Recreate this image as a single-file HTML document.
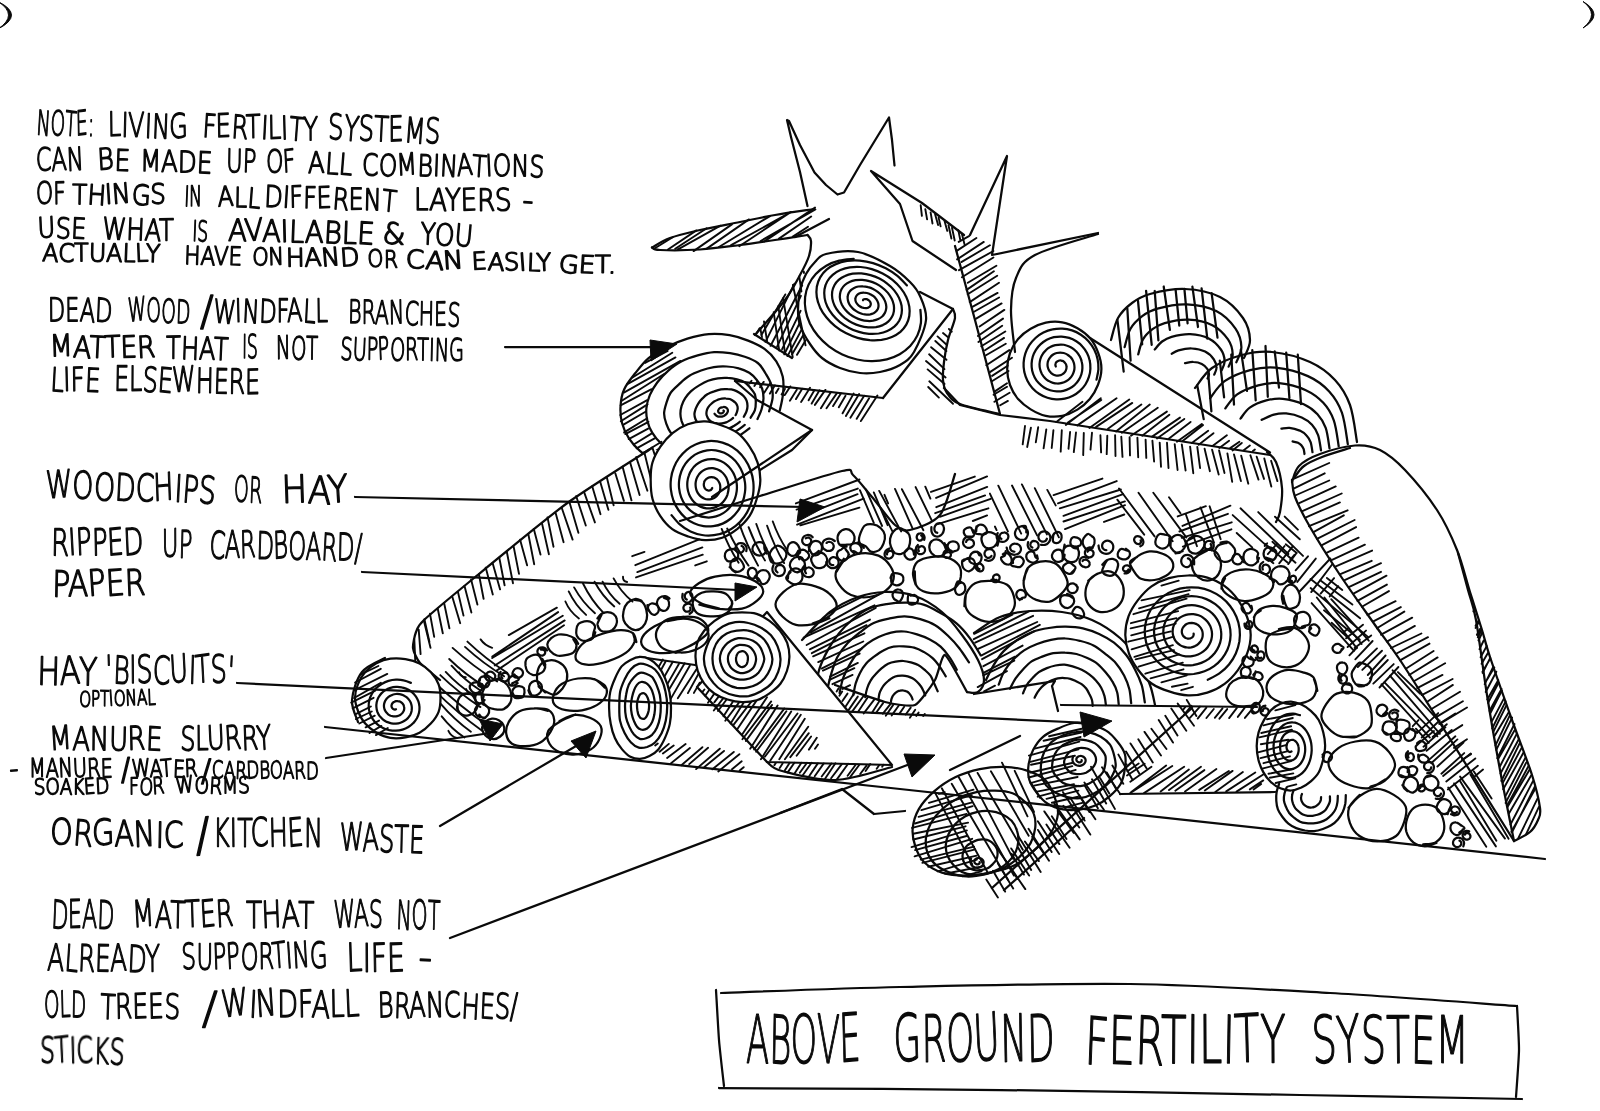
<!DOCTYPE html>
<html lang="en"><head><meta charset="utf-8"><title>Above Ground Fertility System</title>
<style>
html,body{margin:0;padding:0;background:#fff;}
body{width:1600px;height:1111px;overflow:hidden;font-family:"DejaVu Sans Light","DejaVu Sans","Liberation Sans",sans-serif;}
svg{display:block}
.pen{fill:none;stroke:#0a0a0a;stroke-width:2.25;stroke-linecap:round;stroke-linejoin:round}
.h{stroke-width:1.9}.w{fill:#fff}.wf{fill:#fff;stroke:none}
.ink{fill:#0a0a0a;stroke:#0a0a0a;stroke-width:1;stroke-linejoin:round}
text{font-family:"DejaVu Sans Light","DejaVu Sans","Liberation Sans",sans-serif;font-weight:200;fill:#0a0a0a;stroke:#0a0a0a;stroke-width:1.5;stroke-linejoin:round}
</style></head><body>
<svg width="1600" height="1111" viewBox="0 0 1600 1111">
<rect width="1600" height="1111" fill="#fff"/>
<g class="pen">
<path d="M807.5 206L800 172L791 137L787 120L789 121L800 145L814.5 172.5L826 185L837.5 194.5L844 192.5L860 165L889 117.5L892 140L894.5 165.5"/>
<path d="M814 209C807.5 210 787.3 212.8 775 215C762.7 217.2 752.5 219.5 740 222C727.5 224.5 711.7 227.3 700 230C688.3 232.7 678 235.1 670 238C662 240.9 655 245.9 652 247.5"/>
<path d="M652 247.5C653.3 247.9 652 249.7 660 250C668 250.3 686.7 250.3 700 249.5C713.3 248.7 727.5 246.6 740 245C752.5 243.4 763.8 241.7 775 240C786.2 238.3 802.1 235.8 807.5 235"/>
<path d="M807.5 235C808.1 236 810.8 237.5 811 241C811.2 244.5 810.8 250.3 809 256C807.2 261.7 804 267.7 800 275C796 282.3 792.5 290 785 300C777.5 310 760 329.2 755 335"/>
<path class="h" d="M654.5 248.5L672.7 237.3M668 249.5L696.4 230.4M675.2 248.8L706.7 228.2M678 249.3L720.5 225.7M693.6 251.1L731.9 224.4M706.4 248.9L749 219.4M718.9 247L770 216.1M731.1 245.2L790.7 212.2M739.3 246.2L791 211.9M760.6 241L815.4 209.5M764 241.6L815 207.6M779 238.6L811.2 216.5M792.8 236.6L808 226.8"/>
<path d="M795 237L829 219"/>
<path d="M826 254C833.2 252.3 847.3 250 858 252C868.7 254 881.3 261 890 266C898.7 271 905 277 910 282C915 287 917.3 289.7 920 296C922.7 302.3 927 310.7 926 320C925 329.3 918.3 344.5 914 352C909.7 359.5 905.7 361.7 900 365C894.3 368.3 886.7 370.7 880 372C873.3 373.3 866.7 373.7 860 373C853.3 372.3 846.3 370.5 840 368C833.7 365.5 827 362 822 358C817 354 813.7 349.5 810 344C806.3 338.5 802 330.7 800 325C798 319.3 798 315.8 798 310C798 304.2 798.7 296 800 290C801.3 284 803.5 278.7 806 274C808.5 269.3 811.7 265.3 815 262C818.3 258.7 818.8 255.7 826 254Z"/>
<path d="M863 300.3C863 300.2 863.1 299.9 863.3 299.8C863.4 299.6 863.6 299.5 863.8 299.3C864.1 299.2 864.3 299.1 864.6 299.1C864.9 299 865.3 299 865.6 299C866 299 866.3 299.1 866.7 299.2C867.1 299.3 867.5 299.5 867.9 299.7C868.2 299.9 868.6 300.2 868.9 300.4C869.3 300.7 869.6 301.1 869.8 301.4C870.1 301.8 870.3 302.2 870.5 302.6C870.6 303 870.7 303.4 870.8 303.8C870.8 304.2 870.8 304.7 870.6 305.1C870.5 305.5 870.3 305.9 870 306.2C869.8 306.6 869.4 306.9 869 307.2C868.6 307.5 868.1 307.7 867.6 307.9C867 308 866.4 308.1 865.8 308.1C865.1 308.1 864.5 308.1 863.8 308C863.1 307.8 862.4 307.6 861.7 307.4C861 307.1 860.3 306.7 859.7 306.3C859 305.9 858.4 305.4 857.9 304.8C857.4 304.3 856.9 303.7 856.5 303C856.1 302.4 855.8 301.7 855.6 301C855.4 300.3 855.3 299.6 855.4 299C855.4 298.3 855.5 297.6 855.8 297C856.1 296.3 856.4 295.7 856.9 295.2C857.4 294.7 858 294.2 858.7 293.8C859.4 293.4 860.2 293.1 861.1 292.9C861.9 292.8 862.9 292.6 863.8 292.7C864.8 292.7 865.8 292.8 866.8 293C867.9 293.3 868.9 293.6 869.9 294.1C870.9 294.5 871.9 295.1 872.8 295.7C873.7 296.4 874.5 297.1 875.3 297.9C876 298.7 876.6 299.6 877.1 300.5C877.6 301.4 878 302.4 878.3 303.4C878.5 304.3 878.6 305.3 878.5 306.3C878.4 307.2 878.2 308.1 877.8 309C877.4 309.8 876.8 310.7 876.1 311.3C875.4 312 874.5 312.7 873.6 313.2C872.6 313.6 871.5 314 870.3 314.3C869.2 314.5 867.9 314.6 866.6 314.5C865.3 314.5 863.9 314.3 862.5 314C861.2 313.6 859.8 313.1 858.5 312.5C857.2 311.9 855.9 311.1 854.8 310.2C853.6 309.4 852.5 308.4 851.6 307.3C850.7 306.3 849.8 305.1 849.2 303.9C848.6 302.7 848.1 301.4 847.9 300.2C847.6 299 847.5 297.7 847.7 296.5C847.8 295.3 848.1 294.1 848.7 293.1C849.2 292 850 291 850.9 290.1C851.8 289.2 852.9 288.5 854.1 287.9C855.4 287.3 856.8 286.8 858.3 286.5C859.7 286.3 861.4 286.2 863 286.3C864.6 286.3 866.4 286.6 868.1 287.1C869.7 287.5 871.5 288.1 873.1 288.9C874.7 289.7 876.3 290.7 877.7 291.8C879.1 292.9 880.5 294.1 881.6 295.4C882.7 296.7 883.7 298.2 884.4 299.7C885.2 301.1 885.7 302.7 886 304.2C886.3 305.7 886.4 307.3 886.2 308.7C886 310.2 885.6 311.6 884.9 312.9C884.2 314.2 883.3 315.4 882.2 316.5C881 317.5 879.7 318.4 878.2 319.1C876.7 319.8 874.9 320.3 873.1 320.7C871.3 321 869.4 321.1 867.4 320.9C865.4 320.8 863.3 320.5 861.3 319.9C859.3 319.4 857.2 318.6 855.3 317.6C853.4 316.7 851.5 315.5 849.8 314.2C848.2 312.9 846.6 311.4 845.3 309.8C843.9 308.3 842.8 306.5 841.9 304.8C841.1 303 840.4 301.2 840.1 299.4C839.8 297.6 839.7 295.8 840 294.1C840.2 292.4 840.7 290.7 841.5 289.2C842.4 287.6 843.5 286.2 844.8 285C846.1 283.8 847.8 282.7 849.5 281.9C851.3 281.1 853.4 280.5 855.5 280.1C857.6 279.8 859.9 279.7 862.2 279.8C864.5 280 867 280.4 869.3 281.1C871.6 281.7 874 282.7 876.3 283.8C878.5 284.9 880.7 286.3 882.6 287.8C884.6 289.3 886.4 291.1 887.9 292.9C889.4 294.8 890.7 296.8 891.7 298.8C892.7 300.8 893.4 302.9 893.8 305C894.1 307.1 894.2 309.2 893.9 311.1C893.6 313.1 893 315.1 892 316.8C891.1 318.5 889.8 320.2 888.2 321.6C886.7 322.9 884.8 324.1 882.8 325.1C880.7 326 878.4 326.7 875.9 327.1C873.5 327.4 870.8 327.5 868.2 327.4C865.6 327.2 862.8 326.7 860.1 325.9C857.4 325.2 854.7 324.1 852.1 322.8C849.6 321.5 847.1 319.9 844.9 318.2C842.7 316.4 840.7 314.4 838.9 312.3C837.2 310.2 835.7 307.9 834.6 305.7C833.5 303.4 832.7 300.9 832.3 298.6C831.9 296.3 831.9 293.9 832.2 291.6C832.6 289.4 833.3 287.2 834.4 285.2C835.5 283.3 837 281.4 838.7 279.9C840.5 278.3 842.6 277 845 276C847.3 274.9 849.9 274.2 852.7 273.7C855.4 273.3 858.4 273.2 861.4 273.4C864.4 273.7 867.5 274.2 870.5 275.1C873.5 276 876.6 277.2 879.4 278.6C882.3 280.1 885.1 281.9 887.5 283.9C890 285.8 892.3 288.1 894.2 290.4C896.1 292.8 897.8 295.3 899 297.9C900.2 300.5 901.1 303.2 901.6 305.8C902 308.4 902 311.1 901.6 313.6C901.2 316.1 900.4 318.5 899.2 320.7C897.9 322.9 896.3 324.9 894.3 326.7C892.3 328.4 889.9 329.9 887.3 331C884.7 332.2 881.8 333 878.7 333.5C875.7 333.9 872.3 334 869 333.8C865.7 333.5 862.2 332.9 858.9 331.9C855.5 330.9 852.1 329.6 849 327.9C845.8 326.3 842.7 324.3 840 322.1C837.3 319.9 834.7 317.4 832.6 314.8C830.5 312.2 828.7 309.4 827.3 306.5C826 303.7 825 300.7 824.6 297.8C824.1 294.9 824.1 291.9 824.5 289.2C825 286.5 825.9 283.7 827.3 281.3C828.6 278.9 830.5 276.7 832.7 274.8C834.9 272.9 837.5 271.2 840.4 270C843.2 268.8 846.5 267.8 849.9 267.3C853.3 266.9 856.9 266.7 860.6 267C864.2 267.3 868.1 268 871.8 269.1C875.4 270.2 879.2 271.7 882.6 273.5C886.1 275.3 889.5 277.5 892.5 279.9C895.4 282.3 898.2 285.1 900.5 287.9C902.9 290.8 904.8 293.9 906.3 297C907.8 300.1 908.8 303.4 909.3 306.6C909.8 309.8 909.8 313 909.3 316C908.8 319 907.8 322 906.3 324.6C904.8 327.2 902.8 329.7 900.4 331.8C898 333.8 895.1 335.6 891.9 337C888.8 338.3 885.2 339.3 881.5 339.9C877.8 340.4 873.8 340.5 869.8 340.2C865.8 339.8 861.6 339.1 857.6 337.9C853.6 336.7 849.5 335 845.8 333.1C842 331.1 838.3 328.7 835.1 326.1C831.8 323.5 828.8 320.4 826.3 317.3C823.8 314.2 821.6 310.8 820 307.4C818.5 304 817.3 300.4 816.8 297C816.3 293.5 816.3 290 816.8 286.8C817.4 283.5 818.5 280.3 820.2 277.4C821.8 274.6 824 271.9 826.6 269.7C829.2 267.5 832.4 265.5 835.8 264.1C839.2 262.6 843.1 261.5 847.1 260.9C851.1 260.4 855.5 260.3 859.8 260.6C864.1 261 868.6 261.8 873 263.1C877.3 264.4 881.7 266.2 885.8 268.3C889.9 270.5 893.9 273.1 897.4 275.9C900.9 278.8 905.3 283.8 906.9 285.4"/>
<path d="M920.4 309.8C920.5 312 921.4 318.7 920.9 323C920.4 327.3 919.2 331.5 917.4 335.4C915.6 339.2 913.1 342.9 910.2 346C907.2 349.1 903.6 351.9 899.7 354.2C895.8 356.4 891.4 358.2 886.8 359.3C882.2 360.5 877.2 361.1 872.3 361.1C867.3 361.2 862.1 360.6 857.1 359.5C852.1 358.3 847 356.6 842.3 354.4C837.6 352.2 833 349.4 828.9 346.3C824.9 343.2 821 339.6 817.9 335.8C814.7 332 812 327.7 809.9 323.5C807.9 319.2 806.4 314.7 805.6 310.2C804.8 305.8 804.6 301.3 805.1 297C805.6 292.7 806.8 288.5 808.6 284.6C810.4 280.8 812.9 277.1 815.8 274C818.8 270.9 822.4 268.1 826.3 265.8C830.2 263.6 834.6 261.8 839.2 260.7C843.8 259.5 851.3 259.2 853.7 258.9"/>
<path d="M920 292L953 309L883 398"/>
<path d="M953 309C953.3 310.5 955.8 312.8 955 318C954.2 323.2 949.8 332.7 948 340C946.2 347.3 944.8 355.3 944 362C943.2 368.7 942.5 374.8 943 380C943.5 385.2 944.2 389 947 393C949.8 397 951.2 400.5 960 404C968.8 407.5 993.3 412.3 1000 414"/>
<path class="h" d="M948.9 329L951.8 331.7M943 333L947.8 336.9M937.5 336.4L946.6 344.7M935.3 341L946.4 351M931.1 347.2L946.5 359.8M929.1 354.3L944.5 369.1M926 361L945.6 377.4M927.6 369.4L944.6 384M929.3 381.3L953 403.8M928.2 387L938.9 397.6"/>
<path d="M735 381L883 398"/>
<path class="h" d="M749.7 383.4L751.5 380.7M754.4 386L757 382M760.1 387.3L763.7 381.9M764.2 392.8L770.4 383M769.9 393.6L774.8 385.4M775.9 393L778.6 388.5M781.6 394.5L784.9 388.9M784.8 395.1L790.3 386.4M789.9 400.8L796.8 389.7M796 399.1L802.2 388.7M801.1 401.9L810 387.8M808.6 400.2L814.5 390.1M811.7 403.6L819.5 390.2M814.9 404.9L825.4 389.9M820.9 408.2L831 391.9M826.5 408.3L837.1 392.9M833.1 406.1L840.9 393.4M838.8 407.2L845.5 395.8M842.6 413.3L853.6 393.6M845.9 415.9L859.1 394M850.4 417.7L864.2 395.7M856.7 418.8L869.1 398.3M860.9 421.1L877.4 395.5"/>
<path d="M754 334L792 358"/>
<path class="h" d="M757 332.8L759.4 328.5M761.4 335L785.3 294.4M765.5 341.8L794.4 283.7M770.6 345.8L802.2 285.3M777.1 346.6L800.9 295.8M782.1 349.2L800.6 310.8M784.3 354.3L799.9 322.5M787.5 356.1L801.9 329.1M792.1 354.3L803.3 335.1M797 354.8L805.7 340.3"/>
<path class="h" d="M803.8 271.5L804 273M799.3 276.4L801.4 291.5M792.9 285L805.5 345.3M783.1 298.2L792.7 357.2M778.3 306.2L785.1 353.6M773.7 312.1L779.2 350.6M764 321.4L767.1 341.3M760.2 328L762 337.1"/>
<path d="M964 235L922 203L871 171L900 204L912.5 241L956 270"/>
<path class="h" d="M920.7 205.3L921.9 215.9M925.3 209.2L927.1 219.4M930.6 212.4L932.5 223.5M935.1 214.2L938.1 225M938.6 217.6L940.6 226.4M944.6 221.2L947.3 230.9M948.5 225.3L951.4 238.5M952 227.8L954.7 240.5M958.3 230.1L960.2 239.5M962 234.2L964.5 244.3"/>
<path d="M955 246L975 320L1000 414"/>
<path d="M970 235L1007 156L992 255L1098 233"/>
<path d="M1098 234C1087.5 237.5 1048.7 247.7 1035 255C1021.3 262.3 1020 268.8 1016 278C1012 287.2 1011.2 297.7 1011 310C1010.8 322.3 1014.3 345 1015 352"/>
<path class="h" d="M958.7 241.9L969 236.1M956.7 250.9L976.4 238M957.1 259.4L983.8 241.9M961.7 261.9L989.9 245.3M959 270.2L993.4 251M961.9 277.3L993.4 257.5M967.8 282.7L996.4 265.7M966.6 289.9L993.9 271.3M967.7 294.2L997.2 275.8M969.7 302.1L999 282.7M972.8 306.7L997.6 292.9M973.6 312L999.1 297.5M975.3 319.1L1001.6 303.4M979.6 326.5L1004.3 309.9M977.9 336L1003 318.6M978.4 342L1002.2 325.7M981.3 346.3L1005.3 331.5M985 350.2L1004.1 337.9M986 355.2L1005.8 343.7M986.3 365.3L1009.3 350.1M990.3 371.9L1012 357.8M992.1 375.9L1007.7 365.8M992.3 381L1008.5 371M994.9 391.4L1007 383.2M993.6 394.8L1007 386.8M994.4 401.7L1009.6 392.7M1000.2 405.3L1007.9 400.9"/>
<path d="M1101.4 369C1101.4 374.3 1099.8 380 1097.9 385C1096 390 1093.2 394.9 1089.8 399C1086.4 403.1 1082 406.8 1077.4 409.6C1072.8 412.4 1067.5 414.8 1062.3 415.9C1057 416.9 1051 416.9 1045.7 415.8C1040.5 414.8 1035.3 412.2 1030.7 409.4C1026.1 406.6 1021.6 403.1 1018.1 399.1C1014.7 395 1011.8 390 1010 385C1008.2 380 1007.2 374.3 1007.2 369C1007.2 363.7 1008.2 358 1010 353C1011.8 348 1014.7 342.9 1018.1 338.9C1021.6 334.8 1026.1 331.4 1030.7 328.7C1035.3 326 1040.6 323.7 1045.8 322.6C1051.1 321.6 1056.9 321.4 1062.2 322.3C1067.5 323.2 1072.8 325.6 1077.5 328.2C1082.2 330.9 1086.9 334.4 1090.4 338.5C1093.8 342.6 1096.4 347.8 1098.2 352.9C1100.1 358 1101.5 363.7 1101.4 369Z"/>
<path d="M1055.8 366.6C1055.8 366.4 1055.6 366 1055.5 365.7C1055.4 365.4 1055.4 365 1055.4 364.7C1055.4 364.3 1055.4 363.9 1055.6 363.6C1055.7 363.2 1055.9 362.9 1056.1 362.5C1056.3 362.2 1056.6 361.9 1056.9 361.6C1057.3 361.3 1057.7 361.1 1058.1 360.9C1058.5 360.7 1059 360.6 1059.5 360.5C1060 360.4 1060.5 360.4 1061 360.5C1061.5 360.6 1062.1 360.7 1062.6 360.9C1063.1 361.1 1063.6 361.4 1064 361.8C1064.4 362.2 1064.9 362.6 1065.2 363.1C1065.6 363.6 1065.9 364.2 1066.1 364.7C1066.3 365.3 1066.5 366 1066.5 366.7C1066.6 367.3 1066.5 368 1066.4 368.7C1066.3 369.4 1066 370.1 1065.7 370.7C1065.4 371.3 1065 372 1064.5 372.5C1064 373.1 1063.4 373.6 1062.7 374C1062.1 374.5 1061.4 374.8 1060.6 375.1C1059.8 375.3 1059 375.5 1058.2 375.5C1057.3 375.5 1056.5 375.5 1055.6 375.3C1054.8 375.1 1053.9 374.8 1053.1 374.4C1052.4 373.9 1051.6 373.4 1050.9 372.8C1050.3 372.1 1049.6 371.4 1049.2 370.6C1048.7 369.8 1048.2 368.9 1048 367.9C1047.7 367 1047.5 366 1047.5 365C1047.5 364 1047.6 362.9 1047.8 361.9C1048.1 360.9 1048.5 359.9 1049 359C1049.5 358.1 1050.2 357.2 1050.9 356.4C1051.7 355.6 1052.6 354.9 1053.6 354.3C1054.5 353.8 1055.6 353.3 1056.7 353C1057.8 352.7 1059 352.5 1060.2 352.5C1061.4 352.5 1062.6 352.7 1063.7 353C1064.9 353.3 1066.1 353.8 1067.1 354.4C1068.2 355 1069.2 355.8 1070.1 356.7C1071 357.5 1071.8 358.6 1072.5 359.7C1073.1 360.8 1073.6 362.1 1074 363.4C1074.3 364.6 1074.5 366 1074.5 367.4C1074.5 368.7 1074.3 370.1 1073.9 371.4C1073.5 372.7 1073 374.1 1072.3 375.3C1071.6 376.5 1070.7 377.7 1069.6 378.7C1068.6 379.7 1067.4 380.6 1066.1 381.3C1064.9 382 1063.4 382.6 1062 382.9C1060.5 383.3 1059 383.5 1057.5 383.5C1056 383.4 1054.4 383.2 1052.9 382.8C1051.4 382.4 1049.9 381.7 1048.6 380.9C1047.2 380.1 1045.9 379.1 1044.8 377.9C1043.7 376.8 1042.7 375.4 1041.9 374C1041.1 372.5 1040.5 370.9 1040.1 369.3C1039.7 367.7 1039.5 366 1039.5 364.3C1039.6 362.6 1039.8 360.9 1040.3 359.2C1040.8 357.6 1041.5 355.9 1042.5 354.4C1043.4 352.9 1044.5 351.5 1045.8 350.3C1047.1 349 1048.6 347.9 1050.2 347.1C1051.8 346.2 1053.5 345.5 1055.3 345.1C1057.1 344.7 1059 344.5 1060.9 344.5C1062.7 344.6 1064.7 344.9 1066.5 345.5C1068.3 346 1070.1 346.8 1071.7 347.8C1073.4 348.8 1074.9 350.1 1076.3 351.5C1077.6 352.9 1078.8 354.6 1079.7 356.3C1080.7 358.1 1081.4 360 1081.8 362C1082.3 363.9 1082.5 366 1082.4 368.1C1082.4 370.1 1082 372.2 1081.4 374.2C1080.8 376.1 1079.9 378.1 1078.8 379.9C1077.7 381.7 1076.3 383.4 1074.8 384.8C1073.2 386.2 1071.4 387.5 1069.5 388.5C1067.6 389.5 1065.5 390.3 1063.4 390.8C1061.3 391.3 1059 391.5 1056.8 391.4C1054.6 391.4 1052.3 391 1050.2 390.3C1048 389.6 1045.9 388.7 1044 387.5C1042.1 386.3 1040.2 384.7 1038.7 383.1C1037.1 381.4 1035.7 379.4 1034.7 377.4C1033.6 375.3 1032.7 373 1032.2 370.7C1031.7 368.4 1031.5 366 1031.6 363.6C1031.7 361.2 1032.1 358.8 1032.8 356.5C1033.5 354.2 1034.6 351.9 1035.9 349.8C1037.2 347.8 1038.8 345.8 1040.7 344.1C1042.5 342.5 1044.6 341 1046.8 339.8C1049 338.7 1051.5 337.8 1053.9 337.2C1056.4 336.7 1059 336.5 1061.6 336.6C1064.1 336.7 1066.8 337.2 1069.2 337.9C1071.7 338.7 1074.1 339.9 1076.3 341.3C1078.5 342.7 1080.6 344.4 1082.4 346.4C1084.2 348.3 1085.8 350.6 1087 353C1088.2 355.3 1089.2 357.9 1089.7 360.6C1090.3 363.2 1090.5 366 1090.4 368.7C1090.3 371.5 1089.8 374.3 1088.9 376.9C1088.1 379.5 1086.9 382.1 1085.4 384.5C1083.9 386.8 1082 389 1079.9 390.9C1077.8 392.8 1075.4 394.5 1072.9 395.8C1070.4 397.1 1067.6 398.1 1064.8 398.7C1062 399.3 1059 399.6 1056.1 399.4C1053.2 399.3 1050.2 398.7 1047.4 397.8C1044.6 396.9 1041.9 395.6 1039.4 394C1036.9 392.4 1034.5 390.4 1032.5 388.2C1030.5 386 1028.8 383.4 1027.4 380.7C1026 378.1 1025 375.1 1024.3 372.1C1023.7 369.1 1023.4 366 1023.6 362.9C1023.8 359.8 1024.3 356.7 1025.3 353.7C1026.3 350.8 1027.6 347.9 1029.3 345.2C1031.1 342.6 1033.2 340.1 1035.5 338C1037.9 335.9 1040.6 334 1043.4 332.6C1046.3 331.1 1049.4 330 1052.5 329.4C1055.7 328.7 1059 328.4 1062.3 328.6C1065.5 328.8 1068.8 329.4 1072 330.4C1075.1 331.4 1078.1 332.9 1080.9 334.7C1083.7 336.5 1086.3 338.8 1088.5 341.2C1090.7 343.7 1092.7 346.6 1094.2 349.6C1095.7 352.6 1096.9 355.9 1097.6 359.2C1098.3 362.5 1098.6 366 1098.4 369.4C1098.2 372.9 1096.8 377.9 1096.5 379.6"/>
<path d="M1090 338L1270 452.5"/>
<path d="M944 388L960 405L1000 415L1050 421L1270 455"/>
<path d="M1267 452C1268.5 453.7 1273.5 456 1276 462C1278.5 468 1281.3 479.7 1282 488C1282.7 496.3 1281 506.3 1280 512C1279 517.7 1276.7 520.3 1276 522"/>
<path class="h" d="M1056.3 421.9L1082.5 401.8M1065.8 425L1100.8 398.2M1067.9 422.5L1101.3 399.9M1077.4 425.4L1116.6 398.2M1089.4 428L1129.3 399.6M1096.1 426.9L1132.3 402.9M1108 428.7L1141.4 404.6M1116 431.5L1149.8 404.6M1121.8 432.7L1157.8 407.7M1131 435.8L1166.9 411.6M1142.2 435.7L1169.4 414.8M1152.1 436.6L1180 417.6M1157 438.5L1184.3 418.9M1168.7 438.7L1190.6 421.9M1176.9 441.7L1201.8 423.9M1182.6 441.1L1203.1 425M1191.8 442.9L1208.2 430.7M1198.7 444.8L1213.5 433.2M1212.5 445.9L1226.9 435.3M1219.3 448L1229.1 440.7M1230.2 448.1L1239.4 441.8M1232.5 450.4L1241.8 442.9M1243.7 450.2L1249.9 445.6M1252.9 451.1L1254.9 449.6"/>
<path class="h" d="M1025 426L1022.7 444.3M1030.9 427.7L1027.2 447M1038.2 427.2L1035.8 442.4M1046.3 429.4L1043.6 448.4M1053.4 430.3L1051.7 448M1061.8 430.3L1060.7 451.6M1070.1 432L1068.5 448.8M1076 432.5L1073.8 452.1M1083.8 432.9L1083.2 455.1M1092 432.7L1090.5 449.6M1100.4 435.3L1101.1 452.4M1107.3 435.7L1106.7 454.1M1115.1 435.1L1115.5 456.1M1121.3 436.7L1122.5 456.9M1129.6 437.3L1130 455.4M1137.4 437.6L1138.2 457.3M1145.6 439.6L1146.3 457.9M1152.4 440.7L1154.1 461.5M1159.7 442.6L1161 466.7M1167 442.7L1168.5 468M1174.7 444.1L1177.6 470M1181.8 444.4L1185.6 470.5M1190.1 446.7L1193.3 473.2M1197.3 446.9L1200.1 468.1M1204.6 448.7L1209.9 471.2M1212.1 449.7L1218.7 474.5M1219.1 450.5L1224.5 473M1227.4 453.4L1232.2 481.9M1234 454.4L1240.9 481.1M1241.2 455.7L1248.3 483.7M1250.4 455.3L1258.5 479.6M1256.7 456.7L1264 478.9M1264.3 458.5L1271.3 486.6M1271.1 460.8L1277.4 481.1"/>
<path d="M1111 340C1112.2 336.3 1114.5 324.2 1118 318C1121.5 311.8 1126.7 307 1132 303C1137.3 299 1141.2 296.3 1150 294C1158.8 291.7 1173.3 288.5 1185 289C1196.7 289.5 1210.3 292.2 1220 297C1229.7 301.8 1238 310.8 1243 318C1248 325.2 1249.8 333.3 1250 340C1250.2 346.7 1245 355 1244 358"/>
<path d="M1124.6 347.2C1125.6 344.1 1127.5 333.9 1130.5 328.7C1133.4 323.5 1137.8 319.5 1142.2 316.1C1146.7 312.8 1149.9 310.5 1157.4 308.6C1164.8 306.6 1177 303.9 1186.8 304.4C1196.6 304.8 1208 307 1216.2 311.1C1224.3 315.1 1231.3 322.7 1235.5 328.7C1239.7 334.7 1241.2 341.6 1241.4 347.2C1241.5 352.8 1237.2 359.8 1236.3 362.3"/>
<path d="M1138.2 354.4C1139 351.9 1140.6 343.6 1143 339.4C1145.3 335.2 1148.9 332 1152.5 329.2C1156.1 326.5 1158.7 324.7 1164.7 323.1C1170.7 321.5 1180.6 319.4 1188.5 319.7C1196.5 320.1 1205.7 321.9 1212.3 325.2C1218.9 328.4 1224.6 334.6 1228 339.4C1231.4 344.3 1232.6 349.9 1232.7 354.4C1232.8 358.9 1229.3 364.6 1228.6 366.6"/>
<path d="M1154.7 349.5C1155.9 348.2 1159.3 343.7 1162.1 341.5C1164.9 339.4 1166.9 338 1171.6 336.8C1176.3 335.5 1184 333.9 1190.2 334.1C1196.4 334.4 1203.6 335.8 1208.7 338.4C1213.8 340.9 1218.3 345.7 1220.9 349.5C1223.6 353.3 1224.5 357.6 1224.6 361.1C1224.7 364.7 1222 369.1 1221.4 370.7"/>
<path d="M1171.7 353.8C1172.8 353.3 1175.2 351.3 1178.5 350.4C1181.9 349.5 1187.4 348.3 1191.8 348.5C1196.3 348.7 1201.4 349.7 1205.1 351.6C1208.8 353.4 1212 356.8 1213.9 359.5C1215.8 362.3 1216.5 365.4 1216.5 367.9C1216.6 370.4 1214.6 373.6 1214.2 374.7"/>
<path d="M1185 363.2C1186.4 363 1190.6 361.8 1193.4 362C1196.2 362.1 1199.4 362.7 1201.8 363.9C1204.1 365 1206.1 367.2 1207.3 368.9C1208.5 370.6 1208.9 372.6 1209 374.2C1209 375.8 1207.8 377.8 1207.5 378.5"/>
<path d="M1117.4 320L1123.7 371.6"/>
<path d="M1127.3 308.2L1130.6 360.7"/>
<path d="M1138 300.8L1142.2 344.3"/>
<path d="M1146.1 290.9L1151.7 344.8"/>
<path d="M1154.7 291L1158.4 340.3"/>
<path d="M1163.7 286.5L1169.9 329.9"/>
<path d="M1175.6 289.7L1179.3 325.7"/>
<path d="M1184.4 288.8L1187.6 323.4"/>
<path d="M1192.4 286.7L1198 327"/>
<path d="M1201.6 288.4L1207.3 338.7"/>
<path d="M1211.6 293.1L1217.5 337.6"/>
<path d="M1195 388C1197.8 384.7 1204.2 373.5 1212 368C1219.8 362.5 1232 357.7 1242 355C1252 352.3 1260.7 350.8 1272 352C1283.3 353.2 1299.5 357.3 1310 362C1320.5 366.7 1328.3 372.8 1335 380C1341.7 387.2 1346.3 394.7 1350 405C1353.7 415.3 1355.8 435.8 1357 442"/>
<path d="M1210.2 398.2C1212.6 395.4 1217.9 385.9 1224.6 381.2C1231.3 376.5 1241.6 372.4 1250.1 370.1C1258.6 367.9 1266 366.6 1275.6 367.6C1285.2 368.6 1299 372.1 1307.9 376.1C1316.8 380.1 1323.5 385.3 1329.2 391.4C1334.8 397.5 1338.8 403.9 1341.9 412.6C1345 421.4 1346.9 438.9 1347.8 444.1"/>
<path d="M1225.3 408.4C1227.3 406.1 1231.7 398.2 1237.2 394.4C1242.7 390.5 1251.2 387.2 1258.2 385.3C1265.2 383.4 1271.3 382.4 1279.2 383.2C1287.1 384 1298.5 386.9 1305.8 390.2C1313.1 393.5 1318.6 397.8 1323.3 402.8C1328 407.8 1331.2 413.1 1333.8 420.3C1336.4 427.5 1337.9 441.9 1338.7 446.2"/>
<path d="M1240.5 418.6C1242 416.8 1245.5 410.6 1249.8 407.6C1254.1 404.6 1260.8 401.9 1266.3 400.4C1271.8 399 1276.6 398.2 1282.8 398.8C1289 399.4 1297.9 401.7 1303.7 404.3C1309.5 406.9 1313.8 410.3 1317.5 414.2C1321.1 418.1 1323.7 422.3 1325.7 427.9C1327.7 433.6 1328.9 444.9 1329.5 448.3"/>
<path d="M1261.6 419.9C1263.6 419 1269.8 415.7 1273.9 414.6C1278 413.5 1281.5 412.9 1286.2 413.4C1290.8 413.8 1297.4 415.5 1301.7 417.5C1306 419.4 1309.3 421.9 1312 424.8C1314.7 427.8 1316.6 430.9 1318.1 435.1C1319.6 439.3 1320.5 447.7 1321 450.3"/>
<path d="M1281.4 428.7C1282.8 428.6 1286.5 427.6 1289.5 427.9C1292.6 428.2 1296.9 429.4 1299.8 430.6C1302.6 431.9 1304.7 433.5 1306.5 435.5C1308.3 437.4 1309.6 439.4 1310.6 442.2C1311.6 445 1312.2 450.6 1312.5 452.2"/>
<path d="M1292.6 441.4C1293.5 441.7 1296.5 442.2 1298 442.8C1299.4 443.5 1300.5 444.4 1301.5 445.4C1302.4 446.4 1303 447.4 1303.6 448.9C1304.1 450.3 1304.4 453.2 1304.5 454"/>
<path d="M1197.2 385.3L1203.7 419.1"/>
<path d="M1208.3 374.4L1211.4 411.3"/>
<path d="M1219.8 360.7L1224.1 397.3"/>
<path d="M1231.3 354.5L1234 404.6"/>
<path d="M1240.8 349.7L1247 390.9"/>
<path d="M1252.3 350.2L1255.7 400.3"/>
<path d="M1265.5 346L1267.8 396.8"/>
<path d="M1274.7 351.4L1279 387.7"/>
<path d="M1286.2 352.6L1289.4 398.2"/>
<path d="M1297.8 354.7L1301 404.1"/>
<path d="M1292 480C1292.5 482.8 1292 489.2 1295 497C1298 504.8 1302.5 514 1310 527C1317.5 540 1329.2 558.7 1340 575C1350.8 591.3 1365 610.8 1375 625C1385 639.2 1389.2 643.7 1400 660C1410.8 676.3 1421 692.8 1440 723C1459 753.2 1501.7 821.3 1514 841"/>
<path d="M1292 482C1293.2 479.3 1294.3 470.7 1299 466C1303.7 461.3 1310.7 457.4 1320 454C1329.3 450.6 1345 446.2 1355 445.5C1365 444.8 1371.7 445.9 1380 450C1388.3 454.1 1395.5 460 1405 470C1414.5 480 1428.3 496.7 1437 510C1445.7 523.3 1451.5 536.3 1457 550C1462.5 563.7 1465.8 578.7 1470 592C1474.2 605.3 1478.7 619.2 1482 630C1485.3 640.8 1485 642 1490 657C1495 672 1505 700.3 1512 720C1519 739.7 1527.3 760.3 1532 775C1536.7 789.7 1539 800.5 1540 808C1541 815.5 1539.7 816 1538 820C1536.3 824 1534 828.5 1530 832C1526 835.5 1516.7 839.5 1514 841"/>
<path d="M1294 478C1295.7 476 1299.3 469.5 1304 466C1308.7 462.5 1314.3 460 1322 457C1329.7 454 1345.3 449.5 1350 448"/>
<path d="M1458 553C1459.7 559.2 1465 578.8 1468 590C1471 601.2 1472.8 602.5 1476 620C1479.2 637.5 1483 670 1487 695C1491 720 1495.5 745.7 1500 770C1504.5 794.3 1511.7 829.2 1514 841"/>
<path class="h" d="M1473.4 611.4L1474.6 608.8M1475.6 625.8L1478.5 620.8M1475.6 627.9L1479 621.7M1476.9 634.8L1480.2 628.8M1477.8 637.1L1481.1 630.8M1478.5 640.5L1482.3 632.6M1479.5 649.1L1483.7 640.5M1480.6 657.2L1486.7 646.1M1481.6 663.8L1487.9 652.9M1482.5 671.8L1490.3 658.4M1482.7 672.9L1490.2 657.8M1485 683L1494.3 667.5M1484.7 684.1L1493.2 666.9M1485.7 692L1496.3 671.7M1487.3 699.5L1498.2 680.1M1488.1 702.8L1498.6 682.8M1489.6 710.8L1501.5 688.9M1490.7 712.5L1501.9 690.6M1492.1 720.9L1504.1 698.1M1492.2 728.5L1505.6 701.4M1493.3 731.9L1506.4 705.3M1494.8 735.6L1508.6 712.4M1495.5 745.4L1509.8 715.3M1496.3 749.9L1512.1 717.6M1497.3 758.1L1514.5 724M1498.7 758.1L1514.6 730.2M1500 766.2L1516.7 733.9M1500.5 773.5L1518.5 739.7M1501.3 781L1519.9 742.8M1502.9 782.6L1521.6 747.9M1503.2 789.2L1523.4 752.8M1505.7 795.6L1525.2 758.1M1505.6 802.9L1526.3 762.4M1507.7 804.5L1528.4 766.3M1507.6 806.8L1530.1 768.7M1508.9 813.6L1531.1 775.4M1510.5 824.5L1533.1 780.9M1512.1 832.1L1534.8 786.8M1511.4 831.8L1535.1 789.1M1518.3 838.2L1537.7 798.2M1525.9 834.6L1538.9 806.9"/>
<path class="h" d="M1291.9 479.7L1329.2 463M1293.1 488.8L1324.7 473.3M1295.2 495.5L1329.2 480.5M1299.2 503.2L1335.7 486.4M1302.4 511.1L1341.7 493.5M1305.4 517.7L1339.9 502.4M1309 526.2L1347.6 510.3M1313.4 532.1L1343.8 515.3M1317 538.8L1354.6 520M1321.5 545.3L1356.1 527.1M1325.9 553.2L1358.6 537.7M1331 560.3L1364.9 544.7M1334.7 566.8L1372.1 550.6M1339.8 574.4L1371.7 560.8M1344.7 580.1L1381 563.2M1348.8 587.2L1381 571.8M1353.5 593.6L1386.5 575.7M1357.4 600.9L1386.9 584.6M1361.9 606.7L1388.9 591.1M1367.4 614.8L1395.6 601.2M1372.9 621.7L1400.8 607.1M1376.9 628.2L1404.3 611.6M1381.1 634.7L1412.2 617.7M1386.9 641.6L1414.9 625.9M1391 648L1421.4 633.5M1396.5 653.5L1428 637.2M1400 660.3L1429.5 643.6M1405.8 668.7L1433.6 651M1409.2 675L1437.6 657.4M1414.7 680.7L1445.1 663.3M1417.2 688.1L1442.5 674.9M1421.7 695.1L1452.6 679M1426.8 702L1452.9 684.9M1431.9 708.8L1460 691.8M1436.1 717.1L1462.9 701.2M1440.1 723.6L1467 707.5"/>
<path class="h" d="M1439.2 723.9L1455.3 713.5M1446.6 735L1462.3 725.1M1454 747.9L1467 739.2M1462 759.7L1471.1 754.1"/>
<path d="M716.5 461.1C713 461.7 702.3 464.2 695.3 464.8C688.4 465.3 681.4 465 674.7 464.3C667.9 463.6 660.7 462.9 654.9 460.6C649.1 458.4 644.2 454.6 639.9 450.8C635.5 447.1 631.7 442.8 628.8 438.2C625.8 433.6 623.5 428.5 622.1 423.3C620.7 418 620.2 412.4 620.5 406.7C620.8 401.1 621.6 395 624.1 389.5C626.5 383.9 631.1 378.5 635.2 373.3C639.3 368.1 643.3 362.6 648.6 358.1C654 353.7 660.6 350 667.1 346.7C673.6 343.5 680.5 340.8 687.4 338.6C694.4 336.5 701.8 334.6 708.8 334.1C715.8 333.5 723 334.1 729.6 335.2C736.1 336.3 742.3 338.3 748.1 340.6C753.9 342.9 759.8 345.4 764.5 348.9C769.2 352.3 773.2 356.7 776.3 361.3C779.3 365.9 781.6 371.1 782.7 376.5C783.9 381.8 783.6 387.6 783.1 393.3C782.6 399 780.4 407.7 779.8 410.5"/>
<path d="M720.5 451.2C717.7 451.8 709.3 454.1 703.8 454.5C698.3 454.8 692.9 454.1 687.7 453.4C682.5 452.7 677.2 451.8 672.7 450C668.2 448.2 663.9 445.7 660.5 442.8C657 439.9 654.4 436.3 652.2 432.7C650 429 648.4 425 647.4 420.9C646.4 416.8 646 412.4 646.4 408.1C646.8 403.8 648.1 399.2 649.9 394.9C651.7 390.6 654.4 386.2 657.4 382.2C660.5 378.2 664.1 374.3 668.1 370.8C672.2 367.3 676.8 363.8 681.7 361.3C686.6 358.7 692.3 356.9 697.7 355.4C703.1 353.9 708.7 352.5 714.1 352.1C719.5 351.7 725 352.4 730.1 353.1C735.2 353.9 740.1 355.1 744.8 356.7C749.4 358.3 754.3 360.2 757.8 363C761.3 365.7 763.3 369.8 765.6 373.5C767.8 377.1 770.2 380.8 771.3 384.9C772.5 388.9 773 393.4 772.6 397.8C772.2 402.2 769.7 409 769.1 411.3"/>
<path d="M749.4 428.3C747.7 429.6 742.6 433.6 738.9 435.9C735.2 438.2 731.2 440.4 727.1 442C723 443.5 718.5 444.7 714.2 445.3C709.8 446 705.4 446.1 701.2 445.9C697 445.7 692.7 445.2 689 444C685.4 442.8 682.4 440.6 679.3 438.6C676.3 436.7 672.8 434.9 670.6 432.4C668.4 429.8 667.3 426.5 666.2 423.4C665.1 420.3 664.1 417 664.1 413.6C664.1 410.3 665.2 406.7 666.3 403.3C667.4 399.8 668.3 396.2 670.5 393C672.6 389.8 676.1 386.9 679.2 384.1C682.3 381.2 685.3 378.2 689 376C692.6 373.7 696.9 372 701.1 370.5C705.2 369 709.6 367.8 713.9 367.1C718.1 366.4 722.5 366.3 726.7 366.5C730.8 366.7 735 367.2 738.8 368.3C742.6 369.3 746.3 370.8 749.3 372.8C752.3 374.7 754.7 377.4 756.8 380C758.9 382.6 761 385.4 762.1 388.5C763.2 391.6 763.5 395 763.5 398.4C763.4 401.8 762.7 405.3 761.7 408.7C760.8 412.2 758.2 417.3 757.5 419"/>
<path d="M744.8 424.9C743.5 425.8 739.7 428.9 736.9 430.6C734.1 432.4 731 433.9 727.9 435.1C724.7 436.4 721.4 437.5 718.1 437.9C714.8 438.4 711.5 438.2 708.3 438.1C705.1 437.9 701.8 437.7 699 436.9C696.1 436.1 693.5 434.7 691.2 433.2C688.9 431.7 686.6 430 685 428C683.4 426 682.4 423.6 681.6 421.2C680.9 418.9 680.4 416.3 680.4 413.8C680.4 411.2 680.8 408.5 681.6 405.9C682.4 403.3 683.6 400.7 685.2 398.2C686.8 395.7 688.8 393.2 691.1 391.1C693.5 389 696.3 387.1 699.2 385.4C702 383.7 705 381.9 708.1 380.7C711.2 379.6 714.6 378.8 717.9 378.3C721.2 377.8 724.5 377.7 727.7 377.9C730.9 378 734 378.5 736.9 379.3C739.8 380.1 742.8 381.1 745.1 382.5C747.3 384 748.9 386.2 750.6 388.2C752.3 390.2 754.1 392.2 755 394.5C755.8 396.9 755.8 399.6 755.8 402.2C755.8 404.8 755.8 407.5 754.9 410.1C754.1 412.7 751.3 416.5 750.6 417.7"/>
<path d="M739.8 421.8C738.9 422.5 736.1 424.5 734.2 425.7C732.2 426.9 730.1 428.2 727.9 429C725.7 429.8 723.3 430.1 721 430.4C718.8 430.7 716.5 430.9 714.3 430.8C712.1 430.8 709.8 430.5 707.8 429.9C705.9 429.3 704.2 428.3 702.6 427.3C701 426.2 699.6 425 698.4 423.7C697.2 422.4 696.2 420.9 695.5 419.3C694.9 417.7 694.4 415.9 694.4 414.1C694.5 412.3 695.1 410.4 695.7 408.6C696.4 406.8 697.3 405 698.4 403.3C699.5 401.6 700.9 399.9 702.5 398.4C704 396.8 705.7 395.2 707.7 394.1C709.6 392.9 712 392.1 714.2 391.4C716.4 390.6 718.7 389.8 721 389.4C723.2 389 725.5 389 727.7 389.2C729.9 389.3 732.2 389.5 734.1 390.1C736.1 390.7 737.8 391.7 739.4 392.7C741 393.7 742.6 394.9 743.8 396.2C745 397.5 746 399.1 746.6 400.7C747.2 402.3 747.5 404.1 747.5 405.9C747.5 407.7 747.1 409.6 746.5 411.4C745.9 413.2 744.2 415.9 743.8 416.8"/>
<path d="M733.1 418C732.5 418.4 730.9 419.7 729.8 420.4C728.6 421.1 727.4 421.9 726.1 422.4C724.9 422.9 723.4 423.2 722.1 423.4C720.7 423.6 719.3 423.6 718 423.5C716.7 423.4 715.4 423.2 714.2 422.9C713.1 422.5 712 422 711.1 421.4C710.1 420.7 709.2 420 708.6 419.2C707.9 418.4 707.4 417.4 707.1 416.4C706.7 415.5 706.4 414.4 706.4 413.4C706.4 412.3 706.6 411.2 706.9 410.1C707.2 409 707.8 407.9 708.5 406.9C709.2 405.9 710.1 404.9 711.1 404C712 403.1 713 402.2 714.1 401.5C715.3 400.8 716.6 400.2 717.9 399.7C719.2 399.3 720.6 398.9 721.9 398.7C723.3 398.5 724.7 398.4 726 398.5C727.3 398.5 728.7 398.7 729.8 399C731 399.4 731.9 400.1 732.9 400.7C733.8 401.3 734.7 402 735.5 402.8C736.2 403.6 736.8 404.5 737.2 405.5C737.6 406.4 737.7 407.5 737.7 408.6C737.6 409.7 737.3 410.8 737 411.9C736.7 413 735.8 414.6 735.6 415.1"/>
<path d="M723.5 410.5C723.6 410.6 723.8 410.8 723.8 411.1C723.9 411.4 723.8 411.7 723.6 412C723.4 412.3 723.1 412.7 722.7 412.9C722.3 413.1 721.8 413.3 721.3 413.4C720.8 413.4 720.1 413.4 719.7 413.2C719.2 413 718.7 412.7 718.5 412.3C718.2 411.9 718.1 411.3 718.1 410.8C718.2 410.2 718.5 409.6 718.9 409C719.4 408.5 720 408 720.8 407.6C721.5 407.3 722.4 407 723.3 407C724.1 406.9 725.1 407.1 725.8 407.4C726.5 407.8 727.2 408.3 727.5 409C727.9 409.6 728 410.5 727.9 411.3C727.7 412.2 727.2 413.1 726.6 413.9C725.9 414.6 724.8 415.4 723.8 415.9C722.7 416.4 721.4 416.7 720.2 416.7C719 416.7 717.7 416.5 716.8 416C715.8 415.5 714.9 414.1 714.5 413.7"/>
<path class="h" d="M645.1 362.9L667.7 350.9M632.5 377.5L672.3 352.8M626.9 384.3L675.5 357.4M624.3 392.4L680.5 360.9M621.8 400.8L664.5 373.8M620.6 405.3L651.6 389.2M620.3 415L647.2 400.2M620.8 421.2L647.5 404.4M623.5 424.6L645.5 411.8M624.1 432.4L647.2 418.2M625.3 434.1L648.5 421.8M628.7 439.1L648.1 428.6M634.1 444.2L651.8 433.4M636.6 448.3L654.6 438.4M642.3 453.5L661.5 441.7M646 456.3L666.1 444.9M651.8 457.4L669.1 447.1M655.1 461.1L675.9 450.2M665.2 463.2L683.6 452.2M674.3 464L693.9 453.9M685.7 464.8L691.1 461.8"/>
<path d="M735 381L757 400L812 430L792 450L760 470L712 497"/>
<path class="wf" d="M652 448L566 504L474 578L424 620L413 648L440 680L700 560L700 470Z"/>
<path d="M652 448C642.5 454.2 585.6 489.7 566 504C546.4 518.3 489.6 565.2 474 578C458.4 590.8 430.4 614.1 424 620C417.6 625.9 417.2 628.9 416 632C414.8 635.1 412.6 644.6 413 648C413.4 651.4 417 659.5 420 663C423 666.5 437.8 678.1 440 680"/>
<path class="h" d="M652.3 447.4L662.7 479M644.3 452.2L651.8 482.6M636.2 457.1L647.4 490.7M630 462.1L639.6 495M622.6 466.7L631.5 500.4M615.3 473.3L623.9 500.9M606.8 477.3L613.6 505.3M600.2 481.7L608.4 509.8M592.2 486.3L600.5 514.2M584.2 492.4L594.9 522.4M576.2 496.2L585.8 525.5M569.5 502.3L578.4 532.8M561.7 507.8L572.6 539.6M555.7 513.2L563.6 542.2M547.5 517.4L553.5 546.7M541.9 523L548.9 554.2M533.8 528.9L540.5 554.6M528.3 534L534.2 564.2M520.1 539.7L527.1 565.3M513.6 546.4L519 573.9M506.8 551.7L513 583.2M499.3 557.8L504.6 585.3M492.6 562.9L500.1 589.4M485.7 567.6L492.8 594.5M478.9 574.2L483.6 598.8M471.1 579.5L477.4 604.6M464.5 586L471.4 612.5M458 592.2L463.5 615.6M452.3 596.7L460.2 623.2M444.1 603L449.4 628.3M437.7 608.5L442.8 633.3M430 613.8L434.2 636.8M423.9 620.7L430.5 647.8"/>
<path class="h" d="M424.4 619.2L429.4 641.6M418.7 629.6L420.6 654.1M414.3 639.1L415.3 662.4"/>
<path class="w" d="M760.3 481C760.2 487.1 758.5 493.2 756.7 499C755 504.8 752.9 510.8 749.6 515.8C746.4 520.7 741.9 525.1 737.4 528.8C732.8 532.4 727.6 535.8 722.2 537.7C716.8 539.6 710.7 540.4 705 540.2C699.3 540 693.6 538.3 688.2 536.5C682.8 534.6 677 532.7 672.3 529.2C667.7 525.8 663.5 520.9 660.2 515.9C656.9 510.9 654.2 505.1 652.6 499.3C651 493.5 650.7 487.1 650.7 481C650.6 474.9 650.7 468.4 652.4 462.7C654.1 456.9 657.2 451.3 660.6 446.4C663.9 441.5 668 436.8 672.5 433.1C677.1 429.4 682.4 426.2 687.8 424.2C693.2 422.3 699.3 421.2 705 421.4C710.7 421.6 716.4 423.5 721.8 425.5C727.2 427.4 732.9 429.5 737.5 432.9C742.1 436.4 746.1 441.4 749.4 446.4C752.8 451.3 755.8 456.9 757.6 462.7C759.4 468.4 760.5 474.9 760.3 481Z"/>
<path d="M712.2 488C712.1 488.1 712 488.5 711.8 488.8C711.7 489.1 711.4 489.4 711.2 489.6C711 489.8 710.7 490 710.3 490.2C710 490.3 709.6 490.4 709.3 490.5C708.9 490.5 708.5 490.6 708.1 490.5C707.7 490.4 707.2 490.3 706.8 490.1C706.5 489.9 706 489.6 705.7 489.3C705.3 488.9 705 488.5 704.7 488.1C704.5 487.6 704.2 487.1 704.1 486.6C703.9 486 703.8 485.4 703.8 484.8C703.8 484.2 703.8 483.6 704 483C704.1 482.3 704.3 481.7 704.6 481.1C704.9 480.5 705.3 480 705.8 479.5C706.2 479 706.8 478.5 707.4 478.2C708 477.8 708.6 477.5 709.3 477.3C710 477.1 710.7 477 711.5 477C712.2 477.1 713 477.2 713.7 477.4C714.4 477.7 715.2 478 715.8 478.5C716.5 478.9 717.2 479.5 717.7 480.1C718.3 480.8 718.8 481.6 719.2 482.4C719.6 483.2 719.9 484.1 720.1 485C720.3 486 720.3 487 720.3 488C720.3 489 720.1 490 719.8 491C719.5 491.9 719.1 492.9 718.5 493.8C718 494.7 717.3 495.5 716.6 496.2C715.8 496.9 715 497.6 714.1 498.1C713.1 498.6 712.1 499 711.1 499.2C710 499.4 708.9 499.5 707.8 499.4C706.7 499.3 705.6 499.1 704.6 498.7C703.5 498.3 702.4 497.7 701.5 497C700.5 496.3 699.6 495.4 698.9 494.5C698.1 493.5 697.4 492.4 696.9 491.2C696.4 490 696 488.7 695.8 487.4C695.6 486 695.5 484.6 695.6 483.2C695.7 481.9 696 480.5 696.4 479.1C696.9 477.8 697.5 476.5 698.3 475.3C699 474.1 700 473 701 472.1C702.1 471.1 703.3 470.3 704.5 469.7C705.8 469 707.2 468.6 708.6 468.3C710 468.1 711.5 468 712.9 468.1C714.3 468.3 715.8 468.7 717.2 469.2C718.6 469.8 720 470.6 721.2 471.5C722.4 472.5 723.6 473.7 724.5 474.9C725.5 476.2 726.4 477.7 727 479.3C727.6 480.8 728.1 482.5 728.4 484.3C728.6 486 728.7 487.8 728.5 489.5C728.3 491.3 727.9 493.1 727.4 494.8C726.8 496.5 725.9 498.1 724.9 499.6C723.9 501.1 722.7 502.5 721.4 503.6C720 504.8 718.5 505.8 716.9 506.6C715.3 507.3 713.5 507.9 711.8 508.2C710 508.5 708.2 508.5 706.4 508.3C704.6 508.1 702.7 507.6 701 506.9C699.3 506.1 697.6 505.1 696.1 503.9C694.6 502.7 693.2 501.3 692 499.6C690.9 498 689.8 496.2 689.1 494.3C688.3 492.3 687.7 490.2 687.5 488.1C687.2 486 687.2 483.8 687.4 481.7C687.6 479.5 688.1 477.3 688.9 475.3C689.6 473.3 690.6 471.3 691.9 469.5C693.1 467.7 694.6 466 696.2 464.7C697.9 463.3 699.7 462.1 701.7 461.2C703.6 460.3 705.7 459.6 707.8 459.3C710 459 712.2 458.9 714.3 459.2C716.5 459.5 718.7 460.1 720.7 461C722.8 461.9 724.8 463.1 726.5 464.6C728.3 466.1 730 467.8 731.4 469.8C732.8 471.7 734 473.9 734.8 476.2C735.7 478.5 736.4 481 736.7 483.5C737 486 737 488.6 736.7 491.1C736.4 493.6 735.8 496.2 734.9 498.6C734 501 732.8 503.3 731.3 505.4C729.9 507.5 728.1 509.4 726.2 511C724.2 512.7 722 514.1 719.8 515.1C717.5 516.1 715 516.9 712.5 517.2C710 517.6 707.4 517.6 704.9 517.2C702.4 516.9 699.9 516.1 697.5 515.1C695.1 514 692.8 512.6 690.8 510.9C688.7 509.2 686.8 507.1 685.2 504.8C683.6 502.6 682.2 500 681.2 497.4C680.2 494.7 679.5 491.8 679.2 488.9C678.8 486.1 678.8 483 679.2 480.1C679.5 477.2 680.3 474.2 681.3 471.5C682.4 468.8 683.8 466.1 685.5 463.7C687.2 461.3 689.2 459.1 691.4 457.3C693.7 455.4 696.2 453.8 698.8 452.7C701.4 451.5 704.3 450.7 707.1 450.3C710 449.9 712.9 449.9 715.8 450.3C718.7 450.7 721.6 451.6 724.3 452.8C726.9 454.1 729.6 455.7 731.9 457.7C734.2 459.6 736.4 462 738.2 464.6C740 467.1 741.5 470.1 742.7 473.1C743.8 476.1 744.6 479.4 745 482.7C745.4 485.9 745.4 489.4 744.9 492.7C744.5 496 743.7 499.3 742.5 502.4C741.3 505.5 739.6 508.6 737.7 511.2C735.8 513.9 733.5 516.4 730.9 518.5C728.4 520.5 725.6 522.3 722.6 523.6C719.7 524.9 716.4 525.8 713.2 526.2C710.1 526.6 706.7 526.6 703.5 526.1C700.3 525.6 697 524.7 694 523.3C691 521.9 688 520 685.4 517.8C682.8 515.6 680.4 512.9 678.4 510C676.4 507.1 674.7 503.8 673.4 500.5C672.2 497.1 671.3 493.4 670.9 489.7C670.5 486.1 670.5 482.2 671 478.5C671.4 474.9 672.4 471.1 673.8 467.7C675.1 464.2 677 460.8 679.1 457.9C681.3 454.9 683.9 452.1 686.7 449.8C689.5 447.6 692.7 445.6 696 444.2C699.3 442.7 702.8 441.7 706.4 441.3C709.9 440.8 713.7 440.9 717.2 441.4C720.8 442 724.4 443.1 727.8 444.6C731.1 446.2 734.4 448.3 737.3 450.7C740.1 453.2 742.8 456.2 745 459.4C747.2 462.6 749.1 466.2 750.5 470C751.9 473.8 752.9 477.8 753.3 481.9C753.7 485.9 753.7 490.2 753.1 494.3C752.6 498.3 751.5 502.5 750 506.2C748.5 510 746.5 513.8 744.1 517C741.7 520.3 738.8 523.4 735.7 525.9C732.6 528.4 729.1 530.5 725.5 532.1C721.8 533.6 717.9 534.7 714 535.2C710.1 535.7 705.9 535.7 702 535C698.1 534.4 694.1 533.2 690.5 531.5C686.8 529.8 683.2 527.4 680.1 524.7C676.9 522 673 516.8 671.6 515.2"/>
<path d="M812 430L712 497"/>
<path d="M680 521C691.7 517.3 736.2 503.3 760 496C783.8 488.7 828.4 474.1 842 471C855.6 467.9 848.6 471.2 853 475C857.4 478.8 865.8 489.7 872 497C878.2 504.3 889.4 520.2 895 525C900.6 529.8 903.4 531.5 910 530C916.6 528.5 933.4 523.2 940 515C946.6 506.8 952.8 480 955 474"/>
<path class="h" d="M795.9 503.4L859.5 479.5M796.6 509.6L857.8 488.6M799.3 517L857.6 494.2M797.1 524.7L863.6 498.6M800.4 525.4L859.4 507.6"/>
<path class="h" d="M884.5 494.8L888.1 503.4M873.8 492.4L887.6 525.2M866 489.6L882.1 526M859.9 490.2L873.8 522.8"/>
<path class="h" d="M772.8 521.5Q778.2 536.8 787.2 550.3M767.1 525.7Q773.8 545.3 784.1 563.1M756.3 524Q763.2 544.1 773.7 562.3M748.6 527.2Q755 544.7 765 560.4M739.1 523.4Q746.8 545.4 758.1 565.6M727.2 528.5Q736 547.9 748.5 565.6M721.7 528.9Q728.3 546.7 738.6 562.8"/>
<path class="h" d="M632.2 556.2L644.5 551.9M635.3 565.2L699.3 539.4M637.3 572.1L702.4 547.4M636 577.4L702.8 554.7M695.2 565.4L706.8 561.3"/>
<path class="h" d="M623 576.7Q622.7 581.2 627.1 582M613.6 578.4Q620.7 591.9 632.5 601.6M602.6 581.7Q608.7 594.6 619.6 603.8M594.6 581.7Q602.1 595.9 614.3 606.5M583 583.5Q591 600.1 603.7 613.1M574.1 587.4Q582.2 602.2 595 613.2M568.7 591.4Q575.1 605 586.1 614.9M565.4 601.5Q569.7 611.8 578.9 618.4"/>
<path class="h" d="M508.8 635.1L556.9 607.7M492.3 656.6L558.1 612.1M492.2 658L562.8 615.7M494.8 665.5L564.7 620.4M496.9 670.4L564 625.3"/>
<path class="h" d="M480.6 639.4Q484.8 645.6 492.2 647.8M467.4 641.6Q485.8 659.1 507.2 672.8M465 646.9Q483 663.5 504.1 676.2M452.6 647.9Q473.3 666.7 497.2 681.5M449.2 659Q465.2 674.6 484.4 686.3M451.5 665.7Q464.3 680 480.1 690.3M466.1 689.1Q467.9 693.5 472.9 693.9"/>
<path class="h" d="M459 672.3Q460.7 676.7 465.7 677.3M445.7 671.9Q458.4 685.7 474.4 695.8M440.3 675.1Q458.8 693 480.5 707.1M434.7 682.8Q460.4 706.7 489.2 726.8M435 690.9Q457.3 713 482.8 731.3M440.5 703.6Q454.1 719.6 470.9 731.7M441.7 716.3Q451.5 728.8 464.5 737.5M448.4 730.8Q451 736.4 456.8 738"/>
<path class="w" d="M440.5 698C440.5 702.6 440.2 707.5 438.6 711.8C437 716 434 720.1 430.8 723.6C427.6 727.1 423.8 730.4 419.5 732.7C415.3 735 410.3 736.5 405.5 737.4C400.6 738.3 395.3 738.7 390.4 737.9C385.6 737.1 380.7 735 376.5 732.7C372.3 730.3 368.2 727.1 365.2 723.6C362.1 720.1 359.9 715.7 358.2 711.5C356.5 707.2 355.1 702.5 355 698C355 693.5 356.2 688.7 357.9 684.4C359.5 680.1 361.9 675.8 365 672.2C368.1 668.7 372.2 665.5 376.4 663.2C380.7 661 385.7 659.3 390.5 658.7C395.4 658 400.5 658.3 405.4 659.1C410.2 659.9 415.2 661.2 419.5 663.4C423.8 665.6 427.7 668.8 430.9 672.3C434.1 675.8 437 680 438.6 684.3C440.2 688.5 440.5 693.4 440.5 698Z"/>
<path d="M396 709.2C395.9 709.3 395.5 709.4 395.3 709.5C395 709.5 394.8 709.5 394.5 709.5C394.2 709.4 393.9 709.3 393.6 709.2C393.3 709.1 393.1 708.9 392.8 708.7C392.6 708.5 392.3 708.3 392.1 708C392 707.7 391.8 707.3 391.7 707C391.6 706.7 391.5 706.3 391.5 705.9C391.5 705.5 391.6 705.1 391.7 704.7C391.8 704.3 392 703.9 392.3 703.5C392.5 703.2 392.8 702.8 393.2 702.5C393.6 702.2 394 701.9 394.5 701.7C394.9 701.5 395.5 701.3 396 701.2C396.5 701.1 397.1 701 397.7 701.1C398.3 701.1 398.9 701.3 399.4 701.4C400 701.6 400.6 701.9 401.1 702.3C401.6 702.6 402.1 703 402.5 703.5C402.9 704 403.3 704.5 403.6 705.1C403.8 705.7 404 706.3 404.1 707C404.3 707.7 404.3 708.4 404.2 709C404.1 709.7 403.9 710.4 403.6 711.1C403.3 711.8 402.9 712.4 402.4 713C402 713.6 401.4 714.2 400.7 714.6C400.1 715.1 399.3 715.5 398.5 715.8C397.7 716.1 396.9 716.3 396 716.4C395.1 716.5 394.2 716.5 393.3 716.4C392.4 716.2 391.5 716 390.6 715.7C389.8 715.3 388.9 714.8 388.2 714.3C387.5 713.7 386.8 713 386.2 712.3C385.6 711.6 385.1 710.7 384.7 709.8C384.4 708.9 384.1 708 384 707C383.9 706 383.9 705 384.1 704C384.3 703 384.6 702 385.1 701.1C385.5 700.2 386.1 699.3 386.8 698.5C387.6 697.7 388.4 696.9 389.4 696.3C390.3 695.7 391.4 695.1 392.5 694.8C393.6 694.4 394.8 694.1 396 694C397.2 693.9 398.5 694 399.7 694.2C400.9 694.4 402.1 694.7 403.3 695.2C404.4 695.8 405.5 696.4 406.5 697.2C407.5 698 408.4 698.9 409.1 699.9C409.9 700.9 410.5 702.1 411 703.3C411.4 704.4 411.7 705.7 411.8 707C411.9 708.3 411.8 709.6 411.6 710.9C411.3 712.2 410.9 713.5 410.3 714.7C409.6 715.9 408.8 717 407.9 718.1C406.9 719.1 405.8 720 404.5 720.8C403.3 721.6 401.9 722.2 400.5 722.7C399.1 723.2 397.5 723.5 396 723.6C394.5 723.6 392.9 723.6 391.3 723.3C389.8 723 388.2 722.5 386.8 721.9C385.4 721.2 384 720.3 382.8 719.3C381.6 718.3 380.4 717.1 379.5 715.9C378.6 714.6 377.9 713.1 377.3 711.7C376.8 710.2 376.5 708.6 376.4 707C376.2 705.4 376.4 703.8 376.7 702.2C377.1 700.6 377.6 699 378.4 697.5C379.2 696.1 380.2 694.6 381.4 693.4C382.6 692.2 384 691 385.5 690.1C387 689.2 388.8 688.4 390.5 687.8C392.2 687.3 394.1 687 396 686.9C397.9 686.8 399.8 686.9 401.7 687.3C403.5 687.6 405.4 688.2 407.1 689.1C408.8 689.9 410.5 690.9 411.9 692.1C413.4 693.3 414.7 694.8 415.8 696.3C416.9 697.9 417.8 699.6 418.4 701.4C419 703.2 419.4 705.1 419.5 707C419.6 708.9 419.4 710.9 419 712.7C418.6 714.6 417.8 716.5 416.9 718.3C415.9 720 414.7 721.7 413.3 723.1C411.9 724.6 410.2 725.9 408.4 727C406.6 728.1 404.6 729 402.5 729.6C400.4 730.2 398.2 730.6 396 730.7C393.8 730.8 391.5 730.6 389.3 730.2C387.2 729.7 385 729 383 728C381 727.1 379 725.8 377.4 724.4C375.7 723 374.1 721.3 372.9 719.4C371.7 717.6 370.6 715.6 369.9 713.5C369.2 711.4 368.8 709.2 368.7 707C368.6 704.8 368.8 702.5 369.3 700.3C369.8 698.1 370.7 696 371.8 694C372.9 692 374.4 690 376 688.3C377.7 686.7 379.6 685.1 381.7 683.9C383.8 682.7 386.1 681.6 388.5 680.9C390.9 680.2 393.5 679.8 396 679.7C398.5 679.6 401.2 679.8 403.6 680.4C406.1 680.9 409.7 682.4 410.9 682.9"/>
<path d="M358 722C357 718.3 351.3 708.3 352 700C352.7 691.7 356.5 679 362 672C367.5 665 381.2 660.3 385 658"/>
<path class="h" d="M361.3 674.2L378.4 666M355.1 682.5L380.8 668.8M353.8 690.5L387.3 673.9M354.1 698L380.9 682.8M351.2 702.6L375.3 690.6M352.7 708.3L373.6 697.8M355.2 714.4L370.9 706.5M355.9 719L371.8 711.5M359.3 723.5L374.8 715.7M365.6 727.3L379.1 720.6M369.5 733L381.4 725.9M375.9 735.1L387.8 728"/>
<path d="M640 657L695 665"/>
<path class="h" d="M656.6 670.5L662.8 659.6M659.6 672.5L665.5 661.8M661.8 681.3L672.8 661.7M665.5 687.4L679 663.8M667.4 692.3L684.7 663.3M671 698.4L689.9 665.5M677.8 698.2L697.6 667.5M687.9 693.1L698.4 674M693.9 692.9L699.7 682.7"/>
<path class="w" d="M671 708C671.1 713.3 670.8 718.9 669.8 723.9C668.8 728.9 666.9 733.6 665 737.9C663.1 742.1 660.9 746.4 658.3 749.4C655.7 752.5 652.5 754.5 649.5 756C646.4 757.6 643.2 758.8 640 758.9C636.8 759 633.4 758.4 630.4 756.8C627.3 755.1 624.5 752.2 621.9 749.1C619.3 745.9 616.7 742.3 614.9 738C613 733.8 611.6 728.7 610.7 723.7C609.7 718.7 609.1 713.3 609.1 708C609 702.7 609.2 697.1 610.2 692.1C611.2 687.1 613.2 682.5 615.1 678.2C617 673.9 619.1 669.4 621.6 666.4C624.2 663.4 627.4 661.5 630.5 659.9C633.6 658.3 636.8 657 640 656.9C643.2 656.8 646.6 657.6 649.6 659.2C652.7 660.8 655.8 663.3 658.3 666.5C660.9 669.6 663.2 673.8 665 678.1C666.9 682.4 668.5 687.2 669.5 692.2C670.5 697.2 671 702.7 671 708Z"/>
<path d="M667.2 706C667.2 710.8 666.7 716 665.8 720.5C664.8 725.1 663.4 729.6 661.6 733.3C659.8 736.9 657.4 740.2 655 742.5C652.6 744.8 649.8 746.1 647.1 747C644.4 747.8 641.5 748.4 638.8 747.7C636.1 747 633.3 744.9 631 742.5C628.6 740 626.4 736.7 624.6 733C622.8 729.4 620.9 725.2 620 720.6C619.1 716.1 619.3 710.9 619.3 706C619.4 701.1 619.3 695.9 620.2 691.5C621.1 687 623 682.9 624.7 679.2C626.5 675.5 628.6 671.8 630.9 669.3C633.2 666.7 636.1 664.6 638.8 663.9C641.5 663.2 644.4 664.1 647.1 665C649.8 666 652.7 667.2 655 669.5C657.4 671.9 659.7 675.3 661.4 679C663.2 682.7 664.6 687.1 665.5 691.6C666.5 696.1 667.2 701.2 667.2 706Z"/>
<path d="M660.8 706C660.8 709.8 660.6 713.8 660 717.3C659.4 720.9 658.3 724.6 657 727.5C655.7 730.4 653.9 733 652.1 734.8C650.2 736.5 648.1 737.5 646.1 738.2C644.1 738.9 641.8 739.5 639.8 738.9C637.8 738.3 635.8 736.5 634 734.5C632.3 732.5 630.7 729.8 629.4 726.9C628.1 724.1 626.7 720.8 626 717.3C625.3 713.8 625 709.8 625 706C625 702.2 625.4 698.3 626.1 694.7C626.7 691.1 627.6 687.3 628.9 684.4C630.3 681.5 632.2 679.3 634 677.3C635.8 675.4 637.8 673.5 639.8 672.9C641.8 672.3 644.1 673 646.1 673.7C648.2 674.4 650.4 675.2 652.1 677.1C653.8 679 655.3 682.2 656.6 685.1C657.8 688.1 659.1 691.3 659.8 694.8C660.5 698.3 660.7 702.2 660.8 706Z"/>
<path d="M655.1 706C655.1 708.7 654.8 711.7 654.4 714.3C653.9 716.9 653.2 719.6 652.3 721.6C651.4 723.7 650.2 725.4 649 726.7C647.8 728 646.4 729 645.1 729.4C643.7 729.9 642.3 729.9 640.9 729.5C639.6 729.1 638.1 728.2 637 726.8C635.8 725.4 634.9 723.2 634 721.1C633.1 719 632.3 716.7 631.8 714.2C631.3 711.6 630.9 708.7 630.9 706C630.9 703.3 631.4 700.5 631.9 697.9C632.4 695.4 633 692.9 633.9 690.7C634.7 688.5 635.7 686.4 636.9 684.9C638.1 683.4 639.5 682.3 640.9 682C642.2 681.6 643.7 682 645.1 682.6C646.4 683.2 647.8 684.1 648.9 685.5C650.1 686.9 651.2 688.7 652.1 690.8C652.9 692.9 653.6 695.4 654.1 697.9C654.6 700.5 655 703.3 655.1 706Z"/>
<path d="M649.1 706C649.1 707.5 648.9 709.1 648.7 710.5C648.4 711.9 648 713.2 647.6 714.3C647.1 715.4 646.6 716.5 646 717.3C645.4 718 644.7 718.7 644.1 718.9C643.4 719.1 642.7 718.8 642 718.6C641.3 718.3 640.6 718.1 640 717.4C639.4 716.7 638.8 715.6 638.3 714.5C637.9 713.3 637.7 711.8 637.4 710.4C637.2 709 637 707.5 637 706C636.9 704.5 637.1 702.9 637.3 701.5C637.6 700.1 638 698.9 638.4 697.7C638.9 696.5 639.4 695.3 640 694.6C640.5 693.8 641.3 693.6 642 693.3C642.7 693.1 643.4 693 644 693.2C644.7 693.5 645.4 694.1 646 694.8C646.6 695.6 647.1 696.6 647.6 697.7C648 698.8 648.5 700.1 648.7 701.5C649 702.9 649.1 704.5 649.1 706Z"/>
<path class="h" d="M655.2 745.5L657.8 743.5M659.6 751.7L668.8 743.9M662.9 753.4L673.7 745.5M667.1 757.9L685.6 744.1M670.8 763.4L689.9 748.1M681.4 765.2L702.4 747.2M689.2 764.1L708.1 747.8M696.1 769.1L719.8 748.7M704.4 767L724 750.9M712.4 769.3L733.8 751.9M718.3 771.4L739.4 754.2M732 769.2L741.7 761.3M739.7 770.5L743.7 767.2"/>
<path d="M802 640C806.7 635.3 820.7 619.2 830 612C839.3 604.8 848.8 600.3 858 597C867.2 593.7 875.5 592.2 885 592C894.5 591.8 905.5 592.7 915 596C924.5 599.3 934.2 605.5 942 612C949.8 618.5 956 627 962 635C968 643 974.3 652.5 978 660C981.7 667.5 984 674.7 984 680C984 685.3 980.8 690 978 692C975.2 694 968.8 692 967 692"/>
<path d="M967 692C964.9 688.5 948 656.1 945 655C942 653.9 937.8 675.3 935 680C932.2 684.7 919.7 702.9 915 705C910.3 707.1 892.5 703.9 885 702C877.5 700.1 839.7 686.6 835 685"/>
<path d="M891 701.2C891.1 700.8 891.3 699.5 891.6 698.7C891.9 697.9 892.2 697.1 892.6 696.3C893.1 695.6 893.5 694.9 894.1 694.3C894.6 693.6 895.2 693.1 895.8 692.6C896.5 692.1 897.2 691.6 897.9 691.3C898.6 691 899.3 690.8 900.1 690.6C900.8 690.4 901.6 690.4 902.4 690.4C903.2 690.4 903.9 690.6 904.7 690.8C905.4 691 906.2 691.2 906.9 691.6C907.6 692 908.3 692.4 908.9 693C909.4 693.5 909.9 694.3 910.4 694.9C910.9 695.6 911.3 696.4 911.7 697.1C912 697.9 912.4 699.1 912.6 699.5"/>
<path d="M878.5 699.2C878.7 698.3 878.9 695.4 879.4 693.6C879.9 691.8 880.8 690.1 881.7 688.5C882.6 686.9 883.7 685.4 884.9 684.1C886 682.8 887.4 681.6 888.7 680.5C890.1 679.4 891.5 678.3 893 677.5C894.5 676.7 896.2 676.2 897.8 675.9C899.5 675.6 901.2 675.5 902.8 675.6C904.5 675.7 906.2 676 907.8 676.4C909.4 676.9 911.1 677.5 912.5 678.3C914 679.2 915.4 680.3 916.7 681.5C918 682.7 919.2 684 920.3 685.5C921.4 686.9 922.3 688.5 923.1 690.2C924 691.8 924.8 694.5 925.2 695.4"/>
<path d="M865.2 697.1C865.5 695.7 866.2 691.3 867.1 688.5C868 685.8 869.1 683 870.6 680.6C872 678.2 873.9 676.1 875.8 674.1C877.6 672 879.5 670.1 881.5 668.4C883.6 666.6 885.7 664.8 888.1 663.7C890.4 662.6 893.1 662 895.6 661.6C898.1 661.2 900.7 660.9 903.3 661C905.8 661.1 908.4 661.7 910.9 662.4C913.4 663.1 915.9 663.7 918.2 665C920.5 666.2 922.6 668.1 924.7 669.9C926.7 671.7 928.9 673.5 930.5 675.7C932.1 678 933 680.9 934.2 683.4C935.4 686 937.1 690 937.7 691.3"/>
<path d="M853.3 695.2C853.7 693.3 854.5 687.4 855.6 683.7C856.8 680 858.2 676.4 860 673C861.7 669.6 863.8 666.3 866.2 663.5C868.6 660.7 871.6 658.5 874.4 656.4C877.3 654.2 880.2 652 883.4 650.4C886.5 648.7 889.9 647.3 893.3 646.7C896.7 646 900.3 646.2 903.7 646.4C907.2 646.6 910.7 646.8 914.1 647.7C917.4 648.6 920.7 650.2 923.8 651.9C926.9 653.7 930 655.8 932.6 658.2C935.3 660.7 937.6 663.8 939.8 666.8C942 669.8 944.8 674.8 945.8 676.4"/>
<path d="M839.6 693C840.1 690.6 841.4 683.1 843 678.5C844.6 673.9 846.9 669.6 849.2 665.4C851.6 661.2 854.1 657.1 857 653.5C860 649.9 863.4 646.5 867 643.8C870.6 641 874.6 638.9 878.6 637C882.7 635.2 886.9 633.5 891.1 632.6C895.4 631.6 899.9 631.2 904.2 631.5C908.5 631.8 912.8 633.1 917 634.4C921.2 635.7 925.3 637.2 929.3 639.2C933.2 641.2 937.2 643.5 940.6 646.6C944 649.6 947 653.5 949.6 657.4C952.3 661.2 955.6 667.7 956.8 669.8"/>
<path d="M826.9 691C827.6 688.1 829.6 679.3 831.3 673.6C833.1 668 834.7 662 837.4 657C840.2 651.9 843.9 647.2 847.7 643.1C851.5 639 855.8 635.6 860.2 632.2C864.5 628.8 868.9 625.2 873.7 623C878.5 620.7 883.8 619.7 889 618.6C894.1 617.5 899.4 616.3 904.6 616.4C909.9 616.5 915.2 617.6 920.3 619.1C925.4 620.6 930.6 622.4 935.2 625.2C939.9 628 944 631.9 948 635.8C952 639.6 955.8 643.7 959.3 648.2C962.7 652.6 967.4 660 969 662.3"/>
<path d="M815.2 689.1C815.9 685.7 817.4 675.2 819.5 668.7C821.6 662.2 824.6 656 827.8 650.1C831 644.2 834.8 638.6 838.9 633.4C843 628.3 847.7 623.6 852.6 619.5C857.6 615.3 862.9 611.2 868.6 608.7C874.3 606.1 880.6 605.1 886.7 604.1C892.8 603.1 898.9 602.7 905.1 602.7C911.2 602.8 917.6 602.8 923.5 604.6C929.4 606.3 935 609.8 940.5 613C946 616.1 951.6 619.2 956.5 623.4C961.4 627.5 965.8 632.7 969.8 638.1C973.8 643.4 978.9 652.4 980.7 655.3"/>
<path class="h" d="M829.3 613.2L863 596.4M810.5 632.3L878.7 594.6M803.6 637.6L874.5 605.3M806.6 645L875.8 607.8M809.8 649.3L870 619.6M811.8 653.2L866.6 625.2M813.1 656.3L864.5 633.3M818.2 662.1L863.3 641.5M821.5 668.6L862 648.3M822.9 670.6L859.7 653.6M830.1 676.6L857.9 662.9M829.5 679.8L854.4 668.2M832.4 684.2L852.6 674.9M842.6 688.9L850.1 685.2"/>
<path class="h" d="M836.6 691.4L838.6 688.3M839.4 695.8L842.2 691.5M842.4 701L847.5 693.6M844.3 708.5L854.7 692.5M848.7 709.9L857.8 696.6M852.1 711.6L863.9 695.5M858.1 711.8L867.8 697.2M863.7 713.4L874.6 699.2M872 712.7L879.6 700.8M876.3 712.5L883.1 703.1M882.9 713.7L891.2 703.1M885.8 715.7L893.9 703.9M891.7 715.4L899.2 705M899.5 713.6L904.2 706.8M905.7 714.5L910.7 707.6M909.9 717.7L915.2 709.8M916.3 715.9L918.6 712.6M923.3 716.1L924.7 713.9"/>
<path d="M974 633C978.3 630.3 990.7 620.7 1000 617C1009.3 613.3 1019.7 611.8 1030 611C1040.3 610.2 1051.7 610.5 1062 612C1072.3 613.5 1082.3 615.7 1092 620C1101.7 624.3 1112.2 631.2 1120 638C1127.8 644.8 1134 653.2 1139 661C1144 668.8 1147.3 677.7 1150 685C1152.7 692.3 1154.2 701.7 1155 705"/>
<path d="M1034.6 697.7C1035.1 696.7 1036.4 693.9 1037.6 692.1C1038.8 690.4 1040.1 688.7 1041.5 687.2C1042.9 685.7 1044.5 684.3 1046.3 683.2C1048 682 1049.9 681.1 1051.8 680.3C1053.7 679.5 1055.7 678.7 1057.8 678.3C1059.8 677.9 1062 678 1064 678C1066.1 678.1 1068.3 678.3 1070.3 678.8C1072.3 679.3 1074.2 680.3 1076.1 681.2C1077.9 682.1 1079.9 683 1081.6 684.2C1083.3 685.4 1084.9 686.9 1086.2 688.5C1087.5 690.2 1088.4 692.1 1089.3 694C1090.3 695.9 1091.3 697.7 1091.9 699.7C1092.5 701.7 1092.6 704.9 1092.7 705.9"/>
<path d="M1023 693.4C1023.6 692.1 1025 687.8 1026.6 685.3C1028.1 682.7 1030.2 680.5 1032.3 678.3C1034.3 676.1 1036.4 673.9 1038.8 672.2C1041.3 670.5 1044.1 669.2 1046.9 668.1C1049.6 667 1052.6 666.1 1055.5 665.5C1058.4 664.9 1061.5 664.4 1064.5 664.6C1067.5 664.8 1070.4 665.8 1073.3 666.6C1076.2 667.5 1079 668.4 1081.7 669.7C1084.4 671 1086.9 672.6 1089.2 674.4C1091.6 676.2 1093.9 678.2 1095.9 680.4C1097.9 682.6 1099.8 685.1 1101.2 687.7C1102.6 690.3 1103.7 693.2 1104.5 696.1C1105.3 699 1105.7 703.5 1105.9 705"/>
<path d="M1010 688.7C1010.9 687 1013.5 681.6 1015.6 678.4C1017.8 675.2 1020.4 672.2 1023 669.4C1025.7 666.6 1028.4 663.6 1031.6 661.4C1034.8 659.3 1038.6 658 1042.2 656.6C1045.8 655.2 1049.5 653.8 1053.3 653.1C1057.1 652.5 1061.1 652.4 1064.9 652.6C1068.8 652.7 1072.7 653.1 1076.5 654C1080.2 655 1083.8 656.5 1087.3 658.1C1090.8 659.7 1094.5 661.5 1097.5 663.8C1100.5 666.2 1103.1 669.3 1105.6 672.3C1108.1 675.2 1110.6 678.3 1112.5 681.7C1114.5 685 1116.2 688.7 1117.2 692.5C1118.2 696.2 1118.4 702.2 1118.7 704.1"/>
<path d="M998.7 684.6C999.6 682.4 1001.9 675.4 1004.3 671.3C1006.7 667.2 1009.8 663.3 1013.1 659.8C1016.4 656.4 1020.1 653 1024.1 650.4C1028.1 647.7 1032.6 645.7 1037.1 644C1041.6 642.2 1046.3 640.8 1051 639.9C1055.7 639 1060.6 638.4 1065.4 638.5C1070.2 638.7 1075.1 639.7 1079.8 640.8C1084.4 642 1089.3 643.2 1093.5 645.4C1097.8 647.6 1101.5 650.9 1105.3 653.9C1109.1 656.9 1113 659.8 1116.1 663.4C1119.3 667 1121.9 671.3 1124.1 675.5C1126.3 679.8 1128.1 684.4 1129.3 689C1130.5 693.6 1130.8 700.9 1131.2 703.2"/>
<path d="M986 680C987.3 677.4 990.8 669.6 993.8 664.8C996.8 659.9 1000 655 1003.9 650.9C1007.8 646.8 1012.4 643.2 1017.1 640C1021.9 636.8 1027 634 1032.3 632C1037.6 629.9 1043.3 628.8 1048.9 628C1054.5 627.1 1060.2 626.6 1065.8 626.7C1071.5 626.7 1077.3 627 1082.9 628.3C1088.4 629.5 1093.9 631.6 1099.1 634C1104.3 636.4 1109.5 639.3 1114 642.7C1118.5 646.2 1122.7 650.5 1126.2 655C1129.7 659.5 1132.5 664.6 1135.1 669.7C1137.7 674.7 1140.1 680 1141.8 685.4C1143.4 690.9 1144.3 699.5 1144.8 702.3"/>
<path d="M974 694L1055 681L1052 686L1058 711"/>
<path class="h" d="M974.2 633.8L1012.4 614.6M973.8 639.2L1028.9 611.3M975.2 642.7L1033.1 615.8M977.5 649.1L1037.2 622M981.6 655.4L1039.8 624.8M982.1 659.2L1034.1 631.3M983.4 666.2L1022.6 645.6M983.9 672.6L1015 656.7M983.3 675.3L1014.3 660.7M977.7 687.1L1006.9 671.1M984.1 691.4L995 685.7"/>
<path class="w" d="M1250.7 635C1250.7 641.2 1249.3 647.7 1247.1 653.6C1245 659.4 1241.7 665.1 1237.9 670.1C1234.2 675.1 1229.7 680.1 1224.6 683.8C1219.5 687.6 1213.5 690.7 1207.3 692.6C1201.2 694.6 1194.4 695.6 1188 695.4C1181.6 695.2 1175.1 693.4 1169.1 691.4C1163 689.5 1156.7 687.1 1151.6 683.5C1146.4 680 1142 675 1138.3 670C1134.5 665 1131.1 659.4 1129 653.6C1126.8 647.7 1125.4 641.2 1125.3 635C1125.3 628.8 1126.4 622.1 1128.5 616.3C1130.7 610.5 1134.3 604.9 1138.1 599.9C1142 595 1146.4 590 1151.5 586.4C1156.6 582.8 1162.8 580 1168.9 578.2C1175 576.4 1181.6 575.6 1188 575.5C1194.4 575.4 1201.2 575.8 1207.3 577.6C1213.4 579.4 1219.6 582.4 1224.7 586.2C1229.8 589.9 1234.3 594.8 1238 599.9C1241.7 604.9 1244.7 610.6 1246.9 616.5C1249 622.3 1250.6 628.8 1250.7 635Z"/>
<path d="M1193.6 633.6C1193.6 633.8 1193.7 634.3 1193.7 634.6C1193.6 635 1193.5 635.4 1193.4 635.7C1193.2 636.1 1193 636.5 1192.8 636.8C1192.5 637.1 1192.2 637.4 1191.8 637.7C1191.4 637.9 1191 638.2 1190.5 638.3C1190 638.5 1189.5 638.6 1189 638.6C1188.4 638.7 1187.9 638.6 1187.3 638.5C1186.8 638.4 1186.2 638.2 1185.7 638C1185.1 637.7 1184.6 637.3 1184.2 636.9C1183.7 636.5 1183.3 636 1182.9 635.5C1182.6 634.9 1182.3 634.3 1182.1 633.7C1181.9 633 1181.8 632.3 1181.8 631.6C1181.8 630.9 1181.9 630.2 1182.1 629.5C1182.3 628.8 1182.6 628.1 1183.1 627.4C1183.5 626.7 1184 626.1 1184.6 625.6C1185.2 625 1185.9 624.5 1186.6 624.1C1187.4 623.7 1188.2 623.4 1189.1 623.2C1190 623 1190.9 622.9 1191.8 622.9C1192.8 623 1193.7 623.1 1194.6 623.4C1195.6 623.7 1196.5 624.1 1197.3 624.6C1198.2 625.1 1199 625.8 1199.6 626.5C1200.3 627.2 1201 628.1 1201.4 629C1201.9 629.9 1202.3 630.9 1202.5 631.9C1202.7 633 1202.8 634.1 1202.7 635.2C1202.7 636.2 1202.5 637.4 1202.1 638.4C1201.7 639.5 1201.2 640.5 1200.5 641.5C1199.8 642.4 1199 643.3 1198.1 644.1C1197.2 644.9 1196.1 645.6 1195 646.1C1193.8 646.6 1192.6 647 1191.3 647.3C1190 647.5 1188.7 647.6 1187.3 647.5C1186 647.4 1184.7 647.1 1183.4 646.6C1182.1 646.2 1180.8 645.6 1179.7 644.8C1178.5 644.1 1177.5 643.1 1176.5 642.1C1175.6 641 1174.8 639.8 1174.2 638.5C1173.6 637.3 1173.1 635.9 1172.9 634.4C1172.6 633 1172.5 631.5 1172.7 630.1C1172.8 628.6 1173.2 627.1 1173.7 625.7C1174.2 624.3 1175 622.9 1175.9 621.6C1176.9 620.4 1178 619.2 1179.2 618.2C1180.5 617.2 1181.9 616.4 1183.5 615.7C1185 615.1 1186.6 614.6 1188.3 614.3C1190 614 1191.7 614 1193.5 614.1C1195.2 614.3 1196.9 614.7 1198.6 615.3C1200.2 615.9 1201.9 616.7 1203.3 617.8C1204.7 618.8 1206.1 620 1207.3 621.4C1208.4 622.7 1209.4 624.3 1210.2 625.9C1210.9 627.6 1211.5 629.4 1211.8 631.2C1212.1 633 1212.1 634.9 1211.9 636.7C1211.7 638.6 1211.2 640.4 1210.5 642.2C1209.8 643.9 1208.8 645.7 1207.6 647.2C1206.4 648.8 1205 650.2 1203.4 651.4C1201.8 652.6 1200 653.7 1198.1 654.5C1196.3 655.3 1194.2 655.9 1192.1 656.2C1190 656.5 1187.8 656.5 1185.7 656.3C1183.6 656 1181.5 655.5 1179.5 654.7C1177.5 654 1175.5 652.9 1173.7 651.7C1172 650.4 1170.3 648.9 1168.9 647.2C1167.5 645.5 1166.3 643.6 1165.5 641.6C1164.6 639.6 1163.9 637.4 1163.6 635.2C1163.3 633 1163.2 630.7 1163.5 628.5C1163.8 626.3 1164.4 624 1165.3 621.9C1166.2 619.8 1167.4 617.7 1168.8 615.9C1170.2 614.1 1172 612.3 1173.9 610.9C1175.8 609.5 1178 608.2 1180.3 607.3C1182.5 606.4 1185 605.7 1187.5 605.4C1190 605.1 1192.6 605 1195.1 605.3C1197.6 605.6 1200.1 606.3 1202.5 607.2C1204.9 608.1 1207.2 609.4 1209.3 610.9C1211.3 612.4 1213.3 614.3 1214.9 616.2C1216.5 618.2 1217.9 620.5 1218.9 622.9C1219.9 625.2 1220.7 627.8 1221 630.4C1221.4 633 1221.4 635.7 1221.1 638.3C1220.7 640.9 1220 643.5 1218.9 646C1217.9 648.4 1216.5 650.8 1214.8 653C1213.1 655.1 1211 657.1 1208.8 658.8C1206.5 660.4 1204 661.8 1201.3 662.9C1198.7 664 1195.8 664.7 1192.9 665.1C1190.1 665.4 1187 665.4 1184.1 665.1C1181.2 664.7 1178.3 663.9 1175.5 662.8C1172.8 661.8 1170.1 660.3 1167.7 658.5C1165.4 656.8 1163.1 654.6 1161.3 652.3C1159.5 650 1157.9 647.4 1156.7 644.6C1155.6 641.9 1154.7 638.9 1154.3 636C1153.9 633.1 1153.9 629.9 1154.4 627C1154.8 624 1155.6 620.9 1156.8 618.1C1158.1 615.3 1159.7 612.6 1161.7 610.2C1163.6 607.7 1166 605.5 1168.6 603.6C1171.1 601.7 1174.1 600.1 1177.1 598.9C1180.1 597.7 1183.4 596.9 1186.7 596.5C1189.9 596.1 1193.4 596.1 1196.7 596.5C1200 597 1203.3 597.8 1206.4 599.1C1209.5 600.4 1212.6 602.1 1215.3 604.1C1217.9 606.1 1220.4 608.5 1222.5 611.1C1224.6 613.7 1226.3 616.7 1227.6 619.8C1228.9 622.9 1229.9 626.3 1230.3 629.6C1230.7 632.9 1230.7 636.5 1230.2 639.8C1229.7 643.2 1228.8 646.6 1227.4 649.8C1226 652.9 1224.1 656 1221.9 658.7C1219.7 661.4 1217 664 1214.1 666.1C1211.2 668.2 1207.9 670 1204.5 671.3C1201.1 672.6 1197.4 673.5 1193.7 674C1190.1 674.4 1186.2 674.4 1182.5 673.9C1178.8 673.4 1175.1 672.4 1171.6 671C1168.1 669.5 1164.7 667.6 1161.8 665.4C1158.8 663.1 1156 660.4 1153.7 657.4C1151.4 654.5 1149.4 651.1 1148 647.7C1146.5 644.3 1145.5 640.5 1145.1 636.8C1144.6 633.1 1144.6 629.1 1145.2 625.4C1145.8 621.7 1146.9 617.9 1148.4 614.4C1150 610.9 1152.1 607.4 1154.6 604.4C1157 601.4 1160 598.6 1163.2 596.3C1166.5 593.9 1170.1 591.9 1173.9 590.5C1177.7 589 1181.8 588 1185.9 587.6C1189.9 587.1 1194.2 587.2 1198.3 587.7C1202.4 588.3 1206.5 589.4 1210.4 591C1214.2 592.6 1217.9 594.7 1221.2 597.2C1224.5 599.7 1227.6 602.7 1230.1 606C1232.6 609.2 1234.8 613 1236.4 616.8C1238 620.6 1239.1 624.7 1239.6 628.8C1240.1 632.9 1240 637.3 1239.4 641.4C1238.7 645.5 1237.5 649.7 1235.8 653.5C1234.1 657.4 1231.7 661.2 1229 664.5C1226.3 667.8 1223 670.9 1219.4 673.4C1215.9 675.9 1209.6 678.7 1207.7 679.7"/>
<path class="h" d="M1161.4 585.6L1178.7 580.7M1141.5 600.4L1189.7 590.1M1139 608.3L1188.6 594.2M1133.4 614.2L1186.6 598.7M1130.9 623.2L1178.1 611.2M1130.6 628.4L1176.5 618.1M1131.2 635.3L1175.7 623.6M1128.2 641.7L1170.9 631.4M1131.6 649.3L1173.5 636.7M1134.4 656.9L1172.9 645.2M1135.6 659.3L1174 650.1M1138.6 666.7L1179.2 654.4M1145.3 673.7L1182.8 662.6M1150.5 678.3L1183.5 669.3M1161.4 682.3L1186.8 675.3M1171.9 686.8L1187.6 683.6M1181.2 690.2L1192.9 686.8"/>
<path d="M1061 705L1257 707"/>
<path class="h" d="M1183.2 709.7L1185.3 707M1184.2 714.7L1191.4 705.8M1189.9 717.8L1200 706.6M1197.7 718.6L1206.4 707.6M1206.4 718L1213.8 709M1214.8 717.8L1222.5 708.3M1219.4 718.7L1227.2 709.1M1229.1 718.1L1236.9 707.9M1237.8 716.9L1244.8 707.7M1244.9 717.9L1253.8 707.1"/>
<path class="h" d="M1125.2 765.2L1126.6 764.3M1127.4 771.3L1138.7 763.5M1127 775.5L1144.7 763.7M1130.3 781.7L1151.5 766.8M1131.3 792L1166.2 765.5M1130.4 792.9L1172.3 766M1144 793.1L1184.2 766.7M1160.6 791.4L1188.9 769.6M1169 790.1L1201 766.8M1175.3 790.7L1204.4 770.1M1185 791.4L1216.4 769M1199.2 789.9L1228.9 771M1204.8 790.5L1232.6 770.9M1215.3 792.1L1242.9 772M1226.2 791.4L1255.3 772.5M1236.5 791.6L1264.4 773.8M1249.8 789.4L1263.3 780.4M1253.6 789.6L1261.2 784"/>
<path d="M1120 794L1275 792"/>
<path class="w" d="M1325.1 746C1325.1 750.5 1324.1 755.1 1323.1 759.5C1322 763.8 1320.9 768.5 1318.8 772.2C1316.8 775.8 1313.7 778.8 1310.8 781.4C1307.9 783.9 1304.7 786 1301.4 787.6C1298.1 789.1 1294.5 790.4 1291 790.5C1287.5 790.6 1283.7 789.7 1280.4 788.3C1277 786.9 1273.7 784.7 1270.8 782C1268 779.3 1265.3 775.8 1263.3 772.1C1261.2 768.4 1259.5 764.1 1258.4 759.7C1257.3 755.4 1256.7 750.6 1256.7 746C1256.8 741.4 1257.4 736.6 1258.6 732.4C1259.8 728.1 1261.7 724.1 1263.8 720.4C1265.8 716.7 1268.1 713 1270.9 710.2C1273.7 707.4 1277.1 705.2 1280.4 703.8C1283.8 702.4 1287.5 701.5 1291 701.6C1294.5 701.8 1298.1 703.1 1301.4 704.6C1304.7 706.1 1307.9 708.2 1310.8 710.8C1313.7 713.3 1316.6 716.4 1318.7 720C1320.8 723.6 1322.3 728.1 1323.3 732.4C1324.4 736.7 1325.2 741.5 1325.1 746Z"/>
<path d="M1291.5 751.4C1291.3 751.5 1291 751.8 1290.7 751.8C1290.5 751.9 1290.2 752 1289.9 752C1289.6 752 1289.3 751.9 1289 751.8C1288.8 751.6 1288.4 751.4 1288.2 751.2C1287.9 750.9 1287.6 750.6 1287.4 750.2C1287.2 749.9 1287 749.5 1286.8 749C1286.7 748.5 1286.6 748 1286.5 747.5C1286.5 746.9 1286.5 746.4 1286.5 745.8C1286.6 745.2 1286.7 744.7 1286.9 744.1C1287.1 743.6 1287.3 743 1287.6 742.5C1287.9 742 1288.2 741.6 1288.6 741.2C1289 740.8 1289.5 740.5 1290 740.2C1290.5 740 1291 739.8 1291.5 739.8C1292.1 739.7 1292.6 739.8 1293.2 739.9C1293.7 740.1 1294.3 740.3 1294.8 740.7C1295.3 741 1295.9 741.5 1296.3 742C1296.8 742.5 1297.2 743.2 1297.5 743.9C1297.9 744.6 1298.2 745.4 1298.4 746.3C1298.6 747.1 1298.7 748 1298.7 748.9C1298.7 749.8 1298.7 750.8 1298.5 751.7C1298.4 752.6 1298.1 753.5 1297.8 754.4C1297.5 755.3 1297 756.1 1296.5 756.8C1296 757.6 1295.4 758.2 1294.7 758.8C1294.1 759.3 1293.3 759.8 1292.6 760.1C1291.8 760.4 1291 760.5 1290.2 760.6C1289.4 760.6 1288.5 760.5 1287.7 760.2C1286.9 759.9 1286.1 759.5 1285.3 758.9C1284.6 758.4 1283.8 757.6 1283.2 756.8C1282.6 756 1282 755 1281.5 753.9C1281.1 752.9 1280.7 751.7 1280.4 750.5C1280.2 749.3 1280.1 748 1280 746.7C1280 745.4 1280.2 744.1 1280.4 742.8C1280.7 741.5 1281 740.3 1281.5 739.1C1282 737.9 1282.7 736.8 1283.4 735.8C1284.1 734.9 1285 734 1285.9 733.3C1286.8 732.6 1287.8 732 1288.9 731.6C1289.9 731.3 1291 731.1 1292.1 731.1C1293.2 731.1 1294.3 731.3 1295.4 731.7C1296.5 732.1 1297.6 732.7 1298.5 733.5C1299.5 734.3 1300.5 735.3 1301.3 736.4C1302.1 737.5 1302.8 738.8 1303.4 740.2C1304 741.6 1304.5 743.2 1304.8 744.7C1305.1 746.3 1305.2 748 1305.2 749.7C1305.2 751.3 1305 753.1 1304.6 754.7C1304.3 756.3 1303.8 757.9 1303.1 759.4C1302.5 760.9 1301.6 762.3 1300.7 763.5C1299.7 764.7 1298.6 765.8 1297.5 766.7C1296.3 767.6 1295 768.3 1293.7 768.7C1292.4 769.1 1291 769.3 1289.6 769.3C1288.2 769.2 1286.8 768.9 1285.5 768.4C1284.1 767.9 1282.8 767.1 1281.6 766.1C1280.4 765.1 1279.2 763.8 1278.2 762.4C1277.2 761 1276.3 759.4 1275.6 757.6C1274.9 755.9 1274.4 754 1274 752C1273.7 750.1 1273.5 748 1273.6 745.9C1273.6 743.9 1273.9 741.8 1274.3 739.8C1274.7 737.8 1275.4 735.9 1276.2 734.1C1277 732.3 1278.1 730.6 1279.2 729.1C1280.4 727.7 1281.7 726.4 1283.1 725.3C1284.6 724.3 1286.1 723.5 1287.7 723C1289.3 722.5 1291 722.3 1292.7 722.4C1294.3 722.4 1296 722.8 1297.6 723.5C1299.2 724.1 1300.8 725.1 1302.3 726.3C1303.7 727.5 1305.1 729.1 1306.3 730.8C1307.4 732.4 1308.5 734.4 1309.3 736.5C1310.1 738.6 1310.8 740.9 1311.2 743.2C1311.6 745.5 1311.7 748 1311.7 750.4C1311.6 752.8 1311.3 755.3 1310.7 757.7C1310.2 760 1309.4 762.3 1308.4 764.4C1307.5 766.5 1306.2 768.5 1304.9 770.2C1303.5 771.9 1301.9 773.5 1300.2 774.6C1298.6 775.8 1296.7 776.7 1294.8 777.3C1293 777.9 1291 778.1 1289.1 778C1287.1 777.9 1285.1 777.4 1283.3 776.6C1281.4 775.9 1279.5 774.7 1277.9 773.3C1276.2 771.8 1274.6 770 1273.2 768.1C1271.9 766.1 1270.7 763.8 1269.7 761.3C1268.8 758.9 1268.1 756.2 1267.6 753.5C1267.2 750.9 1267 748 1267.1 745.2C1267.2 742.4 1267.6 739.5 1268.2 736.8C1268.8 734.1 1269.8 731.5 1270.9 729.1C1272 726.7 1273.5 724.4 1275.1 722.4C1276.6 720.5 1278.5 718.7 1280.4 717.4C1282.3 716.1 1284.5 715 1286.6 714.4C1288.7 713.8 1291 713.5 1293.2 713.6C1295.4 713.8 1298.8 715 1299.9 715.2"/>
<path class="h" d="M1275.4 710.4L1295.3 705.2M1267 719.3L1294.8 714.2M1263.5 725.4L1292.8 718M1261.3 733L1291.1 726.3M1259.3 737.4L1291.9 729.7M1260.8 744.2L1288.3 739.8M1258 752.3L1286.8 744.9M1260.5 758.1L1287 751.4M1263.5 763.2L1289.9 756.3M1262.2 768.7L1291 761.1M1268.5 773.8L1293.2 769M1269.8 777.7L1293.3 773.4M1275.7 783L1295.3 778.4M1287.5 786.6L1296.3 784.4"/>
<path d="M1321.1 797.2C1321 797.6 1321 798.8 1320.9 799.7C1320.7 800.5 1320.4 801.2 1320 802C1319.6 802.7 1319.2 803.4 1318.6 804.1C1318.1 804.7 1317.4 805.2 1316.7 805.7C1316 806.2 1315.2 806.7 1314.4 806.9C1313.6 807.2 1312.7 807.4 1311.9 807.5C1311 807.6 1310.1 807.6 1309.2 807.4C1308.4 807.3 1307.6 806.9 1306.8 806.6C1306 806.2 1305.3 805.8 1304.6 805.2C1304 804.7 1303.3 804.1 1302.9 803.4C1302.4 802.7 1302 802 1301.7 801.2C1301.4 800.5 1301.2 799.6 1301.1 798.8C1301 798 1301 797.2 1301.2 796.4C1301.3 795.5 1301.8 794.4 1302 794"/>
<path d="M1329.9 796.4C1329.9 797.2 1330.2 799.6 1329.9 801.2C1329.6 802.7 1328.9 804.2 1328.2 805.6C1327.5 807 1326.7 808.5 1325.7 809.7C1324.6 810.9 1323.3 811.9 1321.9 812.8C1320.5 813.7 1319 814.3 1317.4 814.8C1315.9 815.3 1314.3 815.6 1312.6 815.8C1311 816 1309.3 816 1307.7 815.8C1306.1 815.6 1304.4 815.2 1302.9 814.5C1301.4 813.8 1300.2 812.7 1298.9 811.7C1297.6 810.7 1296.3 809.7 1295.4 808.4C1294.4 807.1 1293.8 805.6 1293.2 804.1C1292.7 802.7 1292.2 801.1 1292 799.6C1291.8 798 1291.9 796.4 1292.2 794.8C1292.4 793.3 1293.4 791.1 1293.7 790.3"/>
<path d="M1337.8 795.8C1337.7 796.9 1337.8 800.2 1337.4 802.4C1337.1 804.6 1336.6 806.9 1335.7 808.9C1334.8 811 1333.4 812.9 1331.9 814.6C1330.3 816.3 1328.6 817.9 1326.6 819.2C1324.7 820.4 1322.5 821.4 1320.2 822.1C1318 822.8 1315.7 823.1 1313.3 823.3C1311 823.5 1308.6 823.5 1306.3 823.2C1304 822.9 1301.6 822.4 1299.5 821.4C1297.4 820.5 1295.5 818.9 1293.8 817.5C1292 816 1290.3 814.4 1289 812.7C1287.7 810.9 1286.7 808.8 1285.9 806.7C1285 804.6 1284.1 802.4 1283.9 800.3C1283.7 798.1 1284 795.7 1284.5 793.6C1285 791.4 1286.4 788.3 1286.7 787.3"/>
<path d="M1345.8 795.1C1345.7 796.5 1345.8 800.9 1345.3 803.7C1344.7 806.6 1343.9 809.4 1342.7 812C1341.4 814.6 1339.8 817.2 1337.9 819.4C1336 821.6 1333.6 823.7 1331.1 825.3C1328.6 826.9 1325.7 828 1322.9 829C1320 830 1317 830.9 1314.1 831.1C1311.1 831.4 1307.9 831 1305 830.5C1302 829.9 1299 829.2 1296.2 828.1C1293.5 827 1290.7 825.5 1288.4 823.6C1286.1 821.8 1284.2 819.3 1282.5 817C1280.7 814.6 1278.9 812.1 1277.9 809.4C1276.9 806.8 1276.5 803.8 1276.3 800.9C1276.1 798 1276.1 795.1 1276.6 792.2C1277.1 789.4 1278.7 785.3 1279.1 783.9"/>
<path class="w" d="M767 612L892 765L767 762L697 687Z"/>
<path class="h" d="M702.7 691.7L704.4 689.5M705.2 695.8L708.7 690.8M708 702.8L718.5 687.6M714.3 702.3L722 692.2M713.8 710.5L727.2 693.1M718 711L730.9 693.7M723.5 716.2L739.1 692M725.3 720.8L744.4 695.4M730.6 723.4L750 692.6M733.3 725.2L757.2 694M736.9 729.7L759 696.9M742.3 734.2L767 697.3M742.4 739.3L771.2 701.4M745.9 740.9L772.1 704.9M750.2 748.7L777.6 705.6M754.1 749.5L784.4 708.4M756.1 751.8L786.4 711.2M760.9 759.3L791.2 711.6M764.9 756.8L797.5 713.5M770.2 760.8L800.8 714.8M779.3 759.2L804.8 718.8M784.9 759.3L808.2 726.7M790.3 757.2L808.8 733.2M796.6 755.8L811.1 736.5M808.9 749.6L816.8 737.7M815 748.8L818 744.5"/>
<path class="w" d="M789.4 657C789.4 661.7 788.4 666.5 786.9 671C785.4 675.4 783.3 680 780.4 683.7C777.5 687.4 773.5 690.5 769.5 693.3C765.6 696 761.3 698.8 756.7 700.3C752.1 701.7 746.9 702.2 742 702.1C737.1 702 732.2 701 727.6 699.5C722.9 698.1 718.2 696.2 714.3 693.5C710.4 690.8 706.9 687.1 704.1 683.3C701.4 679.5 699.2 675.2 697.7 670.8C696.3 666.4 695.6 661.6 695.5 657C695.4 652.4 695.7 647.4 697.2 643.1C698.6 638.7 701.3 634.4 704.2 630.7C707.1 627 710.8 623.7 714.6 620.9C718.5 618.1 722.8 615.3 727.4 613.9C731.9 612.5 737.1 612.4 742 612.4C746.9 612.4 752 612.5 756.6 613.9C761.2 615.3 765.6 618 769.5 620.8C773.4 623.6 777 626.9 779.9 630.6C782.8 634.3 785.6 638.6 787.2 642.9C788.7 647.3 789.5 652.3 789.4 657Z"/>
<path d="M780.5 659C780.6 663.2 779.7 667.8 778.2 671.8C776.7 675.9 774.5 680 771.7 683.2C768.8 686.5 764.9 689 761.1 691.2C757.3 693.3 753 695.3 748.7 696.1C744.4 696.8 739.7 696.4 735.4 695.6C731.1 694.8 726.6 693.3 722.9 691.1C719.2 689 715.8 685.9 713.1 682.6C710.3 679.4 708 675.5 706.5 671.6C704.9 667.7 703.9 663.2 703.9 659C703.9 654.8 705.2 650.5 706.7 646.5C708.1 642.5 710 638.4 712.7 635.1C715.4 631.8 719 628.6 722.7 626.5C726.5 624.4 731 622.8 735.3 622.2C739.6 621.7 744.3 622.1 748.5 623C752.7 623.8 756.9 625.5 760.6 627.6C764.4 629.6 768.1 632.2 771 635.3C773.8 638.5 776 642.4 777.6 646.4C779.2 650.3 780.4 654.8 780.5 659Z"/>
<path d="M772.4 659C772.5 662.3 771.5 665.8 770.2 668.9C769 672 767.2 675.1 765 677.7C762.8 680.2 760 682.6 757.1 684.2C754.1 685.9 750.6 687 747.2 687.6C743.8 688.2 740.1 688.3 736.8 687.8C733.4 687.2 729.9 685.9 727 684.2C724 682.5 721.1 680.2 719 677.7C716.8 675.1 715.2 671.9 714.1 668.8C713 665.7 712.5 662.3 712.5 659C712.4 655.7 712.8 652.3 713.9 649.1C714.9 646 716.5 642.7 718.7 640.1C720.8 637.5 723.7 635 726.7 633.4C729.8 631.9 733.4 631.2 736.8 630.7C740.2 630.2 743.9 629.8 747.2 630.4C750.6 630.9 754.1 632.2 757 633.9C760 635.5 762.8 637.8 764.9 640.4C767.1 643 768.6 646.1 769.8 649.2C771.1 652.3 772.3 655.7 772.4 659Z"/>
<path d="M764.3 659C764.2 661.4 763.3 663.8 762.3 666.1C761.4 668.3 760.2 670.5 758.7 672.4C757.1 674.2 755.1 675.8 752.9 677C750.8 678.2 748.2 679 745.8 679.4C743.3 679.8 740.7 679.9 738.2 679.4C735.8 679 733.4 678 731.2 676.9C729 675.7 726.7 674.3 725.1 672.5C723.5 670.7 722.5 668.3 721.6 666.1C720.7 663.8 719.9 661.4 719.9 659C719.8 656.6 720.4 654 721.2 651.8C722.1 649.5 723.4 647.3 725.1 645.4C726.7 643.6 728.8 642 731 640.8C733.2 639.6 735.7 638.6 738.2 638.2C740.6 637.8 743.3 638.1 745.8 638.5C748.3 638.9 750.8 639.7 753 640.8C755.2 642 757.4 643.6 759 645.4C760.6 647.2 761.6 649.6 762.4 651.9C763.3 654.2 764.3 656.6 764.3 659Z"/>
<path d="M756.1 659C756.1 660.6 755.7 662.3 755.2 663.8C754.7 665.3 754 666.9 752.9 668.2C751.9 669.4 750.4 670.4 749 671.2C747.6 672 746 672.5 744.4 672.8C742.9 673.1 741.1 673.2 739.5 672.9C738 672.6 736.4 671.9 735.1 671C733.7 670.2 732.4 669.2 731.3 668C730.3 666.7 729.5 665.3 728.9 663.8C728.3 662.3 727.9 660.6 727.9 659C727.8 657.4 728.1 655.7 728.7 654.2C729.3 652.7 730.4 651.4 731.4 650.1C732.4 648.9 733.5 647.5 734.9 646.7C736.2 645.8 737.9 645.2 739.5 644.9C741.1 644.7 742.8 644.9 744.4 645.2C746 645.5 747.7 645.8 749.1 646.6C750.5 647.4 751.8 648.7 752.8 650C753.8 651.2 754.5 652.7 755.1 654.2C755.7 655.7 756.1 657.4 756.1 659Z"/>
<path d="M747.9 659C747.9 659.9 747.7 660.8 747.5 661.7C747.3 662.5 747 663.4 746.6 664.2C746.2 664.9 745.6 665.5 745 666C744.4 666.4 743.7 666.8 743 666.9C742.4 667.1 741.6 667.1 740.9 667C740.3 666.8 739.6 666.4 739 665.9C738.4 665.4 737.8 664.9 737.4 664.2C736.9 663.5 736.6 662.6 736.3 661.7C736.1 660.9 736 659.9 736 659C736 658.1 736.1 657.1 736.4 656.3C736.6 655.4 736.9 654.5 737.4 653.8C737.8 653.1 738.4 652.5 739 652.1C739.6 651.6 740.3 651.4 741 651.3C741.7 651.1 742.4 650.9 743 651.1C743.7 651.2 744.4 651.5 745 652C745.6 652.5 746.1 653.2 746.6 653.9C747 654.6 747.5 655.4 747.7 656.2C748 657.1 747.9 658.1 747.9 659Z"/>
<path d="M767 762C769.5 763.5 770.7 768 782 771C793.3 774 816.7 780.7 835 780C853.3 779.3 882.5 769.2 892 767"/>
<path class="h" d="M774.4 765.1L775.8 763M779.7 767.9L782.6 763.4M784.9 770.3L789.7 762.7M787.7 772.4L794.4 762.8M794.7 773.2L801.4 762.7M799.8 772.8L807 762.7M802.4 775.7L811.6 762.7M809.1 776.3L817.8 763.4M814.7 776.2L823.8 763.4M821.7 776.5L831.5 763.4M825.2 778.5L835.4 763.2M831.1 778.3L842 763.9M836.9 779.4L848.1 763.8M847.6 775.7L855.3 765.3M850.3 776.9L859.2 765M860.2 774L866.5 765.6M865.6 771L870.2 764.1M876.7 768.7L879.1 765.3M882.2 766.7L883.5 764.8"/>
<path d="M780 813L842 789L874 814L905 811"/>
<path d="M1124.9 754.2C1126.2 758.8 1125.6 764.3 1124.8 769.3C1124.1 774.2 1123.1 779.6 1120.6 784C1118 788.5 1113.9 792.6 1109.8 796.1C1105.7 799.7 1101 803.1 1096 805.3C1091 807.5 1085.2 808.9 1079.7 809.6C1074.2 810.2 1068.3 810.3 1063 809.3C1057.6 808.3 1052 806.4 1047.7 803.7C1043.3 800.9 1039.8 796.8 1036.8 792.8C1033.7 788.9 1030.7 784.5 1029.3 779.8C1027.9 775.1 1027.9 769.7 1028.6 764.7C1029.2 759.7 1030.7 754.5 1033.2 749.8C1035.6 745.2 1038.9 740.3 1043 736.8C1047.2 733.2 1052.8 730.8 1057.9 728.6C1063.1 726.3 1068.7 723.7 1074.2 723C1079.7 722.4 1085.7 723.5 1091 724.8C1096.3 726 1101.8 727.8 1106.1 730.6C1110.5 733.3 1114 737.3 1117.1 741.2C1120.3 745.1 1123.6 749.5 1124.9 754.2Z"/>
<path d="M1114.1 755.3C1115 759 1116.1 762.9 1115.6 766.7C1115.1 770.4 1113.1 774.3 1111.1 777.7C1109 781.2 1106.4 784.5 1103.3 787.3C1100.2 790 1096.4 792.4 1092.5 794.2C1088.7 796 1084.3 797.7 1080 798.2C1075.8 798.6 1071.3 798 1067.2 797.1C1063.1 796.2 1059.1 794.7 1055.6 792.8C1052.1 790.8 1048.5 788.3 1046.1 785.4C1043.7 782.4 1042.2 778.5 1041.4 774.8C1040.5 771.1 1040.7 767.2 1041.1 763.4C1041.6 759.6 1042.4 755.5 1044.2 752C1045.9 748.4 1048.6 744.7 1051.7 741.9C1054.9 739.1 1059.1 736.8 1063.1 735.2C1067.2 733.5 1071.7 732.4 1076 732C1080.3 731.5 1084.8 731.6 1089 732.4C1093.1 733.2 1097.3 734.7 1100.8 736.7C1104.3 738.8 1107.8 741.5 1110 744.6C1112.2 747.7 1113.2 751.6 1114.1 755.3Z"/>
<path d="M1105.4 755.9C1106.1 758.4 1105.7 761.3 1105.3 764C1104.9 766.7 1104.5 769.6 1103.1 772C1101.7 774.4 1099.2 776.6 1096.9 778.5C1094.6 780.4 1092 782.1 1089.2 783.4C1086.5 784.6 1083.3 785.8 1080.3 786.1C1077.3 786.4 1074.1 786 1071.2 785.4C1068.3 784.9 1065.2 784.1 1062.8 782.7C1060.4 781.3 1058.4 779.1 1056.7 777C1055 774.9 1053.2 772.6 1052.5 770.1C1051.8 767.6 1052.1 764.7 1052.5 762C1052.9 759.3 1053.6 756.5 1054.9 754C1056.2 751.5 1058.2 748.9 1060.5 747C1062.8 745 1065.8 743.6 1068.6 742.4C1071.5 741.2 1074.6 740 1077.7 739.7C1080.7 739.3 1084 739.6 1086.9 740.3C1089.8 740.9 1092.7 742 1095.1 743.4C1097.5 744.9 1099.4 747 1101.1 749C1102.8 751.1 1104.7 753.4 1105.4 755.9Z"/>
<path d="M1095.6 756.8C1096 758.3 1096.2 759.9 1095.9 761.4C1095.7 762.9 1095 764.5 1094.1 765.9C1093.2 767.3 1091.9 768.6 1090.6 769.7C1089.2 770.9 1087.7 771.9 1086 772.7C1084.3 773.4 1082.4 773.8 1080.6 774C1078.8 774.2 1076.9 774.2 1075.2 773.9C1073.5 773.6 1071.6 773.2 1070.2 772.4C1068.8 771.6 1067.8 770.2 1066.9 769C1065.9 767.8 1065 766.5 1064.6 765.1C1064.1 763.7 1064 762.1 1064.3 760.6C1064.6 759.1 1065.4 757.6 1066.2 756.2C1067 754.8 1067.9 753.2 1069.3 752.1C1070.6 751 1072.4 750.2 1074.1 749.5C1075.7 748.8 1077.6 748.2 1079.4 748C1081.2 747.8 1083 747.9 1084.8 748.2C1086.5 748.5 1088.3 748.9 1089.7 749.7C1091.1 750.5 1092.4 751.6 1093.3 752.8C1094.3 754 1095.1 755.4 1095.6 756.8Z"/>
<path d="M1081.6 760C1081.6 760.1 1081.8 760.6 1081.7 760.8C1081.6 761.1 1081.4 761.5 1081.1 761.7C1080.9 762 1080.4 762.2 1080 762.3C1079.6 762.4 1079 762.4 1078.5 762.2C1078.1 762.1 1077.5 761.8 1077.2 761.4C1076.8 761.1 1076.5 760.5 1076.4 760C1076.3 759.5 1076.3 758.8 1076.6 758.3C1076.8 757.7 1077.3 757.2 1077.9 756.8C1078.4 756.4 1079.2 756.1 1080 756C1080.8 755.9 1081.7 756 1082.5 756.3C1083.2 756.5 1084 757.1 1084.6 757.7C1085.1 758.3 1085.5 759.2 1085.6 760C1085.7 760.8 1085.5 761.8 1085.1 762.6C1084.7 763.4 1084 764.2 1083.1 764.7C1082.3 765.3 1081.1 765.7 1080 765.8C1078.9 765.9 1077.6 765.7 1076.5 765.3C1075.5 764.8 1074.4 764.1 1073.7 763.2C1073 762.3 1072.5 761.1 1072.4 760C1072.3 758.9 1073 757.1 1073.1 756.5"/>
<path d="M1054.1 795.8C1056.2 801.4 1058.5 807.4 1058 813.5C1057.4 819.7 1054.7 826.8 1050.8 832.8C1047 838.9 1040.7 844.6 1034.7 850C1028.8 855.3 1022.5 861.3 1015.1 865.1C1007.6 868.9 998.5 870.9 990.2 872.7C981.9 874.4 973.4 875.6 965.4 875.6C957.3 875.5 948.8 874.8 942 872.6C935.1 870.4 928.7 866.6 924.2 862.3C919.8 857.9 917.2 852 915.3 846.4C913.3 840.7 912.1 834.6 912.7 828.4C913.3 822.2 915.2 815.3 918.8 809.1C922.4 802.9 928.1 796.7 934.1 791.4C940.2 786.1 947.6 781 955.2 777.3C962.8 773.6 971.6 770.8 979.8 769.1C988 767.3 996.6 766.6 1004.5 766.8C1012.4 767.1 1020.2 768.4 1027 770.6C1033.8 772.8 1040.7 775.9 1045.2 780.1C1049.7 784.4 1052 790.3 1054.1 795.8Z"/>
<path d="M1033.8 813.8C1035.5 818.1 1035.7 823.3 1035.2 828.2C1034.6 833.1 1033.2 838.4 1030.6 843.1C1028 847.9 1024 852.7 1019.6 856.9C1015.1 861 1009.7 864.9 1004.1 867.8C998.4 870.7 991.9 872.7 985.7 874.1C979.4 875.6 972.6 876.8 966.6 876.5C960.6 876.3 954.8 874.5 949.7 872.5C944.5 870.5 939.4 868 935.7 864.6C931.9 861.3 929 857 927.4 852.5C925.8 848.1 925.4 842.8 926 837.9C926.7 832.9 928.4 827.6 931.1 822.8C933.8 818 937.8 813.1 942.3 809C946.7 804.9 952.3 801.1 958 798.3C963.7 795.5 970.2 793.4 976.4 792.1C982.5 790.9 988.9 790.5 994.9 790.7C1001 790.9 1007.5 791.4 1012.5 793.3C1017.5 795.2 1021.6 798.7 1025.2 802.1C1028.8 805.5 1032.2 809.4 1033.8 813.8Z"/>
<path d="M1016.9 830.3C1018.1 833.7 1018.6 837.4 1018.4 841.1C1018.1 844.7 1017.2 848.6 1015.6 852.1C1013.9 855.5 1011.4 859 1008.5 861.8C1005.6 864.7 1002 867.2 998.3 869.2C994.6 871.2 990.5 872.7 986.4 873.6C982.3 874.6 977.8 875.1 973.7 874.8C969.7 874.5 965.3 873.5 961.9 871.9C958.4 870.2 955.6 867.4 953.2 864.7C950.8 862 948.7 858.9 947.5 855.6C946.3 852.3 945.6 848.5 945.8 844.9C946 841.3 947.1 837.5 948.6 834C950.2 830.5 952.5 827 955.3 824C958.1 821 961.6 818.3 965.4 816.2C969.1 814.2 973.4 812.6 977.5 811.8C981.7 810.9 986.2 810.6 990.3 811.1C994.4 811.5 998.4 812.7 1002 814.3C1005.5 815.9 1009.1 818.1 1011.6 820.7C1014.1 823.4 1015.8 826.9 1016.9 830.3Z"/>
<path d="M996.9 848.9C997.5 850.4 997.7 852.3 997.6 854C997.5 855.8 997.2 857.7 996.4 859.4C995.6 861 994.2 862.6 992.8 864.1C991.4 865.5 989.9 867 988.1 868C986.3 869 984.1 869.5 982.1 869.9C980.1 870.3 977.9 870.5 976 870.3C974 870.1 972 869.6 970.3 868.8C968.7 868 967.1 866.8 965.9 865.5C964.8 864.3 964 862.6 963.4 861C962.8 859.4 962.5 857.7 962.5 856C962.6 854.2 963 852.4 963.8 850.7C964.5 849 965.5 847.1 966.9 845.7C968.3 844.3 970.3 843.4 972.1 842.4C974 841.4 975.9 840.3 977.9 839.8C979.8 839.3 982.1 839.2 984.1 839.4C986.1 839.6 988.1 840.2 989.8 841.1C991.4 841.9 992.8 843.2 994 844.5C995.2 845.8 996.3 847.3 996.9 848.9Z"/>
<path d="M979.6 862C979.6 862.1 979.8 862.6 979.7 862.8C979.6 863.1 979.4 863.5 979.1 863.7C978.9 864 978.4 864.2 978 864.3C977.6 864.4 977 864.4 976.5 864.2C976.1 864.1 975.5 863.8 975.2 863.4C974.8 863.1 974.5 862.5 974.4 862C974.3 861.5 974.3 860.8 974.6 860.3C974.8 859.7 975.3 859.2 975.9 858.8C976.4 858.4 977.2 858.1 978 858C978.8 857.9 979.7 858 980.5 858.3C981.2 858.5 982 859.1 982.6 859.7C983.1 860.3 983.5 861.2 983.6 862C983.7 862.8 983.5 863.8 983.1 864.6C982.7 865.4 982 866.2 981.1 866.7C980.3 867.3 979.1 867.7 978 867.8C976.9 867.9 975.6 867.7 974.5 867.3C973.5 866.8 972.4 866.1 971.7 865.2C971 864.3 970.5 863.1 970.4 862C970.3 860.9 971 859.1 971.1 858.5"/>
<path d="M950 770L1020 736"/>
<path d="M1004 890L1084 818"/>
<path class="h" d="M1049.1 736.2L1081.7 728.7M1043.6 740.8L1081.4 732.5M1034.7 748.6L1080.6 737M1028.9 755.6L1079.3 741.6M1030.4 761.9L1078.5 749.3M1031 764.8L1074.9 755.8M1030.4 772.5L1073 762.7M1028.6 777.5L1072.3 766.1M1030.6 783.2L1075.7 769.9M1034 785.6L1077.6 777M1037.1 791.6L1074 784.2M1037.7 796.7L1078.4 785.8M1046.5 798.8L1078.4 790.6M1051.9 802.8L1078 796.7M1064.5 807.3L1082.3 802.8"/>
<path class="h" d="M938.9 793.9L944.8 792.1M928.9 802.8L973.5 789.7M921.3 810.1L971.8 795.2M918.5 816.8L972.1 802.3M915 823.5L972.7 806.1M912 827.9L966.7 813.9M913.3 833.7L968.1 822.6M913.4 839.5L965.6 826.3M911.5 847.1L966.9 830.4M915 850.1L966.5 836M914.6 856.4L972.2 838.8M920.7 859.6L974.1 846.6M922.3 862.8L975.2 849.3M928.2 866.8L976.7 855.6M937.6 871.4L976.9 859.6M945.1 873.7L983.9 866.1M962.6 876.2L981.6 871.3"/>
<path d="M992 888L1192 708"/>
<path class="h" d="M986.3 879.6L997.9 897.4M993 870.7L1005.1 891.6M997.9 863.6L1013.2 888.4M1005.1 859.8L1017.6 879M1011.6 853.8L1023.9 874.6M1018.2 847.8L1031.2 870M1024.9 841.5L1038.9 861.1M1032.2 836.8L1043.8 853.4M1038 829.9L1051.7 851.9M1046.4 824.5L1059.4 844.1M1051.8 816.3L1066.5 838.9M1057.9 811.4L1073.8 833M1063.4 805.7L1079.3 827.5M1071 798.9L1084.6 820.6M1079.4 795.6L1089.4 812.1M1085 786.1L1097.9 808.2M1092 779.3L1106.2 803.5M1100 777.9L1109.3 793.4M1106.8 772.4L1115.8 788.5M1112.4 765.6L1123.3 783.8M1118.4 754.6L1132.5 779.8M1126 751.5L1139.3 773.6M1130.5 743.4L1146.7 768.4M1138.3 739.2L1152.8 762.5M1144.5 731.9L1161 755.5M1151.4 728.8L1166.5 749M1158.7 720.1L1173 742.6M1165.3 715.7L1177.5 735.4M1171.3 708.5L1186.3 730.7M1177.7 703.6L1194 725.7M1186.8 699.9L1196.4 716"/>
<path class="h" d="M997.5 848.9L1025.3 889.1M1011.2 848.4L1029.1 875.6M1017.9 835.6L1040.7 871.9M1028.5 828.8L1049 860.7M1037.8 821.2L1059.2 854M1044.3 811.4L1069.6 847.8M1054.3 803.6L1079.7 839.4M1062.9 792L1090.3 834.6M1074.6 788.4L1095.4 819.2M1084.4 782.5L1103.9 809.8M1091 766.8L1114.9 808.9M1102 767.3L1120.4 794.2"/>
<path class="h" d="M1030.8 782.4L1040 797.8M1014.7 770.8L1034 811.9M1002 762.7L1027.5 816.3M990.9 771.3L1028.7 835.7M977.6 772.9L1022.8 849.7M968.4 773.1L1013.2 858.9M958.8 777.3L1013.9 875.6M951.7 783.7L1008.1 880M941.8 788.3L987.8 872.7M934.5 791.6L972.2 864.2"/>
<path d="M325 727L900 789L1545 859"/>
<path d="M505 347L655 347"/>
<path d="M355 497L805 507"/>
<path d="M362 572L738 590"/>
<path d="M237 683L1090 723"/>
<path d="M326 758L490 733"/>
<path d="M440 826L588 739"/>
<path d="M450 938L910 764"/>
<path class="h" d="M925.3 486.7L930.4 498.6M915.6 487.1L931.6 520.1M901.9 489.2L923.4 530.2M895 488.9L912.9 529.2M879.2 490.9L901.1 531.4M880.8 508L892.3 531.1"/>
<path class="h" d="M931 491.9L974.8 476.6M936.1 497.9L987.1 476.4M936.3 507.2L987.2 486.9M935.2 513.2L985.1 495.4M939.8 516.8L990.7 498.8M936 524.6L988.4 508.3M972.8 521L987.1 515.4"/>
<path class="h" d="M1047.3 489.9L1055.7 505.4M1034.8 488.2L1058.9 537.3M1021.9 484.4L1046.9 534.4M1012 485.5L1037.1 535.4M998.3 485.7L1021.2 533.6M989.9 493.6L1007.9 531.4M994.9 526.5L996.6 530.1"/>
<path class="h" d="M1053.6 495.1L1102.4 478.6M1058 503.3L1116.7 481.1M1059.8 508.3L1120.9 489.5M1063.5 515.8L1123.1 494.1M1063.5 521.5L1124.9 501.4M1065 529.1L1125 505.2M1104 521.9L1124.3 514.5"/>
<path class="h" d="M1169 497.2L1180.5 513.3M1153.3 492.7L1186.3 537.4M1138.5 492.8L1172.7 541.3M1119 488.5L1154.6 536.4M1117.3 499.7L1144.2 534.7"/>
<path class="h" d="M1177.7 516.4L1205.9 506.2M1182.5 525.9L1230.4 505.7M1179.4 531.5L1227.9 513.8M1181.7 537.8L1231.7 522.3M1182.9 546.6L1231.4 529.3"/>
<path class="h" d="M1209.6 506.3L1220.7 539.2M1200.5 507.4L1214 542.7M1185.8 514.3L1197 546.2"/>
<path class="h" d="M1284.7 516.6L1297.9 529.7M1275 516.7L1299.8 539.3M1258.2 512.1L1303 555.9M1240.5 508.3L1288.4 554M1232.7 515.1L1272.2 550.9M1236.7 533L1252.2 547.4"/>
<path class="h" d="M1264.7 546L1267.1 543.3M1267.8 554.1L1277.2 543.7M1272.2 561.5L1284.6 546M1279.2 563.3L1292.5 546.6M1288.2 564.1L1296 553.8"/>
<path class="h" d="M1285.7 544.3L1296.8 552.9M1272.4 541.8L1295.5 562.7M1264.9 543.7L1287.5 562.4M1266.4 557.7L1273.4 563.2"/>
<path class="h" d="M1290.2 559.8L1294.4 554.8M1295.6 570.3L1308 556.3M1297.3 581.9L1315.8 558.6M1299.1 592L1330.4 558.5M1311.2 592.1L1332.1 564.5M1320.6 593.6L1334.1 578.1M1329.7 596.4L1338.3 586.2"/>
<path class="h" d="M1326.9 577.9L1342.3 589.9M1320.2 580.3L1352.4 604.6M1310.6 578.9L1360.1 618.3M1310.6 588L1368.2 637.1M1324 610.3L1359.9 639.8M1331.6 622.8L1352.3 641.8"/>
<path class="h" d="M1331.2 599.2L1368.8 640.7M1324.4 597.6L1361.6 644M1316.8 597.5L1356.8 648.1M1311.6 603.1L1354 650.8"/>
<path class="h" d="M1342.8 633L1347.8 628.6M1346.1 638.3L1363 624.7M1347.6 647L1366 630.6M1354.6 647.9L1371.2 635.4"/>
<path class="h" d="M1349.4 655.3L1357 647.5M1355.3 659.3L1372.6 641M1357.8 667L1377 648.4M1362.3 669.9L1382 650.7M1367.8 675L1385.6 655.5M1369.8 678.3L1387.8 660M1373.3 683.6L1393.7 664.1M1379.5 687.5L1398.4 667"/>
<path class="h" d="M1397.9 672.1L1420.2 693.8M1392.6 670.3L1442.7 725.4M1389.9 675.7L1439.9 733.8M1384.5 682.3L1437.4 736.3M1381.5 684.3L1429.9 737.6M1415.9 728.7L1428.8 742.9"/>
<path class="h" d="M1412.8 726.2L1418.5 720.1M1417.2 732.9L1438.2 713.1M1421.7 737.5L1439.6 720.5M1432.6 736.9L1446.8 724.2"/>
<path class="h" d="M1420.2 742.1L1434 731M1423.5 746.7L1445.4 727.4M1426.6 750.8L1451.7 729.9M1427.6 761.1L1455.4 736.3M1431.2 763.2L1457.4 739.4M1437.4 766.5L1463.5 742.6M1441.4 773.7L1464.2 753.1M1443.1 776L1470.7 753.5M1446.3 781.5L1475.3 758.4M1447.9 789.5L1477.9 765.8M1473.7 777.2L1483 769.6"/>
<path class="h" d="M1473.7 771.2L1491.6 798.6M1470.4 774.6L1508.6 838.7M1460.1 776.6L1505 838.6M1460 780.9L1496.4 840.8M1454.1 783.4L1495.9 846.4M1448.2 787.6L1486.3 846.7"/>
<path d="M490.3 680.9C491.9 680.7 497 679 499.9 679.7C502.7 680.4 505.6 682.9 507.4 685.1C509.3 687.4 510.5 690.3 511 693.2C511.5 696 511.7 699.7 510.5 702.3C509.3 705 506.4 707.9 503.7 709.1C501 710.2 497.4 709.7 494.4 709.2C491.4 708.6 487.8 707.8 485.7 705.8C483.5 703.7 481.9 699.9 481.7 697C481.5 694.1 483.1 690.7 484.4 688.1C485.6 685.5 486.2 683.1 488.9 681.5C491.6 679.9 498.4 678.8 500.3 678.3"/>
<path d="M573.3 639.2C573.9 640.3 576.5 643.4 576.5 645.6C576.6 647.7 575.3 650.7 573.5 652.3C571.6 653.9 568.3 654.6 565.5 655.1C562.7 655.7 559.4 656.2 556.9 655.5C554.3 654.8 551.8 652.9 550.2 651.1C548.6 649.2 547.2 646.6 547.3 644.4C547.5 642.3 549.3 639.8 551.2 638.1C553 636.5 555.8 635 558.4 634.5C561 634 564.1 634.4 566.8 635C569.5 635.7 572.8 637 574.7 638.5C576.6 639.9 577.6 642.8 578.2 643.7"/>
<path d="M542.2 658.9C542.7 659.8 545 662.3 545.2 664.3C545.5 666.2 545 668.9 543.9 670.6C542.9 672.2 540.6 673.4 538.7 674.1C536.8 674.8 534.4 675.3 532.6 674.8C530.7 674.4 528.6 672.9 527.4 671.4C526.3 669.8 525.8 667.7 525.5 665.7C525.3 663.7 525.2 661.2 526.2 659.5C527.1 657.8 529.4 656.5 531.2 655.7C533.1 655 536 654.6 537.5 654.9C539 655.3 539.2 655.8 540.4 657.6C541.5 659.4 543.5 664.2 544.2 665.5"/>
<path d="M595.3 632.4C594.9 633.3 594.3 636.5 593 637.9C591.8 639.3 589.6 640.3 587.6 640.7C585.7 641.1 583.2 641.1 581.4 640.3C579.6 639.5 577.6 637.6 576.8 635.8C575.9 634 576.1 631.6 576.4 629.6C576.7 627.6 577.3 625.2 578.6 623.8C580 622.4 582.4 621.7 584.4 621.3C586.3 621 588.8 620.9 590.6 621.8C592.4 622.6 594.5 624.5 595 626.3C595.5 628 594 630.3 593.6 632.3C593.2 634.2 592.9 636.8 592.7 637.7"/>
<path d="M597.4 618.5C598.1 617.7 599.8 614.9 601.5 613.8C603.1 612.7 605.3 612 607.3 612C609.3 612 611.8 612.6 613.4 613.8C615 615 616.4 617.3 616.8 619.2C617.3 621.1 616.8 623.5 616.1 625.3C615.3 627.1 613.9 628.8 612.4 629.9C610.8 631 608.6 631.7 606.7 631.7C604.7 631.8 602 631.5 600.5 630.3C599 629.2 597.8 626.4 597.5 624.7C597.3 623.1 598.1 622.3 598.9 620.4C599.7 618.5 601.7 614.5 602.3 613.3"/>
<path d="M634.6 600C635.9 600.3 640.2 600.3 642.1 601.9C644.1 603.6 645.5 607 646.3 609.9C647.1 612.8 647.3 616.4 646.7 619.3C646.1 622.1 644.4 625.3 642.5 627.1C640.6 628.9 637.7 630.3 635.4 630.2C633 630.2 630.5 628.6 628.5 626.9C626.6 625.2 624.4 622.8 623.6 620.1C622.8 617.4 622.9 613.7 623.6 610.8C624.2 608 625.5 604.9 627.5 602.9C629.5 600.9 633.4 599.2 635.7 598.8C638.1 598.5 640.6 600.6 641.6 600.9"/>
<path d="M633 633.2C633.3 634.7 635.6 638.6 634.5 641.9C633.3 645.1 630.5 649.4 626.1 652.7C621.6 656 613.9 659.4 607.7 661.4C601.5 663.4 593.7 664.9 588.6 664.8C583.5 664.7 578.9 662.9 576.9 660.8C575 658.6 575.3 655.1 576.7 651.9C578.1 648.8 581.1 644.7 585.4 641.7C589.7 638.7 596.7 635.7 602.5 633.8C608.4 631.9 615.5 630.2 620.5 630.1C625.6 630 630.2 631.2 632.8 633.2C635.5 635.1 635.8 640.5 636.4 642"/>
<path d="M694.8 643.4C691.7 644.8 682.3 650.1 675.8 651.6C669.2 653.2 661 653.4 655.6 652.6C650.1 651.8 645.4 649.6 643.2 647C641 644.4 640.5 640.5 642.4 637.1C644.3 633.6 649.3 629.4 654.6 626.3C659.9 623.2 667.6 619.9 674.2 618.4C680.9 616.9 689.4 616.4 694.6 617.2C699.8 618.1 703.2 620.9 705.4 623.5C707.6 626.1 709.5 629.5 707.6 632.9C705.7 636.3 699.2 640.5 693.8 643.8C688.5 647.1 678.7 651.2 675.6 652.7"/>
<path d="M732.1 601C731.8 602.4 732.3 606.8 730.6 609.2C729 611.6 725.6 614 722.2 615.2C718.8 616.4 714.2 616.5 710.3 616.3C706.3 616.2 701.3 615.6 698.5 614C695.6 612.5 694 609.3 693.2 606.8C692.4 604.3 692.5 601.3 693.9 598.9C695.3 596.6 698.3 594 701.7 592.7C705 591.5 709.8 591.2 713.8 591.4C717.8 591.6 722.7 591.9 725.8 593.8C728.8 595.7 731.8 600.4 732.3 602.9C732.8 605.5 729.3 608 728.7 609.1"/>
<path d="M545.3 692.4C544.2 691.2 539.9 688 538.5 685.1C537.1 682.1 536.6 678 537 674.5C537.4 671.1 538.6 666.9 540.7 664.5C542.8 662.2 546.5 660.8 549.5 660.4C552.4 659.9 555.8 660.6 558.5 662C561.2 663.4 564.3 665.9 565.7 668.8C567.1 671.7 567.5 676.2 566.9 679.4C566.4 682.7 564.5 686 562.5 688.5C560.4 691 557.7 694.2 554.7 694.6C551.6 695 546.9 692 544.2 690.7C541.5 689.4 539.6 687.4 538.6 686.7"/>
<path d="M594.6 679.1C596.3 680.2 603.2 683.2 605.1 686C607 688.8 607.4 692.7 606 695.9C604.6 699.1 600.9 702.7 596.8 705.1C592.8 707.5 587 709.4 581.9 710.3C576.8 711.1 570.6 711.2 566 710.2C561.4 709.2 556.3 707 554.3 704.3C552.2 701.6 552.6 697.5 553.9 694.1C555.1 690.7 557.7 686.6 561.7 684C565.7 681.4 572.4 679.3 577.9 678.5C583.4 677.8 590.3 677.9 594.8 679.4C599.2 681 603.1 686.2 604.7 687.6"/>
<path d="M534.5 708.3C536.8 708.6 545.1 708 548.4 709.9C551.7 711.8 553.9 716.2 554.2 719.8C554.6 723.5 552.8 728.1 550.5 731.9C548.2 735.7 544.5 740.1 540.3 742.5C536.1 744.9 530.1 746 525.4 746.2C520.7 746.4 515.2 745.7 512 743.7C508.9 741.7 506.8 737.6 506.3 734C505.7 730.4 506.6 725.7 508.8 721.9C511 718.1 515 713.4 519.5 711.2C524 708.9 531.3 708.3 536 708.3C540.8 708.2 546 710.3 547.9 710.8"/>
<path d="M559.5 721C562 720 569.4 715.4 574.4 714.9C579.5 714.4 585.5 715.8 589.9 717.7C594.3 719.6 599.1 722.7 600.8 726.2C602.4 729.7 601.3 734.8 599.7 738.6C598 742.5 594.9 746.8 590.8 749.4C586.8 752 580.7 754 575.6 754.5C570.5 755 564.5 754.1 560.1 752.3C555.8 750.5 551.5 747.2 549.5 743.7C547.5 740.2 546.4 734.7 548.2 731C550 727.4 555.6 724.3 560.1 721.5C564.7 718.8 572.9 715.6 575.5 714.5"/>
<path d="M457.8 709.9C457.8 708.8 457.2 705.3 457.5 703.1C457.8 701 458.5 698.4 459.9 696.8C461.2 695.2 463.5 693.9 465.5 693.6C467.6 693.2 470.3 693.7 471.9 694.8C473.6 696 474.6 698.4 475.5 700.4C476.4 702.5 477.6 705 477.3 707C477 709.1 475.2 711.3 473.7 712.7C472.2 714.1 470.2 715 468.3 715.4C466.4 715.8 464.1 716 462.2 714.8C460.4 713.7 457.9 710.5 457.2 708.6C456.5 706.7 457.8 704.2 457.9 703.3"/>
<path d="M482.3 726.7C482.8 725.8 484.1 722.7 485.7 721.3C487.3 720 489.9 718.9 492 718.7C494.2 718.5 497 719.2 498.8 720.2C500.7 721.3 502.5 723.2 503.4 725C504.3 726.9 504.7 729.5 504.1 731.4C503.6 733.3 501.9 735.2 500.2 736.5C498.5 737.8 496 739 493.9 739.1C491.8 739.2 489.3 738.2 487.6 737.2C485.8 736.1 484.3 734.3 483.4 732.7C482.5 731.1 481.9 729 482.1 727.4C482.3 725.9 484.2 723.9 484.6 723.2"/>
<path d="M719.2 608.5C716.1 607.5 705.3 605.4 700.5 602.9C695.6 600.3 690.3 596.5 690.1 593.2C689.8 590 694.6 586.1 698.8 583.3C702.9 580.6 708.6 578 715 576.7C721.4 575.3 730.2 574.5 736.9 575.3C743.6 576 750.8 578.7 755.2 581.3C759.6 583.9 762.9 587.7 763.2 590.9C763.6 594.1 760.7 597.7 757.1 600.6C753.6 603.6 748.4 607.2 742.1 608.6C735.7 609.9 726.1 609.4 719 608.8C711.9 608.1 702.7 605.3 699.4 604.6"/>
<path d="M829.4 618.3C826.7 619.2 819.1 623.1 813.5 624.1C808 625.2 801.2 626.1 796 624.8C790.8 623.5 785.9 619.9 782.4 616.5C779 613 775.3 608.2 775.5 604.2C775.6 600.1 779.6 595.5 783.3 592.1C787.1 588.8 792.4 584.9 797.7 584C803.1 583 810.1 584.8 815.4 586.4C820.7 588 825.8 590.4 829.3 593.7C832.9 596.9 836.8 602 836.7 605.8C836.6 609.6 832.9 613.5 828.8 616.4C824.8 619.4 815.3 622.4 812.6 623.6"/>
<path d="M836.8 571.3C838.2 569.3 841.3 562.6 845.3 559.6C849.3 556.6 855.4 553.9 860.9 553.3C866.5 552.6 873.7 553.6 878.5 555.6C883.4 557.7 887.5 561.8 890 565.7C892.6 569.5 894.4 574.6 893.6 578.8C892.9 583 889.5 587.9 885.4 590.9C881.3 594 874.9 596.3 869.1 597C863.4 597.6 856.1 597.1 851 595C846 592.9 841.7 588.3 839.1 584.6C836.5 581 834.9 577.4 835.7 573.1C836.5 568.7 842.4 561.2 843.8 558.8"/>
<path d="M915.6 584.4C915.1 582.5 912.7 576.8 913 573.1C913.4 569.3 914.5 564.4 917.6 561.7C920.8 559 927 557.5 932 556.8C936.9 556.2 942.8 556.1 947.3 557.6C951.8 559 956.7 562.2 959 565.4C961.2 568.6 961.3 573.2 960.8 576.9C960.2 580.6 958.5 585 955.4 587.6C952.3 590.3 946.7 592 941.9 592.8C937.2 593.6 931 593.6 926.7 592.4C922.5 591.3 918.5 589.3 916.5 585.8C914.5 582.3 915 573.9 914.8 571.5"/>
<path d="M964.4 606.2C964.7 604.2 964.3 597.7 966.1 593.9C967.9 590.1 970.9 585.4 975.1 583.3C979.4 581.2 986.1 580.8 991.4 581C996.8 581.3 1003.4 582.3 1007.1 584.8C1010.9 587.3 1012.7 592.3 1013.8 596.1C1015 600 1015.5 604.4 1013.9 608.1C1012.4 611.8 1008.7 615.9 1004.4 618.2C1000.2 620.5 993.7 622.1 988.5 621.8C983.4 621.5 977.4 618.9 973.6 616.5C969.8 614.1 967.1 610.9 965.8 607.3C964.5 603.6 965.8 596.8 965.8 594.7"/>
<path d="M1024.1 580C1024.8 578 1025.2 571.1 1027.8 568C1030.5 564.9 1035.8 562.5 1040.2 561.6C1044.6 560.8 1050.5 561.1 1054.3 562.9C1058.2 564.6 1061.2 568.7 1063.4 572.3C1065.6 575.8 1068.1 580.4 1067.6 584.1C1067.1 587.8 1063.5 591.7 1060.5 594.6C1057.5 597.5 1053.6 600.7 1049.6 601.6C1045.6 602.4 1040.2 601.4 1036.3 599.9C1032.4 598.3 1028.1 595.3 1026 592C1023.9 588.8 1023.4 584.1 1023.7 580.2C1023.9 576.4 1026.9 570.9 1027.6 569"/>
<path d="M667.6 621.2C670.2 620.7 678.2 618.5 683.3 618.6C688.4 618.8 694.4 620.2 698.4 622.2C702.4 624.2 706.1 627.5 707.5 630.6C709 633.8 708.8 637.9 707 641C705.2 644.1 701.2 647.3 696.8 649.2C692.4 651.2 686.1 652.6 680.6 652.5C675.2 652.5 668.1 651.2 664.1 649C660.1 646.8 657.8 642.6 656.7 639.3C655.6 636 655.6 632.5 657.4 629.1C659.2 625.7 663.3 621.2 667.7 619.2C672.1 617.1 681.1 617.2 683.8 616.8"/>
<path d="M1088.2 580.7C1089.9 579.5 1094.4 575 1098.2 573.5C1102 572 1107.1 570.6 1110.8 571.6C1114.5 572.7 1118.2 576.6 1120.4 579.9C1122.5 583.2 1123.8 587.5 1123.8 591.3C1123.9 595.1 1122.9 599.5 1120.8 602.6C1118.8 605.8 1115.3 608.7 1111.7 610.2C1108.1 611.7 1103.2 612.7 1099.4 611.8C1095.6 610.9 1091.2 607.9 1088.8 604.7C1086.5 601.5 1085.2 597 1085.4 592.7C1085.5 588.5 1087.8 582.6 1089.7 579.4C1091.7 576.2 1095.9 574.7 1097.1 573.8"/>
<path d="M1130.7 563C1132 561.8 1135.1 557.8 1138.2 555.9C1141.4 553.9 1145.6 551.8 1149.6 551.4C1153.7 551 1158.9 552.2 1162.6 553.7C1166.3 555.1 1169.9 557.6 1171.6 560.1C1173.3 562.7 1173.7 566.2 1172.7 568.9C1171.7 571.5 1168.7 574.2 1165.6 576C1162.5 577.9 1158.4 579.6 1154.3 580C1150.2 580.5 1144.4 580.2 1141 578.8C1137.6 577.4 1135.8 574.2 1134 571.4C1132.1 568.6 1129.5 564.7 1130 562.3C1130.6 559.9 1136 557.8 1137.2 556.9"/>
<path d="M1198.4 553.5C1199.8 552.8 1203.9 549.8 1206.8 549.6C1209.8 549.4 1213.8 550.4 1216.1 552.2C1218.4 554 1219.7 557.6 1220.5 560.5C1221.2 563.3 1221.2 566.4 1220.5 569.2C1219.7 572 1218.3 575.3 1216.1 577.2C1213.8 579.1 1210.1 580.7 1207.2 580.7C1204.2 580.7 1200.7 579.1 1198.3 577.3C1195.9 575.5 1193.7 572.6 1192.8 569.8C1191.9 567 1191.9 563 1192.8 560.6C1193.8 558.1 1196.3 556.8 1198.7 555.1C1201.1 553.5 1205.8 551.4 1207.2 550.6"/>
<path d="M1221.5 588.6C1221.8 586.9 1221.2 581.3 1223.4 578.4C1225.5 575.5 1230 572.7 1234.4 571.2C1238.7 569.7 1244.6 569.1 1249.4 569.5C1254.2 569.8 1259.3 571.3 1263.2 573.3C1267.1 575.3 1271.7 578.4 1272.8 581.4C1274 584.4 1272.6 588.7 1270.3 591.5C1268 594.3 1263.3 596.5 1259 598.1C1254.7 599.7 1249.3 601.2 1244.5 601C1239.8 600.8 1234.3 599.1 1230.5 596.8C1226.7 594.6 1222.8 590.8 1221.8 587.7C1220.9 584.6 1224.5 579.9 1225 578.3"/>
<path d="M904.6 529.9C905.4 530.7 908.5 532.8 909.4 535.1C910.3 537.3 910.3 540.8 909.9 543.3C909.5 545.9 908.4 548.7 907 550.4C905.5 552.2 903.3 553.3 901.3 553.8C899.4 554.2 896.8 554.2 895 553.1C893.3 551.9 891.7 549.1 890.9 546.7C890.1 544.3 889.7 541.2 890.1 538.7C890.5 536.2 891.8 533.5 893.2 531.8C894.6 530 896.9 528.5 898.7 528.2C900.4 527.8 902 528.8 903.7 529.7C905.3 530.5 907.7 532.8 908.5 533.4"/>
<path d="M863.9 547.9C863.1 546.8 859.6 543.6 859.1 541.1C858.5 538.6 859.7 535.3 860.7 532.7C861.7 530.1 863 526.7 865.1 525.4C867.2 524 870.7 524 873.2 524.4C875.8 524.8 878.4 526 880.4 527.8C882.3 529.6 884.2 532.3 884.8 534.9C885.3 537.6 884.6 540.9 883.6 543.4C882.6 546 880.9 549 878.8 550.4C876.6 551.7 873 552.3 870.8 551.6C868.6 550.9 867.8 547.6 865.6 546.1C863.3 544.6 858.7 543.2 857.3 542.6"/>
<path d="M1278.9 629C1281.2 628.7 1288.2 626.4 1292.3 627.2C1296.4 628.1 1300.8 631.3 1303.5 634.3C1306.3 637.4 1308.7 641.7 1309 645.5C1309.2 649.4 1307.5 653.9 1305.2 657.3C1302.9 660.6 1299.3 664 1295.3 665.6C1291.4 667.2 1286 667.6 1281.7 666.8C1277.3 665.9 1272.2 663.5 1269.5 660.4C1266.8 657.4 1265.9 652.4 1265.7 648.4C1265.5 644.4 1265.9 639.4 1268.1 636.4C1270.4 633.4 1275.2 631.8 1279.2 630.5C1283.2 629.2 1290.1 629 1292.3 628.7"/>
<path d="M1314 679.3C1314.4 681.1 1317 686.2 1316.4 689.6C1315.9 693 1314.1 697.3 1310.7 699.7C1307.3 702.1 1301 703.5 1296 703.9C1291 704.4 1285.1 703.7 1280.6 702.2C1276.1 700.7 1271.3 698 1269 695C1266.7 692 1266.1 687.7 1267 684.3C1267.9 681 1270.8 677.4 1274.3 675C1277.8 672.6 1283.2 670.3 1288 669.9C1292.8 669.4 1298.7 671 1303 672.3C1307.3 673.5 1311.1 674.3 1313.5 677.4C1315.9 680.5 1316.7 688.6 1317.3 690.9"/>
<path d="M1243.2 676.2C1245.2 676.6 1252 677 1255.1 678.7C1258.2 680.4 1260.3 683.7 1261.7 686.4C1263 689.2 1263.7 692.4 1263.1 695.3C1262.5 698.2 1260.9 702.1 1258.1 703.9C1255.3 705.7 1250.5 706 1246.6 706.2C1242.7 706.5 1238.1 706.8 1234.8 705.4C1231.5 704.1 1228.1 700.9 1226.9 698.1C1225.6 695.3 1226.3 691.6 1227.3 688.8C1228.3 685.9 1230.1 683.1 1233 681.1C1235.8 679.1 1240.8 677.2 1244.2 676.8C1247.5 676.5 1251.7 678.5 1253.2 678.9"/>
<path d="M1357.2 736.3C1354.5 736.3 1345.5 737.8 1340.7 736.4C1335.9 735.1 1331.5 731.7 1328.3 728.3C1325.1 725 1321.7 720.6 1321.4 716.6C1321.1 712.5 1323.7 707.9 1326.2 704.1C1328.8 700.2 1332.2 695.5 1336.7 693.6C1341.3 691.7 1348.4 691.5 1353.5 692.7C1358.6 693.8 1364.4 697 1367.4 700.5C1370.4 703.9 1370.9 709.1 1371.4 713.5C1371.9 718 1372.8 723.3 1370.2 727.2C1367.7 731.1 1361 735.3 1356.3 736.9C1351.5 738.4 1344.2 736.7 1341.8 736.7"/>
<path d="M1385.2 779.5C1382.5 780.9 1374.9 787.2 1369 788.1C1363.1 789 1355.4 787 1349.7 785C1344 783 1338.3 779.8 1334.8 775.9C1331.2 772 1327.9 766.1 1328.5 761.5C1329.1 756.9 1333.9 751.5 1338.4 748.2C1342.9 744.9 1349.4 742.6 1355.5 741.5C1361.6 740.4 1369.5 739.9 1375.1 741.6C1380.7 743.4 1385.8 748 1389.1 752.1C1392.4 756.3 1395.7 761.7 1394.9 766.5C1394.2 771.3 1388.7 777.4 1384.6 780.8C1380.5 784.2 1372.7 785.8 1370.3 786.8"/>
<path d="M1348.5 807.8C1350.3 805.8 1355 799.2 1359.7 796C1364.3 792.8 1370.7 789 1376.4 788.8C1382 788.6 1388.9 791.9 1393.8 794.9C1398.7 797.9 1404 802.2 1405.7 806.7C1407.4 811.2 1405.8 817 1404.2 821.9C1402.6 826.7 1400.5 832.7 1396.1 836C1391.7 839.3 1383.7 841.4 1377.6 841.4C1371.5 841.4 1364.1 839.1 1359.5 836C1354.9 832.9 1351.6 827.6 1349.9 822.8C1348.2 818.1 1347.5 812.3 1349.1 807.7C1350.7 803 1357.8 797 1359.6 794.9"/>
<path d="M1436.5 842.8C1434.5 843.4 1428.6 846.3 1424.8 846.3C1420.9 846.2 1416.4 844.8 1413.3 842.4C1410.3 839.9 1407.4 835.4 1406.3 831.5C1405.3 827.5 1405.9 822.3 1407.2 818.4C1408.5 814.4 1410.9 810.1 1413.9 807.8C1416.9 805.5 1421.4 804.5 1425.2 804.5C1429 804.5 1433.6 805.5 1436.5 807.8C1439.5 810.2 1441.8 814.8 1443 818.8C1444.2 822.8 1444.8 828 1443.6 831.9C1442.4 835.9 1439 840.3 1435.6 842.4C1432.2 844.4 1425.2 844.1 1423.1 844.4"/>
<path d="M1364.1 686C1363.1 686 1359.8 686.8 1358.1 685.9C1356.3 685.1 1354.6 683.1 1353.5 681C1352.4 679 1351.4 676.1 1351.6 673.9C1351.8 671.6 1353.5 669.4 1354.9 667.5C1356.2 665.6 1357.9 663.1 1359.7 662.6C1361.5 662.1 1363.9 663.5 1365.8 664.5C1367.6 665.5 1369.9 666.7 1370.9 668.6C1371.9 670.5 1372.1 673.7 1371.8 676.1C1371.5 678.4 1370.5 681.1 1369.3 682.7C1368.1 684.2 1366.7 685.2 1364.5 685.4C1362.3 685.7 1357.5 684.6 1356.2 684.4"/>
<path d="M1220.6 542.7C1221.6 542.5 1225 541.2 1226.9 541.6C1228.8 542 1230.7 543.8 1232 545.3C1233.4 546.8 1235 548.8 1235.2 550.6C1235.5 552.5 1234.6 554.9 1233.6 556.7C1232.6 558.4 1231 560.2 1229.3 561C1227.6 561.9 1225.1 561.9 1223.2 561.6C1221.3 561.2 1219.3 560.2 1217.8 558.8C1216.4 557.4 1214.8 555.3 1214.6 553.4C1214.4 551.5 1215.5 548.9 1216.5 547.4C1217.4 545.9 1218.6 545.1 1220.3 544.4C1222 543.6 1225.7 543.1 1226.7 542.8"/>
<path d="M1253.9 617.1C1254.9 615.8 1256.8 611.1 1260 609.3C1263.1 607.4 1268.4 606 1272.8 605.8C1277.1 605.6 1282 606.7 1285.9 608.1C1289.9 609.5 1294.8 611.6 1296.3 614C1297.9 616.5 1296.5 620 1295.4 622.8C1294.4 625.6 1293.3 629 1290.2 630.9C1287.2 632.8 1281.7 634.1 1277.2 634.3C1272.8 634.6 1267.3 633.8 1263.6 632.4C1259.9 630.9 1256.4 628.5 1254.9 625.6C1253.5 622.8 1253.9 617.7 1254.9 615.2C1255.8 612.8 1259.7 611.5 1260.7 610.7"/>
<path d="M1283.2 603.7C1283 602.5 1281.7 598.8 1281.8 596.4C1281.9 594 1282.9 591.3 1284 589.5C1285.1 587.6 1286.9 585.6 1288.6 585C1290.3 584.4 1292.6 584.9 1294.2 585.8C1295.8 586.8 1297.2 588.8 1298.2 590.7C1299.2 592.7 1300 595.3 1300 597.6C1300 600 1299.3 603 1298.2 604.8C1297.1 606.5 1295 607.6 1293.2 608.1C1291.5 608.7 1289.2 609.2 1287.8 608.2C1286.4 607.1 1285.3 603.9 1284.6 601.8C1283.8 599.7 1283.5 596.8 1283.3 595.8"/>
<path d="M1274 582C1273.5 581.2 1271.5 578.8 1271.2 577.1C1270.8 575.4 1271.2 573.2 1271.9 571.6C1272.6 570 1274.1 568.5 1275.5 567.6C1277 566.7 1279 566.1 1280.7 566.1C1282.5 566.2 1284.7 566.7 1286.1 567.9C1287.6 569 1288.9 571 1289.3 572.8C1289.7 574.6 1289.3 576.9 1288.5 578.6C1287.8 580.2 1286.3 581.9 1284.8 582.9C1283.2 583.8 1280.8 584.5 1279.2 584.2C1277.7 583.8 1277.2 581.6 1275.6 580.6C1274.1 579.7 1270.7 578.8 1269.7 578.5"/>
<path d="M1259 558C1258.6 558.7 1257.8 561.2 1256.8 562.4C1255.7 563.6 1254.1 564.9 1252.6 565.3C1251.1 565.6 1248.9 565.1 1247.6 564.4C1246.2 563.6 1244.9 562.1 1244.2 560.7C1243.5 559.4 1243.3 557.6 1243.5 556.1C1243.6 554.5 1244.2 552.7 1245.2 551.6C1246.2 550.4 1247.9 549.4 1249.5 549.1C1251 548.8 1252.9 549.1 1254.4 549.8C1255.8 550.5 1257.6 551.8 1258.1 553.1C1258.5 554.4 1257.2 556 1257.2 557.4C1257.2 558.8 1257.9 560.9 1258.1 561.6"/>
<path d="M1304.9 627.1C1304.1 627.3 1301.5 628.5 1300 628.2C1298.4 627.9 1296.6 626.7 1295.6 625.4C1294.6 624.1 1294.2 622.2 1294.1 620.6C1294.1 619 1294.5 617.2 1295.3 615.9C1296.2 614.6 1297.6 613.4 1299 612.7C1300.5 612 1302.4 611.6 1304 611.9C1305.6 612.2 1307.3 613.3 1308.4 614.6C1309.5 615.8 1310.3 617.8 1310.4 619.4C1310.5 621 1309.9 623.4 1309.1 624.4C1308.3 625.4 1306.8 625.2 1305.6 625.6C1304.4 626 1302.4 626.6 1301.8 626.8"/>
<path d="M1106.4 550.2C1106.1 550.1 1105 550.1 1104.4 549.7C1103.8 549.4 1103.1 548.8 1102.7 548.2C1102.4 547.5 1102.1 546.7 1102.1 545.9C1102.1 545.1 1102.3 544.1 1102.7 543.4C1103.1 542.7 1103.8 541.9 1104.6 541.5C1105.4 541 1106.4 540.7 1107.4 540.7C1108.3 540.7 1109.4 541 1110.3 541.5C1111.1 542 1112 542.9 1112.5 543.8C1113 544.7 1113.4 545.9 1113.3 547C1113.3 548.1 1113 549.4 1112.4 550.4C1111.8 551.3 1110.8 552.3 1109.8 552.9C1108.7 553.5 1107.3 553.8 1106.1 553.8C1104.8 553.7 1103.4 553.3 1102.3 552.7C1101.2 552 1100.1 550.9 1099.5 549.7C1098.8 548.5 1098.6 546.2 1098.5 545.5"/>
<path d="M1037 555.3C1037.1 556 1037.9 558.3 1037.6 559.5C1037.2 560.7 1035.9 562 1034.8 562.4C1033.6 562.9 1031.7 562.6 1030.4 562C1029.1 561.5 1027.6 560.3 1026.9 559.1C1026.3 557.9 1026.1 556 1026.5 554.7C1026.9 553.5 1028.1 552.2 1029.3 551.7C1030.5 551.3 1032.7 551.3 1033.7 552.2C1034.7 553.1 1034.8 556 1035.5 557.1C1036.2 558.1 1037.4 558.2 1037.8 558.4"/>
<path d="M991.5 555.9C991.3 556.2 990.8 556.9 990.4 557.2C989.9 557.6 989.2 557.8 988.6 557.8C988 557.9 987.3 557.7 986.7 557.4C986.2 557.1 985.6 556.6 985.2 556C984.8 555.4 984.6 554.5 984.5 553.8C984.5 553.1 984.7 552.2 985.1 551.5C985.4 550.8 986 550.1 986.7 549.7C987.4 549.3 988.4 549 989.2 549C990.1 549 991.1 549.2 991.8 549.6C992.6 550.1 993.4 550.9 993.9 551.7C994.4 552.5 994.7 553.6 994.7 554.6C994.7 555.6 994.4 556.7 993.9 557.6C993.4 558.5 992.6 559.4 991.7 560C990.7 560.5 989.5 560.8 988.4 560.8C987.3 560.8 985.6 560 985.1 559.9"/>
<path d="M805.8 538.3C806.1 538.2 806.7 537.7 807.3 537.6C807.8 537.5 808.4 537.6 808.9 537.7C809.5 537.9 810 538.3 810.4 538.7C810.8 539.2 811.1 539.8 811.2 540.4C811.2 541 811.2 541.8 810.9 542.4C810.6 543 810.2 543.7 809.6 544.1C809 544.5 808.2 544.9 807.5 545C806.7 545.1 805.8 545 805.1 544.8C804.4 544.5 803.6 544 803.1 543.3C802.6 542.7 802.2 541.8 802.2 541C802.1 540.2 802.2 539.2 802.6 538.4C803 537.5 803.6 536.7 804.4 536.1C805.2 535.6 806.2 535.1 807.2 535C808.2 534.9 809.3 535 810.3 535.4C811.2 535.7 812.3 536.9 812.7 537.2"/>
<path d="M826.5 542.9C826.7 542.8 827.5 542.1 828.1 542C828.7 541.8 829.5 541.8 830.2 542C830.9 542.1 831.7 542.5 832.2 543C832.8 543.5 833.3 544.2 833.5 545C833.8 545.7 833.8 546.6 833.6 547.4C833.4 548.1 833 549 832.4 549.6C831.8 550.1 830.9 550.6 830 550.8C829.1 551 827.9 551 827 550.8C826 550.5 825 549.9 824.2 549.2C823.5 548.5 822.8 547.5 822.5 546.5C822.2 545.5 822.2 544.3 822.5 543.3C822.8 542.3 823.4 541.2 824.2 540.4C825.1 539.7 826.3 539.1 827.4 538.8C828.6 538.6 830.1 538.6 831.3 539C832.5 539.3 834.2 540.7 834.8 541"/>
<path d="M1052 537.5C1052.3 536.9 1052.9 534.9 1053.8 533.9C1054.7 533 1056.2 531.8 1057.4 531.8C1058.6 531.7 1060.2 532.7 1060.9 533.7C1061.6 534.7 1061.7 536.3 1061.6 537.6C1061.5 538.9 1060.9 540.4 1060 541.4C1059.2 542.3 1057.5 543.2 1056.3 543.1C1055.1 543.1 1053.5 542.5 1053 541.2C1052.5 539.9 1053.2 536.7 1053.3 535.5C1053.5 534.4 1053.8 534.4 1053.9 534.2"/>
<path d="M1046.9 538.7C1046.8 539 1046.5 539.9 1046.1 540.4C1045.6 540.9 1044.9 541.3 1044.3 541.5C1043.6 541.7 1042.7 541.8 1042 541.6C1041.3 541.4 1040.5 541 1039.9 540.5C1039.3 539.9 1038.8 539.1 1038.6 538.3C1038.4 537.5 1038.3 536.4 1038.6 535.6C1038.8 534.7 1039.3 533.8 1040 533.1C1040.6 532.4 1041.6 531.9 1042.5 531.6C1043.5 531.4 1044.7 531.3 1045.7 531.6C1046.7 531.9 1047.7 532.5 1048.5 533.3C1049.3 534.1 1049.9 535.2 1050.2 536.3C1050.5 537.4 1050.5 538.7 1050.1 539.9C1049.8 541 1049.1 542.2 1048.2 543C1047.4 543.9 1046.1 544.6 1044.9 544.9C1043.6 545.2 1041.5 544.8 1040.9 544.8"/>
<path d="M997.9 538.4C997.7 539.3 997.4 542.6 996.4 544.2C995.4 545.8 993.5 547.4 991.7 547.9C989.9 548.5 987.1 548.4 985.5 547.5C983.9 546.5 982.6 544.3 982.1 542.4C981.5 540.6 981.1 537.9 982 536.2C982.9 534.5 985.4 532.7 987.4 532.3C989.4 531.8 992 532.6 993.9 533.5C995.8 534.4 998.2 535.4 998.8 537.4C999.4 539.5 997.7 544.3 997.5 545.7"/>
<path d="M833.3 565.1C833 565.1 832.1 565.2 831.6 564.9C831 564.7 830.4 564.3 830 563.9C829.7 563.4 829.3 562.7 829.3 562C829.2 561.4 829.2 560.6 829.5 559.9C829.8 559.3 830.3 558.6 830.9 558.1C831.4 557.7 832.3 557.3 833 557.2C833.8 557.1 834.8 557.2 835.5 557.6C836.3 557.9 837.1 558.5 837.6 559.2C838.1 559.9 838.5 560.9 838.6 561.8C838.7 562.7 838.6 563.7 838.2 564.6C837.8 565.5 837.1 566.4 836.3 567C835.5 567.6 834.4 568 833.4 568.1C832.3 568.2 831.1 568 830.1 567.6C829.2 567.1 828.1 566.3 827.5 565.4C826.9 564.5 826.5 562.7 826.3 562.1"/>
<path d="M976.2 531.3C976.3 530.6 976.2 528.4 976.7 527.3C977.2 526.2 978.2 525.1 979.3 524.8C980.5 524.4 982.4 524.6 983.5 525.2C984.7 525.8 985.7 527.3 986.3 528.5C986.8 529.7 987.3 531.4 986.9 532.4C986.4 533.4 985 534.2 983.8 534.5C982.6 534.8 981.2 534.4 979.8 534.2C978.4 534 976.1 534.5 975.5 533.3C975 532 976.3 527.6 976.5 526.5"/>
<path d="M918.9 551C918.8 550.8 918.4 550.3 918.3 549.8C918.2 549.4 918.2 548.8 918.4 548.3C918.5 547.9 918.9 547.3 919.3 547C919.7 546.7 920.3 546.4 920.8 546.3C921.4 546.2 922 546.2 922.6 546.4C923.2 546.6 923.8 547 924.2 547.5C924.6 548 924.9 548.7 925 549.3C925.1 550 925 550.8 924.8 551.4C924.5 552.1 924 552.7 923.5 553.2C922.9 553.7 922.1 554 921.3 554.1C920.6 554.2 919.7 554.2 918.9 553.9C918.2 553.6 917.4 553 916.9 552.4C916.4 551.7 916 550.8 915.9 550C915.8 549.1 915.9 548.1 916.2 547.3C916.6 546.5 917.7 545.4 917.9 545"/>
<path d="M1291.9 581.1C1291.7 581 1291.2 580.9 1290.9 580.7C1290.6 580.5 1290.4 580.1 1290.2 579.7C1290.1 579.3 1290.1 578.8 1290.2 578.4C1290.3 577.9 1290.5 577.4 1290.8 577C1291.1 576.6 1291.6 576.2 1292 576C1292.5 575.8 1293.1 575.7 1293.5 575.7C1294 575.8 1294.6 576 1295 576.4C1295.4 576.7 1295.7 577.2 1295.9 577.8C1296 578.3 1296 579 1295.9 579.7C1295.8 580.3 1295.4 581 1295 581.5C1294.6 582.1 1293.9 582.6 1293.3 582.8C1292.7 583.1 1291.9 583.2 1291.3 583.1C1290.6 583 1289.9 582.7 1289.5 582.3C1289 581.8 1288.5 581.1 1288.3 580.4C1288.2 579.7 1288.3 578.4 1288.3 577.9"/>
<path d="M937.3 532.8C937.1 532.7 936.1 532.5 935.7 532.1C935.2 531.7 934.8 531.1 934.6 530.4C934.4 529.7 934.3 528.8 934.4 527.9C934.6 527.1 934.9 526.2 935.4 525.4C935.9 524.7 936.6 524 937.4 523.6C938.1 523.3 939.1 523 939.9 523.1C940.7 523.3 941.6 523.6 942.2 524.3C942.9 524.9 943.5 525.8 943.7 526.8C944 527.8 944.1 529.1 943.8 530.2C943.6 531.4 943.1 532.6 942.4 533.6C941.7 534.5 940.7 535.5 939.7 535.9C938.7 536.4 937.4 536.7 936.4 536.5C935.3 536.3 934.1 535.8 933.3 535C932.5 534.1 931.8 532.9 931.5 531.6C931.2 530.3 931.4 527.9 931.4 527.2"/>
<path d="M1182.6 551.2C1181.5 551.4 1177.9 553.1 1176 552.6C1174.2 552.1 1172.4 549.9 1171.3 548.2C1170.3 546.4 1169.4 543.9 1169.7 542C1170.1 540.1 1171.7 537.6 1173.4 536.5C1175.1 535.3 1178 534.6 1179.9 535.2C1181.7 535.7 1183.6 537.8 1184.5 539.5C1185.5 541.3 1186.2 543.4 1185.6 545.5C1185 547.6 1182.5 550.6 1180.8 552C1179.1 553.3 1176.4 553.1 1175.5 553.4"/>
<path d="M1169.4 538.1C1169.3 539 1169.7 542.3 1169 543.9C1168.3 545.6 1166.7 547.4 1165.2 548.1C1163.7 548.8 1161.5 548.6 1159.9 548C1158.3 547.4 1156.4 546 1155.7 544.4C1155.1 542.9 1155.4 540.4 1156 538.6C1156.7 536.9 1158.1 534.6 1159.6 534C1161.1 533.3 1163.2 534.2 1165 534.7C1166.8 535.1 1169.5 534.9 1170.4 536.7C1171.3 538.5 1170.5 543.8 1170.5 545.2"/>
<path d="M766.2 548.3C766 549.1 765.9 552 764.9 553.2C763.9 554.4 761.8 555.3 760.2 555.5C758.5 555.6 756.2 555 754.9 554C753.6 553 752.5 550.8 752.4 549.3C752.3 547.7 753.2 545.7 754.3 544.5C755.4 543.3 757.3 542.3 758.9 542.2C760.5 542.1 762.9 542.8 763.8 543.9C764.8 545 764 547.3 764.5 548.9C765 550.5 766.4 552.8 766.8 553.5"/>
<path d="M1014.4 551.7C1014.1 551.6 1013.1 551.6 1012.5 551.3C1011.9 551 1011.2 550.5 1010.9 549.9C1010.5 549.4 1010.2 548.6 1010.2 547.9C1010.1 547.3 1010.3 546.4 1010.7 545.8C1011.1 545.2 1011.8 544.6 1012.5 544.2C1013.2 543.8 1014.2 543.5 1015.1 543.6C1016 543.6 1017.1 543.8 1017.9 544.3C1018.8 544.7 1019.6 545.4 1020.1 546.2C1020.6 547 1021 548.1 1021 549C1021 549.9 1020.7 551 1020.1 551.9C1019.6 552.7 1018.7 553.5 1017.7 554C1016.7 554.5 1015.4 554.8 1014.2 554.8C1013 554.7 1011.6 554.4 1010.5 553.8C1009.4 553.2 1008.4 552.2 1007.7 551.2C1007.1 550.1 1006.9 548.2 1006.7 547.6"/>
<path d="M1188.9 539C1189.8 538.5 1192.4 536.1 1194.4 535.9C1196.4 535.6 1199.2 536.1 1200.9 537.4C1202.6 538.6 1204.4 541.2 1204.7 543.3C1204.9 545.3 1203.5 547.9 1202.1 549.7C1200.8 551.4 1198.6 553.3 1196.5 553.6C1194.5 553.9 1191.3 552.9 1189.7 551.4C1188.2 550 1187.8 546.8 1187.4 545.1C1186.9 543.3 1185.8 542.3 1187 541C1188.2 539.6 1193.2 537.7 1194.4 537"/>
<path d="M1126 548.8C1126.6 549.3 1128.8 550.5 1129.4 551.7C1130 552.9 1130.1 554.6 1129.7 555.8C1129.2 557 1127.9 558.4 1126.6 558.9C1125.3 559.5 1123.3 559.6 1121.9 559.2C1120.4 558.8 1118.5 557.6 1117.9 556.4C1117.3 555.2 1117.7 553.2 1118.3 551.9C1118.9 550.7 1120 549.1 1121.4 548.9C1122.9 548.7 1125.8 550.2 1127 550.5C1128.1 550.9 1128.1 550.8 1128.3 550.9"/>
<path d="M973.6 530.3C973.7 530.9 974.5 533 974.3 534.2C974 535.3 973 536.6 972 537.1C970.9 537.6 969.2 537.7 968 537.3C966.8 536.9 965.3 535.7 964.6 534.6C963.9 533.5 963.6 531.6 963.9 530.5C964.3 529.4 965.7 528.6 966.8 528.1C967.9 527.6 969.7 527.4 970.5 527.5C971.3 527.6 971.2 527.9 971.7 528.8C972.2 529.6 973 532 973.3 532.7"/>
<path d="M966.1 541.9C966.2 541.7 966.5 540.9 966.8 540.4C967.2 540 967.8 539.6 968.4 539.4C969 539.2 969.7 539.2 970.4 539.3C971.1 539.4 971.8 539.7 972.4 540.1C972.9 540.6 973.4 541.2 973.7 541.9C973.9 542.6 974 543.4 973.9 544.2C973.7 544.9 973.3 545.7 972.7 546.3C972.2 546.9 971.3 547.4 970.5 547.6C969.6 547.9 968.6 548 967.7 547.8C966.7 547.6 965.7 547.1 965 546.5C964.3 545.9 963.6 545 963.3 544.1C963 543.2 962.9 542.1 963.2 541.1C963.4 540.2 964 539.1 964.7 538.4C965.5 537.6 966.6 537 967.7 536.7C968.8 536.4 970.7 536.6 971.3 536.6"/>
<path d="M1102.3 564.7C1103.1 564 1105.1 561.2 1106.8 560.2C1108.6 559.2 1110.9 558.5 1112.8 558.9C1114.6 559.3 1117.1 560.9 1117.8 562.6C1118.6 564.4 1117.9 567.2 1117.2 569.2C1116.5 571.2 1115.3 573.6 1113.7 574.7C1112 575.7 1109.2 576 1107.3 575.4C1105.4 574.9 1102.9 573.1 1102.3 571.4C1101.8 569.7 1103.4 567.2 1104.2 565.3C1105 563.4 1106.7 561 1107.2 560.1"/>
<path d="M1023.6 527.2C1024.2 527.7 1026.7 529.1 1027.4 530.4C1028 531.8 1028.1 533.7 1027.6 535.2C1027.2 536.7 1026 538.7 1024.7 539.4C1023.3 540.1 1021 540 1019.6 539.6C1018.1 539.1 1016.5 537.9 1015.8 536.6C1015 535.3 1014.8 533.3 1015.2 531.8C1015.6 530.3 1016.5 528.5 1018.2 527.6C1020 526.6 1024.1 525.3 1025.5 526.1C1026.8 526.9 1026.2 531.3 1026.3 532.3"/>
<path d="M806 573.3C805.9 573 805.3 572.3 805.1 571.7C805 571.2 805 570.5 805.2 569.9C805.3 569.3 805.7 568.7 806.2 568.3C806.7 567.9 807.4 567.6 808.1 567.5C808.8 567.3 809.6 567.4 810.3 567.7C811.1 568 811.8 568.5 812.4 569.1C812.9 569.7 813.4 570.5 813.6 571.3C813.7 572.1 813.7 573.1 813.5 573.9C813.2 574.7 812.6 575.5 811.9 576.1C811.3 576.6 810.3 577 809.3 577.2C808.4 577.3 807.2 577.1 806.3 576.8C805.3 576.4 804.3 575.7 803.6 574.9C802.9 574.1 802.3 572.9 802.1 571.9C801.9 570.8 802 569.6 802.4 568.6C802.7 567.6 804 566.3 804.3 565.8"/>
<path d="M1032.4 547.6C1032.2 547.5 1031.5 547.1 1031.1 546.7C1030.8 546.3 1030.5 545.7 1030.4 545.2C1030.3 544.6 1030.4 543.9 1030.6 543.4C1030.8 542.8 1031.2 542.2 1031.7 541.8C1032.3 541.4 1033 541 1033.6 540.9C1034.3 540.9 1035.2 540.9 1035.8 541.2C1036.5 541.5 1037.2 542 1037.7 542.6C1038.1 543.2 1038.5 544 1038.6 544.8C1038.7 545.6 1038.6 546.6 1038.3 547.4C1037.9 548.1 1037.3 549 1036.6 549.5C1035.9 550 1034.9 550.4 1034 550.5C1033.1 550.6 1032 550.5 1031.2 550.1C1030.3 549.7 1029.4 549 1028.8 548.2C1028.2 547.4 1027.8 546.3 1027.7 545.3C1027.5 544.3 1028.1 542.6 1028.1 542.1"/>
<path d="M741.6 545.9C741.8 546 742.6 546.3 743 546.7C743.3 547.1 743.7 547.7 743.8 548.2C743.9 548.8 743.9 549.5 743.7 550.1C743.5 550.6 743.1 551.3 742.6 551.7C742.2 552.1 741.5 552.5 740.8 552.6C740.1 552.8 739.3 552.8 738.6 552.5C737.9 552.3 737.1 551.8 736.6 551.3C736.1 550.7 735.7 549.9 735.6 549.1C735.4 548.3 735.5 547.4 735.8 546.6C736 545.8 736.6 544.9 737.3 544.4C737.9 543.8 738.9 543.3 739.8 543.2C740.7 543 741.8 543.1 742.7 543.4C743.6 543.7 744.6 544.3 745.2 545.1C745.9 545.9 746.4 546.9 746.6 547.9C746.7 548.9 746.3 550.6 746.3 551.2"/>
<path d="M854.1 553.2C853.6 552.7 851.3 551.1 850.8 549.8C850.2 548.6 850.2 546.9 850.6 545.8C851.1 544.7 852.2 543.9 853.3 543.5C854.5 543.1 856.2 542.9 857.5 543.5C858.7 544 860.3 545.5 860.9 546.7C861.6 548 861.7 549.8 861.3 550.9C860.9 552.1 859.7 553.5 858.5 553.6C857.4 553.7 855.6 551.7 854.5 551.4C853.4 551 852.4 551.3 851.9 551.3"/>
<path d="M1087.5 551.7C1087.7 551.5 1088 550.8 1088.4 550.5C1088.8 550.2 1089.3 550 1089.8 549.9C1090.3 549.8 1091 549.9 1091.5 550.1C1092 550.3 1092.5 550.7 1092.9 551.2C1093.2 551.7 1093.5 552.3 1093.5 552.9C1093.6 553.5 1093.5 554.3 1093.2 554.9C1092.9 555.5 1092.4 556.1 1091.9 556.5C1091.3 556.9 1090.5 557.2 1089.8 557.3C1089.1 557.4 1088.2 557.3 1087.6 556.9C1086.9 556.6 1086.2 556.1 1085.7 555.4C1085.3 554.8 1084.9 553.9 1084.9 553C1084.8 552.2 1085 551.2 1085.4 550.5C1085.8 549.7 1086.4 548.9 1087.2 548.4C1087.9 547.8 1088.9 547.5 1089.8 547.4C1090.8 547.3 1092.2 547.8 1092.7 547.9"/>
<path d="M758 580.9C757.7 580.1 756 577.6 756.2 576.1C756.4 574.5 757.9 572.6 759.1 571.6C760.3 570.6 762.1 570.1 763.6 570.2C765.1 570.2 767 570.9 768 572C769.1 573.2 769.9 575.5 769.7 577.2C769.5 578.9 768.3 581.1 767 582.3C765.7 583.4 763.3 584.5 762 583.9C760.6 583.4 760 580.2 758.8 578.9C757.7 577.7 755.5 576.8 754.9 576.4"/>
<path d="M757 573.6C756.7 574.2 756.1 576.5 755.2 577.3C754.4 578.2 752.9 578.7 751.9 578.5C750.8 578.3 749.7 577.3 749 576.3C748.3 575.2 747.7 573.7 747.8 572.5C747.9 571.2 748.6 569.7 749.4 568.9C750.2 568.1 751.6 567.7 752.7 567.8C753.7 567.9 755 568.8 755.7 569.7C756.4 570.5 756.7 571.8 756.8 573.1C756.9 574.5 756.4 577.1 756.3 577.9"/>
<path d="M802.9 569C802 569.5 799.3 572.1 797.6 572.3C795.8 572.5 793.7 571.3 792.4 570.2C791.1 569 789.9 567.1 789.8 565.4C789.7 563.7 790.7 561.3 791.9 559.9C793.1 558.5 795.2 557.2 796.9 556.9C798.6 556.6 800.9 557 802.2 558C803.5 559.1 804.3 561.3 804.7 563.1C805.1 564.8 805.7 566.9 804.5 568.4C803.3 569.9 798.7 571.5 797.6 572.1"/>
<path d="M777.5 572.4C777.2 572.2 776.4 571.7 776.1 571.1C775.8 570.6 775.5 569.9 775.5 569.2C775.5 568.5 775.7 567.7 776 567.1C776.4 566.5 776.9 565.8 777.6 565.4C778.2 565.1 779.1 564.8 779.9 564.8C780.7 564.9 781.6 565.1 782.3 565.6C783 566 783.7 566.7 784.2 567.5C784.6 568.3 784.9 569.4 784.9 570.3C784.9 571.3 784.6 572.4 784.1 573.2C783.6 574.1 782.8 574.9 781.9 575.4C781 575.8 779.9 576.1 778.8 576.1C777.8 576 776.5 575.7 775.6 575.1C774.7 574.4 773.8 573.5 773.2 572.4C772.7 571.4 772.3 570 772.4 568.8C772.4 567.6 773.3 565.7 773.4 565.1"/>
<path d="M812.5 554.9C813.4 554.6 816.1 552.9 818 552.7C819.9 552.5 822.2 552.7 823.7 553.7C825.2 554.8 826.7 557.3 827.1 559.1C827.4 561 826.8 563.3 825.8 564.8C824.9 566.2 823.2 567.5 821.4 567.9C819.7 568.3 816.9 568.3 815.3 567.3C813.6 566.2 812.1 563.2 811.5 561.4C811 559.7 810.6 558.7 811.9 556.9C813.1 555.2 817.8 551.9 818.9 550.9"/>
<path d="M1078 548.1C1077.3 548.1 1075.1 548.6 1073.9 548C1072.7 547.5 1071.5 546.1 1070.9 544.8C1070.4 543.6 1070.2 541.8 1070.6 540.5C1070.9 539.3 1071.9 537.8 1073 537.3C1074 536.8 1075.7 537.1 1077 537.6C1078.3 538.2 1080.1 539.2 1080.7 540.4C1081.3 541.6 1081.1 544 1080.5 545C1080 546 1078.3 546.1 1077.4 546.4C1076.5 546.7 1075.5 546.7 1075.2 546.8"/>
<path d="M772.3 561.7C771.8 560.7 769.5 557.5 769.5 555.4C769.4 553.4 770.8 551 772.1 549.3C773.5 547.7 775.7 545.8 777.6 545.6C779.5 545.5 781.9 547.1 783.4 548.5C784.8 549.9 786.3 552.1 786.5 554C786.6 555.9 785.5 558.5 784.2 560.1C782.9 561.7 780.8 563.1 778.7 563.4C776.5 563.7 773 563.5 771.3 561.9C769.6 560.2 769 554.9 768.5 553.5"/>
<path d="M921.2 535.5C921.3 535.6 921.9 535.9 922.1 536.2C922.4 536.5 922.6 537 922.6 537.4C922.7 537.8 922.6 538.4 922.5 538.8C922.3 539.2 922 539.7 921.6 540C921.2 540.3 920.7 540.5 920.2 540.6C919.7 540.7 919.1 540.6 918.7 540.4C918.2 540.1 917.7 539.7 917.4 539.3C917 538.8 916.8 538.1 916.7 537.5C916.7 536.9 916.8 536.2 917 535.6C917.3 535 917.7 534.4 918.2 534C918.7 533.6 919.4 533.3 920.1 533.3C920.7 533.2 921.5 533.3 922.2 533.6C922.8 533.9 923.4 534.5 923.8 535.1C924.2 535.7 924.5 536.6 924.6 537.4C924.7 538.2 924.3 539.4 924.2 539.8"/>
<path d="M944.5 543.2C944.9 544.2 947.6 547.3 947.4 549.3C947.3 551.2 945.2 553.5 943.5 554.7C941.8 556 939.2 556.8 937.2 556.5C935.3 556.3 933 554.8 931.6 553.3C930.3 551.7 929.3 549.4 929.3 547.3C929.3 545.3 930.3 542.2 931.9 541C933.5 539.7 936.8 539.3 938.8 539.8C940.8 540.4 942.5 542.4 943.8 544.2C945 545.9 945.9 549.3 946.3 550.3"/>
<path d="M787.9 578.6C788.1 577.5 787.9 574.1 788.9 572.5C789.9 570.8 792.1 569.1 794 568.7C795.8 568.2 798.5 568.7 799.9 569.8C801.4 570.8 802.2 573.2 802.5 575C802.7 576.8 802.4 579.1 801.5 580.7C800.5 582.2 798.4 583.8 796.7 584.2C795 584.6 792.9 584.3 791.2 583.2C789.4 582.2 786.3 579.9 786.2 578C786.1 576.2 789.9 573 790.6 572"/>
<path d="M914.9 550.4C915.1 551.1 916 553.4 915.8 554.8C915.6 556.1 914.8 557.7 913.8 558.5C912.7 559.4 910.9 559.8 909.6 559.7C908.3 559.5 906.9 558.6 906 557.5C905.1 556.5 904.2 554.8 904.3 553.5C904.4 552.1 905.6 550.5 906.7 549.6C907.8 548.8 909.8 548.3 910.9 548.6C912 548.8 912.8 550 913.3 551C913.8 552 913.9 554 914 554.6"/>
<path d="M946.7 552.4C946.9 552.3 947.5 552 948 552C948.4 552 948.9 552.1 949.4 552.3C949.8 552.5 950.2 552.9 950.5 553.3C950.7 553.7 950.9 554.2 950.9 554.7C950.9 555.2 950.7 555.8 950.5 556.3C950.2 556.7 949.7 557.2 949.2 557.5C948.7 557.7 948 557.9 947.3 557.9C946.7 557.9 946 557.7 945.4 557.4C944.8 557.1 944.3 556.6 943.9 556C943.6 555.5 943.4 554.7 943.4 554.1C943.4 553.4 943.6 552.6 944 552C944.4 551.4 945.1 550.8 945.8 550.5C946.5 550.1 947.4 549.9 948.2 549.9C949 549.9 950 550.2 950.7 550.6C951.4 551 952.2 552.1 952.5 552.4"/>
<path d="M1210.6 544C1210.7 544.2 1211.1 544.7 1211.2 545.2C1211.3 545.7 1211.3 546.3 1211.2 546.8C1211 547.3 1210.7 547.8 1210.3 548.2C1209.9 548.7 1209.3 549 1208.8 549.2C1208.2 549.3 1207.5 549.4 1207 549.2C1206.4 549.1 1205.8 548.7 1205.4 548.3C1204.9 547.8 1204.6 547.1 1204.5 546.5C1204.3 545.8 1204.4 545 1204.6 544.2C1204.9 543.5 1205.3 542.8 1205.9 542.2C1206.4 541.7 1207.2 541.2 1208 541C1208.8 540.8 1209.7 540.8 1210.4 541C1211.2 541.3 1212 541.7 1212.5 542.4C1213.1 543 1213.5 543.9 1213.7 544.8C1213.8 545.6 1213.7 546.7 1213.4 547.6C1213.1 548.5 1212 549.7 1211.7 550.2"/>
<path d="M846.6 546.6C845.6 546.4 842.2 546.5 840.7 545.5C839.2 544.4 837.9 542.2 837.7 540.1C837.4 538 837.8 534.8 839.1 533C840.4 531.2 843.4 529.5 845.5 529.2C847.5 528.9 850 530 851.5 531.3C853 532.6 854.3 534.7 854.5 536.7C854.7 538.8 854.1 542.2 852.6 543.5C851 544.9 847.4 544.6 845.2 544.8C843 545 840.4 544.7 839.5 544.7"/>
<path d="M1090.1 534.9C1090.7 535.5 1093.4 536.7 1094.1 538.2C1094.8 539.6 1094.7 541.9 1094.4 543.5C1094 545.1 1093 546.9 1091.8 547.9C1090.6 548.9 1088.5 549.6 1087.1 549.3C1085.7 548.9 1084.2 547.1 1083.5 545.7C1082.8 544.3 1082.5 542.2 1082.8 540.6C1083.1 539 1084.3 537.2 1085.3 536.1C1086.3 535 1087.5 533.8 1088.7 534C1090 534.1 1092.1 536.5 1092.7 537"/>
<path d="M977.2 551.6C977.9 552.1 980.4 553.4 981 554.7C981.7 556.1 981.7 558.1 981.3 559.5C980.9 561 979.8 562.7 978.5 563.4C977.3 564.2 975.4 564.3 973.9 564C972.4 563.7 970.3 562.8 969.7 561.6C969 560.4 969.4 558.2 969.9 556.7C970.3 555.2 971.2 553.5 972.4 552.8C973.6 552 975.8 551.6 977 552C978.1 552.5 979 554.9 979.4 555.4"/>
<path d="M1241.8 557C1241.9 557.6 1242.6 559.5 1242.4 560.7C1242.1 561.8 1241.3 563.3 1240.3 563.8C1239.3 564.4 1237.5 564.4 1236.3 564.1C1235.1 563.8 1233.8 562.9 1233.1 561.8C1232.5 560.8 1232.2 559.3 1232.4 558.1C1232.6 556.9 1233.5 555.3 1234.5 554.7C1235.6 554.1 1237.5 553.8 1238.7 554.4C1239.9 555.1 1240.6 557 1241.5 558.3C1242.4 559.7 1243.6 561.7 1244.1 562.3"/>
<path d="M1082.6 561.1C1082.7 560.9 1083.1 560.3 1083.5 560C1083.9 559.8 1084.5 559.6 1085.1 559.6C1085.7 559.6 1086.5 559.7 1087.1 560C1087.7 560.3 1088.3 560.8 1088.7 561.3C1089.2 561.8 1089.5 562.5 1089.6 563.2C1089.8 563.8 1089.7 564.6 1089.4 565.2C1089.1 565.8 1088.6 566.4 1088 566.7C1087.3 567 1086.5 567.3 1085.6 567.3C1084.8 567.2 1083.8 567 1083 566.6C1082.1 566.2 1081.3 565.5 1080.7 564.7C1080.1 564 1079.7 563.1 1079.6 562.2C1079.5 561.3 1079.6 560.3 1080 559.6C1080.4 558.8 1081.1 558.1 1081.9 557.6C1082.7 557.2 1083.9 556.9 1085 557C1086 557 1087.8 557.7 1088.4 557.9"/>
<path d="M1262.8 569.5C1262.7 569.2 1262.4 568.3 1262.4 567.8C1262.4 567.2 1262.6 566.6 1262.9 566.1C1263.2 565.6 1263.6 565.1 1264.2 564.9C1264.7 564.6 1265.4 564.5 1266.1 564.6C1266.7 564.7 1267.5 565 1268 565.4C1268.6 565.9 1269.1 566.5 1269.5 567.3C1269.8 568 1270 568.9 1269.9 569.7C1269.9 570.5 1269.6 571.4 1269.2 572.1C1268.7 572.7 1268 573.4 1267.3 573.7C1266.5 574 1265.5 574.1 1264.7 574C1263.8 573.8 1262.8 573.4 1262.1 572.8C1261.3 572.2 1260.6 571.2 1260.2 570.3C1259.8 569.3 1259.6 568.1 1259.7 567.1C1259.8 566 1260.1 564.9 1260.7 564C1261.3 563.2 1262.8 562.4 1263.2 562"/>
<path d="M1064.6 554.7C1064.5 555.5 1064.3 558.1 1063.5 559.2C1062.7 560.4 1061.3 561.4 1059.9 561.7C1058.5 562 1056.6 561.9 1055.3 561.2C1054 560.5 1052.5 558.8 1052.1 557.4C1051.7 556 1052.1 554 1052.9 552.8C1053.6 551.5 1055.2 550.3 1056.6 549.9C1058.1 549.6 1060.5 549.9 1061.5 550.8C1062.5 551.7 1062.6 553.7 1062.7 555.3C1062.9 556.8 1062.6 559.2 1062.5 559.9"/>
<path d="M845.7 549.6C846.1 550.2 848.1 551.9 848.4 553.2C848.8 554.5 848.4 556.1 847.8 557.3C847.2 558.6 846 560.2 844.7 560.6C843.4 561 841.2 560.7 840 560C838.7 559.3 837.6 557.7 837.2 556.4C836.8 555.1 836.9 553.2 837.6 552.1C838.2 550.9 840 550.3 841.2 549.6C842.3 548.9 843.3 547.1 844.6 547.9C845.9 548.7 848.3 553.4 849.1 554.5"/>
<path d="M1268.8 560.8C1268.2 560.4 1265.7 559.2 1264.8 558C1263.9 556.7 1263.5 555 1263.6 553.4C1263.7 551.9 1264.4 549.7 1265.6 548.7C1266.8 547.7 1269.3 547.3 1270.9 547.6C1272.6 547.9 1274.7 549.2 1275.6 550.5C1276.5 551.8 1276.6 554.1 1276.3 555.6C1276 557.2 1274.7 559.2 1273.7 559.8C1272.8 560.4 1272.1 559.4 1270.6 559.1C1269 558.7 1265.5 557.7 1264.5 557.4"/>
<path d="M949.5 550.3C949.2 549.6 947.6 547.6 947.6 546.3C947.6 545.1 948.3 543.5 949.2 542.7C950.1 541.9 951.7 541.3 953 541.3C954.3 541.3 956.1 541.7 957 542.6C958 543.4 958.7 545 958.8 546.2C958.9 547.4 958.6 549.1 957.7 550C956.9 550.8 955.1 551 953.8 551.3C952.5 551.5 951.2 552.3 950 551.3C948.8 550.3 947.3 546.2 946.7 545.2"/>
<path d="M799.4 559.3C799.1 558.6 798 556.7 797.9 555.4C797.8 554.1 798 552.4 798.9 551.4C799.7 550.5 801.6 549.7 803 549.7C804.3 549.8 805.9 550.8 807 551.8C808 552.8 809.2 554.3 809.2 555.5C809.3 556.8 808.2 558.3 807.2 559.2C806.2 560 804.5 560.9 803.5 560.7C802.4 560.5 801.9 558.7 801.1 558.2C800.3 557.6 798.9 557.3 798.5 557.2"/>
<path d="M887 554.5C887 554.3 886.9 553.6 887.1 553.1C887.3 552.6 887.6 552.1 888 551.8C888.3 551.4 888.9 551.1 889.4 550.9C889.9 550.8 890.6 550.8 891.1 550.9C891.6 551.1 892.2 551.4 892.5 551.8C892.9 552.3 893.2 552.9 893.3 553.5C893.4 554.1 893.3 554.9 893 555.5C892.8 556.2 892.3 556.9 891.7 557.4C891.2 557.9 890.4 558.3 889.7 558.5C889 558.7 888.1 558.7 887.4 558.4C886.7 558.2 886 557.7 885.5 557.1C885 556.6 884.7 555.7 884.6 554.9C884.5 554.1 884.6 553.1 885 552.2C885.3 551.4 886 550.5 886.7 549.9C887.4 549.2 888.9 548.7 889.3 548.5"/>
<path d="M798.3 550.6C797.8 551.3 796.9 554 795.7 554.8C794.5 555.7 792.4 556.2 791.1 555.7C789.8 555.3 788.2 553.6 787.6 552.2C787.1 550.7 787.2 548.5 787.7 547C788.1 545.5 789.1 543.8 790.2 543.1C791.4 542.3 793.2 541.9 794.5 542.3C795.8 542.7 797.1 543.8 798.1 545.4C799 547 800.4 550.4 800.2 552C800 553.7 797.3 554.7 796.8 555.3"/>
<path d="M1062.2 552.2C1062.8 551.3 1064.1 547.7 1065.8 546.7C1067.4 545.6 1070.3 545.5 1072.3 545.9C1074.3 546.3 1076.8 547.5 1077.9 549.1C1079 550.7 1079.1 553.3 1078.8 555.3C1078.5 557.2 1077.5 559.8 1076 560.9C1074.4 562 1071.4 562.4 1069.4 561.9C1067.4 561.5 1065.2 559.7 1064.1 558.3C1063.1 556.9 1063 555.7 1063.1 553.4C1063.2 551.1 1064.4 546.2 1064.6 544.7"/>
<path d="M1128.4 569.5C1128.3 569.7 1128.1 570.2 1127.8 570.5C1127.5 570.8 1127.1 571.1 1126.7 571.3C1126.3 571.4 1125.7 571.5 1125.3 571.4C1124.8 571.4 1124.3 571.1 1124 570.8C1123.6 570.5 1123.3 570.1 1123.1 569.6C1123 569.2 1123 568.6 1123.1 568C1123.2 567.5 1123.6 567 1124 566.5C1124.4 566.1 1125 565.7 1125.6 565.5C1126.2 565.3 1126.9 565.3 1127.6 565.4C1128.2 565.5 1128.9 565.8 1129.3 566.2C1129.8 566.7 1130.2 567.3 1130.4 567.9C1130.6 568.5 1130.6 569.3 1130.4 570C1130.2 570.7 1129.7 571.4 1129.2 572C1128.6 572.5 1127.8 573 1127.1 573.2C1126.3 573.5 1125 573.3 1124.6 573.4"/>
<path d="M1140.6 540.3C1140.6 540.5 1141 541.2 1141 541.7C1141 542.1 1140.8 542.7 1140.6 543C1140.3 543.4 1139.9 543.8 1139.4 543.9C1138.9 544.1 1138.3 544.1 1137.7 544C1137.1 543.9 1136.4 543.6 1135.9 543.2C1135.4 542.7 1134.9 542.1 1134.6 541.5C1134.3 540.9 1134.1 540.1 1134.1 539.5C1134.2 538.8 1134.4 538.1 1134.8 537.6C1135.2 537.1 1135.8 536.6 1136.4 536.4C1137.1 536.2 1138 536.2 1138.8 536.4C1139.6 536.6 1140.5 537 1141.1 537.6C1141.8 538.2 1142.5 539 1142.9 539.8C1143.2 540.6 1143.5 541.6 1143.4 542.5C1143.3 543.3 1143 544.2 1142.5 544.9C1142 545.5 1140.7 546.1 1140.3 546.3"/>
<path d="M1002.8 554.2C1003.4 554 1005.2 552.5 1006.5 552.8C1007.7 553 1009.3 554.5 1010.1 555.7C1011 556.9 1011.7 558.5 1011.7 559.9C1011.8 561.2 1011.3 563.1 1010.4 563.8C1009.5 564.6 1007.6 564.7 1006.4 564.3C1005.1 564 1003.6 562.9 1002.7 561.8C1001.8 560.6 1000.7 558.7 1001 557.6C1001.4 556.6 1004 556.6 1004.8 555.5C1005.5 554.4 1005.5 551.8 1005.7 551.1"/>
<path d="M808.9 551C809 550.1 809.2 547.3 809.9 545.7C810.6 544.1 811.8 542.1 813.2 541.4C814.6 540.7 817.2 540.8 818.6 541.5C820 542.2 821.3 544.2 821.8 545.7C822.2 547.3 822 549.4 821.3 550.9C820.7 552.4 819.3 554 817.9 554.7C816.4 555.3 814.2 555.5 812.8 554.6C811.4 553.7 810.2 550.7 809.5 549.3C808.8 548 808.7 547 808.6 546.6"/>
<path d="M1013 563.1C1013 562.5 1012.5 560.1 1013.1 559.1C1013.7 558 1015.2 557.4 1016.5 557C1017.8 556.7 1019.6 556.4 1020.8 556.9C1022 557.5 1023.4 559.3 1023.7 560.5C1024 561.8 1023.3 563.4 1022.7 564.4C1022 565.5 1021 566.7 1019.8 567.1C1018.6 567.4 1017 567 1015.5 566.6C1014.1 566.3 1011.2 566.3 1011.1 564.7C1011 563.2 1014.3 558.6 1014.9 557.3"/>
<path d="M1187.9 558.4C1188.2 558.5 1189.2 558.8 1189.6 559.3C1190.1 559.7 1190.6 560.4 1190.8 561C1191 561.7 1191.1 562.6 1191 563.3C1190.9 564.1 1190.5 564.9 1190 565.5C1189.5 566.1 1188.8 566.6 1188 566.9C1187.3 567.1 1186.3 567.2 1185.5 567C1184.6 566.8 1183.7 566.3 1183.1 565.6C1182.4 565 1181.8 564 1181.5 563C1181.2 562.1 1181.1 560.9 1181.3 559.9C1181.5 558.9 1182 557.7 1182.7 557C1183.4 556.2 1184.5 555.5 1185.5 555.2C1186.5 554.9 1187.8 554.8 1188.9 555.1C1190 555.4 1191.2 556.1 1192 557C1192.9 557.9 1193.6 559.1 1194 560.4C1194.3 561.6 1194.1 563.8 1194.1 564.4"/>
<path d="M1001.4 538.9C1001.1 538.8 1000.4 538.4 1000.1 537.9C999.8 537.5 999.6 536.9 999.6 536.3C999.6 535.8 999.8 535.1 1000.1 534.6C1000.4 534 1001 533.5 1001.6 533.1C1002.2 532.8 1003 532.5 1003.8 532.5C1004.5 532.4 1005.4 532.6 1006 532.9C1006.7 533.2 1007.4 533.8 1007.8 534.4C1008.2 535.1 1008.4 535.9 1008.4 536.7C1008.3 537.5 1008.1 538.4 1007.6 539.2C1007.1 539.9 1006.3 540.6 1005.5 541.1C1004.7 541.6 1003.6 541.9 1002.6 541.9C1001.6 541.9 1000.4 541.7 999.6 541.3C998.7 540.8 997.9 540 997.4 539.2C996.9 538.4 996.6 537.2 996.6 536.2C996.7 535.2 997.5 533.6 997.7 533.1"/>
<path d="M502.3 678.3C502.2 678.1 501.6 677.5 501.5 677.1C501.3 676.6 501.3 676 501.4 675.5C501.6 674.9 501.9 674.3 502.3 673.9C502.7 673.5 503.3 673.1 503.9 672.9C504.5 672.8 505.2 672.7 505.9 672.9C506.5 673 507.2 673.4 507.7 673.9C508.2 674.3 508.6 675 508.8 675.7C509 676.4 509 677.3 508.8 678C508.6 678.7 508.2 679.5 507.6 680.1C507 680.7 506.2 681.2 505.3 681.4C504.5 681.6 503.5 681.6 502.7 681.4C501.8 681.2 500.9 680.7 500.3 680C499.6 679.4 499.1 678.5 498.9 677.6C498.6 676.7 498.7 675.5 498.9 674.6C499.2 673.7 500.3 672.4 500.6 671.9"/>
<path d="M484.6 700C484.2 700.4 483 702.1 482 702.6C481 703.1 479.7 703.5 478.7 703.2C477.6 702.9 476.3 701.8 475.7 700.8C475.2 699.7 475.1 698.1 475.3 696.9C475.5 695.7 476.1 694.2 477 693.6C477.9 693 479.6 692.7 480.7 693.1C481.8 693.5 483.2 694.9 483.6 695.9C483.9 697 482.8 697.9 482.8 699.3C482.8 700.8 483.3 703.7 483.4 704.6"/>
<path d="M514 695.8C513.7 695 512.1 692.8 512.3 691.4C512.4 690 513.7 688.2 514.8 687.3C516 686.4 517.8 686 519.2 686.1C520.7 686.2 522.9 686.7 523.7 687.8C524.6 688.9 524.6 691 524.5 692.5C524.3 694.1 523.9 696.3 522.8 697.2C521.8 698.1 519.3 698 518 698C516.6 698.1 515.8 698.6 514.7 697.7C513.6 696.9 511.8 693.7 511.3 692.9"/>
<path d="M531.1 694.2C530.8 693.4 529.3 691 529.1 689.3C529 687.6 529.3 685.3 530.2 683.9C531.1 682.5 533.2 681.2 534.7 680.9C536.2 680.7 538.2 681.4 539.4 682.4C540.6 683.3 541.7 685.2 541.9 686.8C542.1 688.4 541.4 690.7 540.5 692.1C539.5 693.5 537.8 694.9 536.2 695.3C534.5 695.7 531.7 695.4 530.4 694.5C529.2 693.6 528.8 690.9 528.4 690.2"/>
<path d="M486 676.9C486.1 676.3 485.9 674.4 486.6 673.5C487.2 672.6 488.7 671.7 489.8 671.6C490.9 671.5 492.4 672.1 493.3 672.8C494.2 673.5 495.1 674.8 495.3 675.8C495.4 676.9 494.9 678.3 494.2 679.1C493.5 680 492.3 680.8 491.2 681C490 681.2 488.4 680.8 487.4 680.2C486.4 679.6 485.5 678.1 485 677.3C484.5 676.4 484.7 675.5 484.6 675.2"/>
<path d="M517.6 683.1C517 683.4 515.4 685.1 514.2 685.4C512.9 685.7 511 685.7 510 685C509.1 684.4 508.6 682.8 508.5 681.6C508.4 680.5 508.7 679.2 509.4 678.2C510 677.2 511.3 676.2 512.5 675.9C513.7 675.6 515.4 675.7 516.4 676.3C517.5 676.9 518.8 678.5 518.8 679.3C518.7 680.1 517.5 680.7 516.4 681.3C515.3 682 512.9 683.1 512.2 683.4"/>
<path d="M735.6 572.4C734.9 571.8 732.2 570.4 731.4 568.9C730.5 567.4 730.1 565.2 730.4 563.6C730.7 562.1 732 560.5 733.3 559.5C734.6 558.6 736.8 557.7 738.2 558.1C739.7 558.5 741.1 560.4 742.1 562C743 563.5 744.2 565.6 744 567.2C743.7 568.7 741.9 570.3 740.5 571C739 571.7 737.1 572.1 735.3 571.4C733.5 570.8 730.6 567.9 729.6 567.2"/>
<path d="M686.8 599.5C686.6 599.4 685.9 599.1 685.6 598.7C685.2 598.3 685 597.7 684.9 597C684.7 596.4 684.8 595.7 684.9 595C685.1 594.4 685.5 593.7 685.9 593.2C686.4 592.7 687 592.3 687.7 592.1C688.3 591.9 689.1 591.9 689.7 592.2C690.3 592.4 691 592.9 691.4 593.5C691.9 594.1 692.3 595 692.4 595.8C692.5 596.7 692.4 597.8 692.2 598.6C691.9 599.5 691.4 600.5 690.7 601.1C690.1 601.7 689.2 602.3 688.4 602.5C687.6 602.7 686.6 602.7 685.7 602.3C684.9 602 684.1 601.4 683.5 600.5C682.9 599.7 682.4 598.6 682.3 597.5C682.2 596.3 682.6 594.5 682.6 593.9"/>
<path d="M479.7 686.1C479.6 685.4 478.7 683.1 478.8 681.6C479 680.2 479.7 678.4 480.7 677.5C481.7 676.6 483.3 676.4 484.6 676.4C485.9 676.4 487.8 676.6 488.6 677.6C489.4 678.5 489.7 680.6 489.6 682.1C489.4 683.6 488.7 685.6 487.7 686.4C486.8 687.3 485.2 687.6 483.7 687.4C482.1 687.2 478.9 686.5 478.3 685.2C477.7 684 479.7 680.8 480 679.9"/>
<path d="M690.2 607.5C690.3 607.7 690.6 608.4 690.5 608.9C690.5 609.4 690.3 609.9 690 610.4C689.7 610.8 689.2 611.2 688.7 611.4C688.2 611.7 687.5 611.8 686.9 611.7C686.3 611.7 685.6 611.5 685.1 611.1C684.6 610.7 684.1 610.2 683.8 609.6C683.5 609 683.4 608.2 683.4 607.5C683.5 606.9 683.8 606.1 684.2 605.5C684.7 604.9 685.4 604.4 686.1 604.1C686.8 603.8 687.7 603.6 688.5 603.7C689.3 603.8 690.3 604.1 691 604.6C691.6 605.1 692.3 605.9 692.7 606.7C693 607.5 693.2 608.5 693.1 609.4C693 610.3 692.6 611.3 692 612C691.4 612.7 690 613.5 689.6 613.8"/>
<path d="M483.4 717.5C482.6 717.3 479.5 717.4 478.1 716.3C476.7 715.3 475.2 713 475 711.3C474.8 709.6 475.8 707.5 476.8 706.2C477.8 704.9 479.5 703.6 481 703.5C482.5 703.4 484.6 704.3 485.9 705.4C487.3 706.4 488.8 708.3 489.1 709.9C489.4 711.5 488.8 713.7 487.8 715C486.8 716.4 484.6 718.3 483.2 718.2C481.8 718.1 479.9 715.2 479.3 714.6"/>
<path d="M515.3 677.5C514.9 677.1 512.8 675.9 512.5 674.9C512.1 673.8 512.6 672.4 513.2 671.3C513.7 670.2 514.6 668.9 515.8 668.5C516.9 668 518.8 668.1 519.9 668.6C521.1 669.1 522.3 670.2 522.7 671.3C523.2 672.4 523 674 522.5 675.1C522 676.1 520.4 677.2 519.5 677.6C518.5 678 517.4 677.9 516.5 677.4C515.7 676.9 514.7 674.9 514.3 674.4"/>
<path d="M663.9 597.7C664.6 598.1 667.3 598.8 668.1 600C669 601.3 669.2 603.9 669 605.5C668.7 607.1 667.7 608.9 666.6 609.8C665.5 610.6 663.6 611.1 662.3 610.7C661 610.4 659.5 609 658.6 607.6C657.7 606.3 656.8 604.2 656.9 602.5C657 600.9 657.9 598.9 659.3 597.8C660.7 596.8 663.6 596.1 665.3 596.2C667 596.3 668.8 598.1 669.5 598.5"/>
<path d="M480.7 684.4C481 685 482.4 687.1 482.2 688.3C482 689.5 480.8 690.8 479.7 691.6C478.5 692.5 476.8 693.3 475.4 693.2C474.1 693.1 472.4 692 471.5 690.9C470.5 689.9 469.6 688.3 469.7 687C469.8 685.8 470.9 684.2 472.1 683.4C473.2 682.6 474.9 682.4 476.6 682.5C478.3 682.7 481.3 683.6 482.2 684.2C483.1 684.9 481.9 686.1 481.8 686.4"/>
<path d="M648.2 610.6C648.2 609.8 647.7 607.2 648.2 606C648.7 604.9 650.1 603.8 651.3 603.5C652.4 603.1 654 603.5 655.2 604.1C656.4 604.7 657.9 605.8 658.4 607C659 608.3 658.9 610.2 658.5 611.4C658 612.6 656.9 614 655.7 614.4C654.6 614.9 652.7 614.8 651.5 613.9C650.2 613 648.8 610.3 648.1 608.8C647.5 607.3 647.5 605.7 647.4 605.1"/>
<path d="M541 649.7C541.2 649.7 541.9 649.5 542.4 649.5C542.8 649.5 543.4 649.7 543.8 650C544.2 650.2 544.6 650.6 544.9 651.1C545.1 651.5 545.2 652.1 545.2 652.6C545.2 653.1 545 653.7 544.6 654.2C544.3 654.6 543.8 655 543.2 655.2C542.7 655.5 541.9 655.6 541.3 655.5C540.6 655.4 539.8 655.2 539.3 654.8C538.7 654.4 538.1 653.8 537.8 653.2C537.5 652.5 537.4 651.8 537.4 651.1C537.5 650.4 537.8 649.6 538.3 649C538.7 648.4 539.4 647.9 540.2 647.6C540.9 647.4 541.9 647.2 542.8 647.3C543.6 647.5 544.6 647.8 545.3 648.3C546 648.9 546.8 650.1 547.1 650.4"/>
<path d="M730.8 548.9C731.6 549 734.2 549.1 735.4 550C736.7 550.8 738 552.5 738.2 554C738.5 555.6 737.8 558 736.8 559.2C735.7 560.4 733.7 561.1 732 561.3C730.4 561.5 728.3 561.5 727.1 560.7C725.8 559.8 724.9 557.7 724.8 556.1C724.7 554.5 725.4 552.3 726.4 551.2C727.3 550.1 728.7 549.8 730.3 549.4C731.9 548.9 734.9 548.6 735.8 548.5"/>
<path d="M1456.9 812C1456.7 812.1 1456.3 812.7 1455.8 812.9C1455.4 813 1454.8 813.1 1454.3 813.1C1453.8 813 1453.2 812.8 1452.7 812.5C1452.2 812.2 1451.8 811.7 1451.5 811.2C1451.2 810.7 1451.1 810.1 1451.1 809.5C1451.2 809 1451.4 808.3 1451.8 807.9C1452.1 807.4 1452.7 807 1453.4 806.7C1454 806.5 1454.8 806.4 1455.6 806.5C1456.3 806.6 1457.1 806.9 1457.8 807.3C1458.4 807.8 1459 808.4 1459.3 809.1C1459.7 809.8 1459.9 810.6 1459.8 811.4C1459.7 812.1 1459.4 813 1458.9 813.6C1458.3 814.2 1457.6 814.8 1456.7 815C1455.9 815.3 1454.8 815.4 1453.9 815.3C1452.9 815.2 1451.5 814.4 1451.1 814.2"/>
<path d="M1431.2 767.3C1431.2 767.6 1431.1 768.4 1430.8 768.8C1430.5 769.3 1430 769.8 1429.5 770C1429 770.3 1428.4 770.5 1427.8 770.4C1427.2 770.4 1426.5 770.2 1425.9 769.8C1425.4 769.5 1424.8 768.9 1424.5 768.3C1424.2 767.7 1424 766.9 1424.1 766.1C1424.1 765.4 1424.4 764.6 1424.8 763.9C1425.3 763.3 1425.9 762.7 1426.7 762.3C1427.4 762 1428.3 761.8 1429.1 761.8C1430 761.9 1430.9 762.2 1431.6 762.7C1432.4 763.2 1433 764 1433.4 764.9C1433.8 765.7 1434 766.8 1433.9 767.7C1433.9 768.7 1433.5 769.8 1432.9 770.6C1432.3 771.4 1431.5 772.2 1430.5 772.6C1429.6 773 1427.9 773.1 1427.3 773.2"/>
<path d="M1464.9 834.6C1465 834.5 1465.2 833.9 1465.6 833.6C1465.9 833.3 1466.3 833.1 1466.8 833C1467.2 833 1467.8 833 1468.3 833.2C1468.7 833.4 1469.2 833.7 1469.6 834.1C1469.9 834.6 1470.2 835.1 1470.4 835.7C1470.5 836.2 1470.4 836.9 1470.3 837.4C1470.1 837.9 1469.7 838.5 1469.2 838.9C1468.8 839.2 1468.1 839.5 1467.5 839.6C1466.8 839.6 1466.1 839.5 1465.4 839.3C1464.8 839 1464.1 838.5 1463.6 837.9C1463.2 837.4 1462.8 836.6 1462.7 835.9C1462.5 835.1 1462.6 834.3 1462.9 833.6C1463.1 832.9 1463.6 832.2 1464.2 831.7C1464.9 831.2 1465.7 830.9 1466.5 830.8C1467.4 830.8 1468.7 831.2 1469.2 831.3"/>
<path d="M1408.5 757.5C1408.4 757.3 1408 756.6 1408 756.2C1407.9 755.7 1408 755.1 1408.2 754.7C1408.3 754.2 1408.6 753.8 1409 753.5C1409.4 753.2 1409.9 753 1410.4 753C1410.9 753 1411.5 753.1 1411.9 753.4C1412.4 753.7 1412.9 754.2 1413.2 754.7C1413.5 755.3 1413.8 756 1413.8 756.7C1413.9 757.4 1413.8 758.2 1413.5 758.8C1413.3 759.4 1412.8 760 1412.3 760.4C1411.8 760.8 1411 761 1410.4 761C1409.7 761 1408.9 760.8 1408.3 760.4C1407.7 760 1407 759.3 1406.6 758.6C1406.2 757.8 1405.9 756.9 1405.9 756C1405.8 755.1 1406 754.1 1406.3 753.3C1406.7 752.5 1407.7 751.6 1408 751.3"/>
<path d="M1341.6 680.7C1341.5 680.6 1341 680.1 1340.8 679.6C1340.6 679.2 1340.5 678.6 1340.6 678.1C1340.6 677.6 1340.8 677 1341.1 676.6C1341.4 676.1 1341.8 675.7 1342.3 675.5C1342.7 675.2 1343.4 675.1 1343.9 675.2C1344.4 675.2 1345.1 675.5 1345.5 675.9C1346 676.3 1346.4 676.9 1346.7 677.5C1346.9 678.2 1347 679 1346.9 679.7C1346.9 680.4 1346.6 681.2 1346.2 681.8C1345.8 682.4 1345.1 683 1344.5 683.3C1343.8 683.6 1343 683.7 1342.3 683.6C1341.6 683.5 1340.8 683.1 1340.2 682.6C1339.6 682 1339 681.2 1338.7 680.4C1338.4 679.6 1338.3 678.5 1338.4 677.6C1338.5 676.7 1339.3 675.4 1339.4 674.9"/>
<path d="M1450.3 809.6C1449.6 810.2 1447.9 813 1446.3 813.6C1444.7 814.2 1442 813.9 1440.4 813.1C1438.8 812.3 1437.2 810.4 1436.7 808.8C1436.3 807.2 1437.1 805 1438 803.4C1438.9 801.9 1440.5 799.9 1442.1 799.4C1443.8 798.9 1446.3 799.4 1447.8 800.3C1449.3 801.1 1450.9 802.8 1451.1 804.4C1451.3 806.1 1449.6 808.3 1449 809.9C1448.5 811.6 1447.9 813.5 1447.6 814.2"/>
<path d="M1406.1 776.9C1405.4 776.9 1403.4 777.5 1402.2 777.1C1401 776.8 1399.5 775.9 1398.9 774.9C1398.3 773.8 1398.3 772.1 1398.7 770.8C1399 769.6 1399.9 768 1401 767.4C1402.1 766.8 1403.9 766.7 1405.2 767.1C1406.4 767.5 1408 768.5 1408.7 769.6C1409.3 770.8 1409.3 772.8 1409.1 774C1408.8 775.3 1408.7 777.1 1407.3 777.3C1406 777.5 1402.1 775.6 1401 775.2"/>
<path d="M1407.5 791.1C1406.8 790.4 1404 788.8 1403.5 787.1C1403 785.4 1403.4 782.8 1404.3 781.1C1405.1 779.4 1407 777.4 1408.7 776.9C1410.4 776.4 1412.9 777 1414.4 778C1416 778.9 1417.3 780.8 1417.8 782.5C1418.3 784.3 1418.2 786.7 1417.4 788.4C1416.6 790.1 1414.4 792.1 1413 792.6C1411.5 793 1410.3 792.4 1408.6 791.2C1406.8 789.9 1403.4 786.1 1402.4 785.1"/>
<path d="M1441 793.6C1440.9 793.9 1440.6 794.7 1440.3 795.1C1439.9 795.5 1439.3 795.8 1438.7 796C1438.2 796.1 1437.5 796.2 1436.9 796C1436.2 795.8 1435.6 795.5 1435.1 795C1434.6 794.5 1434.2 793.8 1434 793.1C1433.8 792.5 1433.8 791.6 1434 790.9C1434.2 790.2 1434.7 789.4 1435.2 788.8C1435.8 788.3 1436.6 787.8 1437.4 787.6C1438.2 787.5 1439.2 787.5 1440.1 787.7C1440.9 788 1441.8 788.5 1442.4 789.2C1443 789.8 1443.6 790.8 1443.8 791.7C1444 792.6 1444 793.7 1443.7 794.7C1443.4 795.6 1442.8 796.6 1442.1 797.3C1441.3 798 1440.2 798.6 1439.2 798.8C1438.1 799 1436.4 798.7 1435.8 798.7"/>
<path d="M1309.3 630.8C1309.4 630 1309.4 627.5 1310.1 626.4C1310.8 625.4 1312.2 624.5 1313.3 624.4C1314.5 624.2 1316 624.8 1317 625.6C1318 626.4 1319.2 627.9 1319.4 629.1C1319.7 630.3 1319.1 631.9 1318.5 633C1317.9 634.1 1316.8 635.5 1315.7 635.7C1314.7 635.9 1313.1 635 1311.9 634.3C1310.8 633.5 1309.2 632.3 1309 631.3C1308.9 630.3 1310.8 628.7 1311.2 628.2"/>
<path d="M1462.6 829.5C1462.2 830.2 1461.6 832.6 1460.6 833.5C1459.5 834.5 1457.7 835.3 1456.3 835.2C1454.9 835 1453.1 833.6 1452.1 832.4C1451.1 831.2 1450.5 829.5 1450.4 828.1C1450.3 826.7 1450.7 824.9 1451.6 823.9C1452.6 822.9 1454.5 822.1 1456 822.3C1457.5 822.4 1459.1 824 1460.5 825C1461.9 826 1464.7 826.9 1464.5 828.2C1464.3 829.5 1460.1 831.8 1459.3 832.6"/>
<path d="M1341.7 649.2C1341.4 649.7 1341 651.7 1340.1 652.4C1339.3 653 1337.6 653 1336.6 652.9C1335.5 652.7 1334.4 652.1 1333.7 651.3C1333 650.5 1332.4 649.1 1332.5 648C1332.7 646.9 1333.6 645.5 1334.6 644.8C1335.5 644.1 1337.2 643.7 1338.3 643.9C1339.4 644.1 1340.4 645.1 1341.3 645.8C1342.2 646.5 1343.9 646.9 1343.6 647.9C1343.4 649 1340.4 651.5 1339.8 652.2"/>
<path d="M1407.7 772.1C1407.8 771.5 1407.7 769.5 1408.2 768.5C1408.8 767.6 1409.9 766.7 1410.9 766.4C1412 766.1 1413.4 766 1414.5 766.5C1415.5 766.9 1416.8 768.1 1417.2 769.2C1417.5 770.2 1416.9 771.8 1416.3 772.8C1415.7 773.8 1414.8 774.9 1413.8 775.2C1412.7 775.6 1410.9 775.2 1410.1 774.9C1409.3 774.6 1409.7 774.6 1409.2 773.3C1408.7 772 1407.6 768.2 1407.3 767.1"/>
<path d="M1417.1 743.3C1417.7 742.9 1419.2 741 1420.4 740.8C1421.6 740.6 1423.2 741.6 1424.1 742.3C1425.1 743.1 1426 744.3 1426.2 745.5C1426.4 746.6 1426 748.5 1425.2 749.4C1424.5 750.3 1422.8 750.7 1421.5 750.9C1420.2 751.1 1418.4 751.1 1417.4 750.5C1416.4 749.8 1415.6 747.9 1415.6 746.9C1415.6 745.9 1416.4 745.6 1417.3 744.7C1418.2 743.8 1420.4 742 1421 741.5"/>
<path d="M1387.6 713.1C1387.1 713.5 1385.7 715.4 1384.5 715.8C1383.3 716.2 1381.5 716.2 1380.2 715.7C1378.9 715.1 1377.2 713.6 1376.7 712.3C1376.2 711.1 1376.6 709.2 1377.2 708C1377.7 706.8 1378.8 705.6 1380 705.1C1381.2 704.7 1383.2 704.6 1384.5 705.2C1385.7 705.8 1387.1 707.6 1387.3 708.8C1387.5 709.9 1386.4 711.1 1385.7 712.1C1385 713.1 1383.4 714.4 1383 714.8"/>
<path d="M1395.8 733.1C1396.4 733.3 1398.6 733.5 1399.4 734.2C1400.3 734.8 1400.8 736.2 1400.9 737.2C1401 738.2 1400.7 739.6 1399.9 740.3C1399.2 740.9 1397.6 741.2 1396.4 741.1C1395.3 741 1393.9 740.6 1393 739.9C1392 739.2 1390.9 737.9 1390.8 736.9C1390.7 735.9 1391.4 734.3 1392.3 733.8C1393.1 733.3 1395 733.9 1396 733.9C1397 733.9 1397.8 734 1398.2 734"/>
<path d="M1392.3 713.4C1392.5 713.2 1393 712.7 1393.5 712.5C1393.9 712.3 1394.5 712.2 1395 712.3C1395.6 712.4 1396.2 712.6 1396.6 713C1397 713.3 1397.4 713.8 1397.6 714.4C1397.8 715 1397.9 715.7 1397.8 716.3C1397.7 716.9 1397.3 717.6 1396.9 718.1C1396.5 718.6 1395.8 719.1 1395.1 719.3C1394.5 719.6 1393.6 719.7 1392.9 719.5C1392.2 719.4 1391.3 719.1 1390.8 718.6C1390.2 718 1389.7 717.3 1389.4 716.5C1389.2 715.8 1389.1 714.8 1389.3 714C1389.5 713.2 1389.9 712.2 1390.5 711.6C1391.1 710.9 1392 710.3 1392.9 710C1393.7 709.7 1394.8 709.7 1395.8 709.8C1396.7 710 1398 710.9 1398.4 711.2"/>
<path d="M1412.4 728.8C1412.9 729.3 1414.8 730.7 1415.2 732C1415.6 733.3 1415.5 735.3 1414.9 736.6C1414.3 738 1412.8 739.6 1411.4 740.2C1410.1 740.8 1407.9 740.9 1406.7 740.3C1405.5 739.7 1404.7 738 1404.3 736.6C1403.9 735.3 1403.9 733.4 1404.5 732.1C1405.1 730.7 1406.9 729 1407.9 728.5C1408.9 728 1409.1 728.4 1410.6 729.1C1412.1 729.7 1416.1 731.9 1417.1 732.4"/>
<path d="M1459.5 840.6C1459.7 840.8 1460.4 841.2 1460.7 841.6C1461 842 1461.3 842.6 1461.3 843.2C1461.3 843.7 1461.2 844.4 1460.9 844.9C1460.7 845.5 1460.2 846 1459.6 846.4C1459.1 846.7 1458.3 847 1457.6 847.1C1456.9 847.1 1456.1 847 1455.5 846.7C1454.8 846.4 1454.2 845.8 1453.8 845.2C1453.3 844.6 1453 843.7 1453 842.9C1453 842.2 1453.2 841.2 1453.6 840.5C1454 839.8 1454.7 839 1455.5 838.5C1456.2 838.1 1457.2 837.7 1458.2 837.7C1459.1 837.7 1460.2 837.9 1461 838.3C1461.9 838.7 1462.7 839.5 1463.2 840.3C1463.7 841.1 1464.1 842.2 1464.1 843.2C1464.1 844.2 1463.4 845.8 1463.3 846.3"/>
<path d="M1340 662.7C1340.7 662.7 1343 662.3 1344.2 662.8C1345.4 663.4 1346.5 664.8 1346.9 666C1347.4 667.3 1347.4 669 1346.9 670.3C1346.5 671.7 1345.4 673.3 1344.2 673.9C1343.1 674.4 1341.1 674.2 1340 673.6C1338.9 673.1 1338 671.7 1337.5 670.4C1337 669.2 1336.8 667.3 1337.1 666.1C1337.4 665 1338.3 664.1 1339.2 663.4C1340.1 662.8 1341.7 662.5 1342.2 662.3"/>
<path d="M1387.6 733.8C1386.9 733.3 1384.1 732.3 1383.3 731.1C1382.5 729.8 1382.5 727.9 1382.9 726.4C1383.3 724.8 1384.3 722.8 1385.7 722C1387.2 721.2 1389.8 721.2 1391.5 721.7C1393.1 722.1 1394.8 723.5 1395.6 724.8C1396.4 726.1 1396.7 728.1 1396.2 729.5C1395.8 730.9 1394.6 732.5 1392.8 733.3C1391.1 734.1 1387.5 734.8 1385.8 734.3C1384 733.7 1383 730.6 1382.4 729.9"/>
<path d="M1426.7 777.1C1427.6 776.9 1430.5 775.5 1432.2 775.9C1434 776.2 1436 777.6 1437 779.1C1438.1 780.5 1438.7 783 1438.3 784.7C1438 786.4 1436.5 788.6 1435 789.5C1433.5 790.5 1430.9 790.7 1429.2 790.2C1427.6 789.7 1425.9 788.2 1425 786.8C1424.1 785.4 1423.5 783.3 1423.7 781.7C1423.8 780 1424.8 778 1425.9 776.8C1427.1 775.7 1429.9 775.3 1430.7 775"/>
<path d="M1420 788.3C1420.1 788.2 1420.1 787.7 1420.3 787.4C1420.5 787.1 1420.8 786.8 1421.1 786.5C1421.5 786.3 1421.9 786.2 1422.4 786.1C1422.8 786.1 1423.3 786.1 1423.7 786.3C1424.1 786.4 1424.5 786.7 1424.7 787.1C1424.9 787.4 1425.1 787.8 1425.1 788.3C1425.1 788.7 1424.9 789.2 1424.6 789.6C1424.4 790.1 1423.9 790.5 1423.4 790.8C1422.9 791 1422.2 791.3 1421.7 791.3C1421.1 791.4 1420.4 791.3 1419.9 791C1419.3 790.8 1418.8 790.4 1418.5 790C1418.2 789.5 1418 788.9 1418.1 788.3C1418.1 787.8 1418.3 787.1 1418.7 786.6C1419.1 786 1419.7 785.5 1420.3 785.1C1421 784.8 1422.2 784.6 1422.6 784.5"/>
<path d="M1395.3 725.2C1395.7 724.3 1396.6 721 1398 720.1C1399.5 719.2 1402 719.6 1403.9 720C1405.7 720.4 1408 721.1 1408.9 722.4C1409.9 723.7 1409.8 726.2 1409.4 727.9C1409 729.6 1408.1 731.8 1406.7 732.7C1405.3 733.7 1402.6 734 1400.9 733.6C1399.2 733.2 1397 731.5 1396.3 730.5C1395.6 729.4 1396.7 729 1396.7 727.1C1396.7 725.2 1396.5 720.4 1396.4 719"/>
<path d="M1345.1 683.6C1345.7 683.6 1347.8 683 1348.9 683.4C1349.9 683.8 1351 684.9 1351.5 686C1352 687.1 1352.5 688.8 1352.1 689.9C1351.8 691.1 1350.5 692.4 1349.4 692.9C1348.3 693.4 1346.8 693.5 1345.6 693.1C1344.5 692.8 1343.1 691.9 1342.6 690.8C1342 689.7 1341.8 687.7 1342.3 686.7C1342.8 685.6 1344.3 684.5 1345.5 684.2C1346.7 684 1349 684.9 1349.7 685"/>
<path d="M1418.5 758.9C1418.6 758.4 1418.8 756.5 1419.6 755.8C1420.3 755.1 1421.9 754.5 1423 754.5C1424.1 754.6 1425.4 755.5 1426.3 756.2C1427.3 756.9 1428.4 757.8 1428.6 758.8C1428.8 759.7 1428.3 761.2 1427.5 761.8C1426.7 762.5 1425.2 762.7 1424 762.7C1422.8 762.6 1421.5 762.4 1420.5 761.6C1419.6 760.9 1418.7 759.1 1418.4 757.9C1418 756.7 1418.3 755 1418.3 754.5"/>
<path d="M996.5 579.8C996.3 579.8 995.7 580.1 995.3 580.1C995 580.1 994.5 580 994.2 579.8C993.8 579.6 993.5 579.2 993.3 578.8C993.1 578.5 993 577.9 993.1 577.4C993.1 577 993.3 576.4 993.6 576C993.9 575.5 994.4 575.1 994.9 574.9C995.4 574.6 996 574.4 996.6 574.4C997.1 574.5 997.7 574.6 998.2 575C998.7 575.3 999.1 575.8 999.4 576.3C999.6 576.9 999.7 577.6 999.6 578.2C999.5 578.9 999.3 579.6 998.8 580.2C998.4 580.8 997.8 581.3 997.1 581.7C996.5 582 995.6 582.2 994.9 582.1C994.2 582.1 993.4 581.8 992.8 581.4C992.2 581 991.6 579.9 991.4 579.6"/>
<path d="M910.6 595.7C911.3 595.6 913.6 594.8 914.7 595C915.9 595.3 916.9 596.4 917.4 597.3C918 598.3 918.3 599.8 917.9 600.9C917.5 602 916.1 603.3 914.9 603.9C913.7 604.6 911.8 604.9 910.6 604.5C909.5 604.2 908.5 603 908.1 602C907.6 601 907.7 599.8 907.8 598.6C907.9 597.4 907.6 595.4 908.8 595C910.1 594.5 914.3 595.5 915.4 595.7"/>
<path d="M958.6 583.3C959.3 583.2 961.6 582.2 962.6 582.7C963.7 583.2 964.7 584.8 965.1 586.2C965.4 587.6 965.3 589.7 964.8 591C964.2 592.4 962.7 593.7 961.5 594.3C960.3 594.9 958.6 595.1 957.5 594.6C956.4 594.1 955.5 592.5 955.2 591.1C954.8 589.8 955.1 588.1 955.5 586.5C955.9 584.9 956.6 582.5 957.4 581.7C958.3 580.9 960.1 581.8 960.7 581.8"/>
<path d="M963.3 561.1C964.1 560.6 966.2 558.5 967.8 558.2C969.4 557.9 971.6 558.3 972.8 559.2C974 560.1 975 561.9 975.1 563.5C975.2 565 974.5 566.9 973.5 568.3C972.4 569.6 970.5 571.1 969 571.3C967.5 571.5 965.7 570.4 964.6 569.5C963.5 568.6 962.7 567.4 962.4 565.8C962.1 564.3 961.6 561.5 962.6 560.3C963.5 559.1 967.2 559 968.1 558.8"/>
<path d="M979.5 569.1C979.3 569 978.7 568.8 978.3 568.6C978 568.3 977.6 567.9 977.4 567.4C977.2 567 977.1 566.4 977.1 566C977.1 565.5 977.2 565 977.5 564.6C977.7 564.2 978.1 563.9 978.6 563.7C979 563.6 979.6 563.5 980.2 563.7C980.7 563.8 981.3 564.1 981.8 564.6C982.3 565 982.8 565.6 983.1 566.2C983.3 566.8 983.5 567.6 983.5 568.2C983.4 568.9 983.2 569.6 982.9 570.1C982.5 570.6 982 571 981.4 571.2C980.7 571.4 979.9 571.4 979.2 571.2C978.5 571 977.7 570.6 977.1 570C976.5 569.4 975.9 568.6 975.5 567.8C975.2 567 975.1 565.7 975 565.3"/>
<path d="M890.5 578C890.9 577.3 891.3 574.5 892.5 573.7C893.7 572.9 895.9 573 897.6 573.3C899.2 573.6 901.5 574.3 902.4 575.5C903.4 576.7 903.6 579 903.3 580.4C903 581.8 902 583.2 900.8 584C899.6 584.9 897.7 585.5 896.2 585.3C894.6 585 892.4 584.1 891.6 582.7C890.8 581.2 891.3 577.9 891.5 576.6C891.6 575.2 892.5 574.8 892.7 574.4"/>
<path d="M1067.1 593.8C1067.9 594.2 1071.1 595 1072.3 596.3C1073.4 597.5 1074.2 599.7 1074.2 601.2C1074.1 602.7 1073.2 604.4 1072.1 605.5C1071.1 606.6 1069.3 608 1067.7 608.1C1066 608.1 1063.5 607.1 1062.3 605.9C1061 604.7 1060.1 602.4 1060.1 600.7C1060 599 1060.6 596.7 1062 595.8C1063.4 595 1066.8 595.3 1068.6 595.6C1070.4 596 1072.1 597.5 1072.7 597.9"/>
<path d="M1073.1 610.4C1073.6 609.8 1074.6 607.6 1075.9 607.1C1077.1 606.7 1079.1 607.2 1080.4 607.9C1081.6 608.6 1082.7 610.1 1083.3 611.5C1083.9 612.8 1084.5 614.9 1084 616C1083.5 617.2 1081.7 618 1080.5 618.3C1079.2 618.6 1077.6 618.4 1076.3 617.8C1075.1 617.2 1073.8 615.6 1073.1 614.6C1072.4 613.7 1072 613.1 1072.4 611.9C1072.7 610.8 1074.7 608.3 1075.2 607.6"/>
<path d="M1022 599.1C1021.4 599.1 1019.4 599.3 1018.4 598.7C1017.5 598.2 1016.7 596.8 1016.5 595.8C1016.2 594.7 1016.3 593.4 1016.8 592.4C1017.3 591.4 1018.4 590.3 1019.5 590C1020.6 589.7 1022.3 590 1023.3 590.6C1024.3 591.2 1025.4 592.5 1025.7 593.6C1026 594.7 1025.6 596.6 1025.1 597.3C1024.5 598 1023.4 597.4 1022.5 597.8C1021.6 598.3 1020.1 599.6 1019.6 600"/>
<path d="M897.7 601C897.1 600.7 894.9 600 894.1 599C893.2 597.9 892.4 596 892.5 594.7C892.7 593.3 893.8 591.6 894.8 590.7C895.8 589.9 897.2 589.3 898.4 589.4C899.5 589.4 901 590.1 901.8 591C902.5 592 903.1 593.7 903 595.1C903 596.4 902.1 598.1 901.5 599.2C900.8 600.4 900.1 601.7 899.1 601.8C898 601.8 895.6 599.9 895 599.5"/>
<path d="M1074.8 569.7C1074.4 570.3 1073.5 572.6 1072.4 573.2C1071.3 573.9 1069.5 573.9 1068.2 573.6C1066.9 573.2 1065.3 572.5 1064.4 571.4C1063.6 570.3 1062.7 568.4 1062.9 567.2C1063.1 565.9 1064.4 564.7 1065.5 564C1066.6 563.2 1068.2 562.5 1069.5 562.7C1070.9 562.9 1072.4 564.4 1073.4 565.3C1074.4 566.2 1076 566.7 1075.5 568.1C1075 569.5 1071.3 572.9 1070.4 573.8"/>
<path d="M1076.4 585C1076.6 585.7 1077.7 587.6 1077.6 588.8C1077.4 590 1076.5 591.4 1075.6 592.1C1074.6 592.8 1073.1 593.2 1072 593.1C1070.8 593 1069.4 592.3 1068.7 591.4C1067.9 590.5 1067.2 588.9 1067.3 587.8C1067.4 586.6 1068.3 585 1069.2 584.3C1070.2 583.6 1072 583.4 1073 583.4C1073.9 583.4 1074.3 583.8 1075.2 584.4C1076 585.1 1077.4 586.8 1077.8 587.2"/>
<path d="M1253.3 674.8C1253.7 674.5 1254.6 672.9 1255.5 672.5C1256.5 672.1 1258.1 672.1 1259.1 672.4C1260.2 672.7 1261.2 673.6 1261.8 674.4C1262.3 675.3 1262.9 676.6 1262.6 677.5C1262.3 678.5 1261.2 679.6 1260.2 680C1259.2 680.4 1257.7 680.1 1256.6 679.8C1255.4 679.4 1253.8 678.6 1253.4 678.1C1253 677.5 1253.8 677.5 1254.2 676.4C1254.5 675.3 1255.4 672.2 1255.6 671.4"/>
<path d="M1248.4 626.7C1248.3 626.7 1247.7 626.6 1247.4 626.4C1247.1 626.2 1246.8 625.8 1246.6 625.4C1246.5 625 1246.4 624.5 1246.4 624.1C1246.5 623.6 1246.7 623 1246.9 622.6C1247.2 622.2 1247.6 621.8 1248.1 621.5C1248.5 621.3 1249.1 621.2 1249.6 621.2C1250.1 621.2 1250.7 621.4 1251.1 621.8C1251.5 622.1 1251.9 622.6 1252.1 623.2C1252.3 623.7 1252.4 624.5 1252.3 625.1C1252.2 625.8 1252 626.5 1251.6 627.1C1251.2 627.6 1250.6 628.1 1250 628.5C1249.4 628.8 1248.6 628.9 1248 628.9C1247.3 628.8 1246.6 628.5 1246 628.1C1245.5 627.6 1245 626.9 1244.8 626.2C1244.5 625.5 1244.6 624.1 1244.5 623.7"/>
<path d="M1254.4 650.5C1254.2 650.5 1253.6 650.4 1253.3 650.2C1253 650 1252.6 649.6 1252.3 649.3C1252.1 648.9 1251.9 648.4 1251.8 648C1251.8 647.5 1251.8 647 1252 646.7C1252.2 646.3 1252.5 645.9 1252.9 645.7C1253.3 645.5 1253.8 645.4 1254.4 645.4C1254.9 645.5 1255.5 645.7 1256 646C1256.5 646.3 1257 646.8 1257.3 647.3C1257.6 647.8 1257.9 648.5 1257.9 649.1C1258 649.7 1257.9 650.4 1257.6 650.9C1257.4 651.4 1256.9 651.9 1256.4 652.1C1255.8 652.4 1255.1 652.5 1254.4 652.5C1253.8 652.4 1253 652.1 1252.3 651.7C1251.7 651.2 1251.1 650.6 1250.6 649.9C1250.2 649.2 1250 648 1249.9 647.6"/>
<path d="M1250.7 656.6C1251.1 657.1 1253 658.6 1253.4 659.8C1253.8 661.1 1253.7 663 1253.1 664.1C1252.4 665.2 1250.9 666.1 1249.6 666.5C1248.4 666.9 1246.5 667.3 1245.4 666.7C1244.3 666.2 1243.3 664.5 1242.9 663.2C1242.5 661.9 1242.2 659.9 1242.8 658.7C1243.3 657.6 1245.3 656.1 1246.4 656.1C1247.5 656.1 1247.8 657.8 1249.3 658.5C1250.8 659.2 1254.2 659.9 1255.2 660.2"/>
<path d="M1251.4 605.8C1251.5 606.5 1252.3 608.7 1252 609.9C1251.6 611.1 1250.5 612.4 1249.4 613C1248.3 613.5 1246.5 613.5 1245.4 613.1C1244.2 612.7 1243 611.6 1242.4 610.5C1241.8 609.5 1241.4 607.9 1241.7 606.7C1241.9 605.5 1242.9 603.9 1244 603.4C1245 602.8 1246.9 602.8 1248 603.5C1249.2 604.2 1250.2 606.9 1250.8 607.7C1251.4 608.6 1251.5 608.6 1251.6 608.8"/>
<path d="M1322.6 757.1C1322.8 756.5 1323.1 754.2 1323.9 753.4C1324.8 752.5 1326.4 751.9 1327.6 751.9C1328.7 752 1329.9 752.9 1330.7 753.8C1331.4 754.6 1332.1 755.9 1332 757C1332 758 1331.3 759.3 1330.5 760.2C1329.7 761 1328.4 761.9 1327.3 762C1326.2 762.1 1324.5 761.8 1323.8 760.7C1323 759.5 1323.1 756.2 1322.9 755.2C1322.6 754.2 1322.6 754.8 1322.5 754.7"/>
<path d="M1262.7 711.1C1262.8 710.8 1262.8 710.1 1263 709.7C1263.2 709.3 1263.5 708.9 1263.9 708.6C1264.3 708.3 1264.8 708.1 1265.3 708.1C1265.8 708.1 1266.4 708.2 1266.9 708.5C1267.4 708.7 1267.9 709.1 1268.2 709.6C1268.5 710.1 1268.7 710.8 1268.7 711.4C1268.7 712 1268.6 712.8 1268.3 713.4C1268 713.9 1267.5 714.5 1267 714.9C1266.4 715.2 1265.6 715.5 1264.9 715.5C1264.3 715.5 1263.4 715.3 1262.8 715C1262.2 714.6 1261.5 714 1261.1 713.3C1260.7 712.6 1260.5 711.8 1260.5 710.9C1260.4 710.1 1260.6 709.2 1261 708.4C1261.4 707.7 1262.1 706.9 1262.8 706.5C1263.6 706.1 1265 705.9 1265.4 705.7"/>
<path d="M1254.9 712.9C1254.4 712.5 1252.9 711.7 1252.4 710.8C1251.8 709.8 1251.3 708.3 1251.4 707.1C1251.6 705.9 1252.6 704.5 1253.5 703.8C1254.3 703.1 1255.6 702.7 1256.5 702.8C1257.5 702.9 1258.9 703.6 1259.4 704.6C1259.9 705.5 1259.8 707.3 1259.5 708.4C1259.3 709.6 1259 710.9 1257.9 711.7C1256.8 712.5 1254.3 713.5 1253.2 713.3C1252.1 713.2 1251.6 711.1 1251.3 710.7"/>
<path d="M1246.3 677.9C1245.7 677.7 1243.3 677.5 1242.4 676.7C1241.5 675.9 1241 674.2 1240.9 672.9C1240.8 671.7 1241 670.1 1241.7 669.1C1242.4 668.1 1243.9 667.2 1245.2 667C1246.4 666.9 1248.1 667.3 1249.1 668.1C1250 668.9 1250.7 670.6 1250.7 671.8C1250.8 673 1250.1 674.4 1249.4 675.3C1248.8 676.3 1248.1 677.3 1246.9 677.7C1245.6 678.1 1242.9 677.6 1242.1 677.6"/>
<path d="M1261.2 657.7C1261 657.8 1260.5 658.1 1260.1 658.2C1259.6 658.2 1259.2 658.1 1258.8 657.8C1258.4 657.6 1258 657.2 1257.8 656.8C1257.5 656.3 1257.4 655.7 1257.4 655.1C1257.4 654.5 1257.5 653.9 1257.8 653.3C1258.1 652.8 1258.5 652.3 1259 651.9C1259.5 651.6 1260.2 651.4 1260.8 651.4C1261.3 651.4 1262 651.5 1262.6 651.9C1263.1 652.2 1263.6 652.8 1263.9 653.5C1264.2 654.1 1264.4 655 1264.4 655.7C1264.3 656.5 1264.1 657.4 1263.7 658.1C1263.3 658.8 1262.7 659.5 1262.1 659.9C1261.4 660.3 1260.6 660.6 1259.8 660.6C1259 660.6 1258.2 660.3 1257.5 659.9C1256.8 659.4 1256.1 658.2 1255.8 657.8"/>
<path d="M716 990C716.3 994.7 718.3 1031 719 1040C719.7 1049 723.5 1081.7 724 1086"/>
<path d="M721 993C747.3 992.1 840 988.3 900 987C960 985.7 1066.9 983.1 1130 984C1193.1 984.9 1273.2 989.8 1330 993C1386.8 996.2 1489.6 1004.1 1517 1006"/>
<path d="M1517 1006C1517.2 1010.1 1519.1 1041.5 1519 1050C1518.9 1058.5 1516.3 1092.6 1516 1097"/>
<path d="M719 1088C760.2 1088.3 914.8 1089 1000 1090C1085.2 1091 1223.4 1093.7 1300 1095C1376.6 1096.3 1489.4 1098.4 1522 1099"/>
</g>
<g class="ink">
<path d="M650 340L651 361L677 344Z"/>
<path d="M800 499L797 522L825 507Z"/>
<path d="M735 583L735 601L757 587Z"/>
<path d="M1080 712L1084 737L1112 721Z"/>
<path d="M479 719L503 724L490 741Z"/>
<path d="M571 741L596 731L586 758Z"/>
<path d="M904 754L935 755L912 777Z"/>
<path d="M-2 1.5Q25 15 -2 29Q19 15 -2 1.5Z"/>
<path d="M1583 1.5Q1605 14.5 1583 28Q1600 14.5 1583 1.5Z"/>
</g>
<g opacity="0.999">
<text x="36" y="134.2" font-size="34.0" textLength="58" lengthAdjust="spacingAndGlyphs" rotate="3 2 3 -5 -1" transform="rotate(1.8 36 134.2)">NOTE:</text>
<text x="108" y="136.3" font-size="33.6" textLength="80" lengthAdjust="spacingAndGlyphs" rotate="-4 -1 -3 0 0 -5" transform="rotate(2.1 108 136.3)">LIVING</text>
<text x="202" y="136.7" font-size="32.3" textLength="116" lengthAdjust="spacingAndGlyphs" rotate="2 -4 2 -4 1 -4 -5 3 -3" transform="rotate(2.1 202 136.7)">FERTILITY</text>
<text x="328" y="139.2" font-size="34.8" textLength="112" lengthAdjust="spacingAndGlyphs" rotate="-2 4 0 1 -3 3 1" transform="rotate(2.0 328 139.2)">SYSTEMS</text>
<text x="36" y="170.8" font-size="31.6" textLength="48" lengthAdjust="spacingAndGlyphs" rotate="-2 -4 -4" transform="rotate(0.3 36 170.8)">CAN</text>
<text x="98" y="170.1" font-size="29.7" textLength="32" lengthAdjust="spacingAndGlyphs" rotate="-5 1" transform="rotate(1.0 98 170.1)">BE</text>
<text x="140" y="171.1" font-size="29.7" textLength="72" lengthAdjust="spacingAndGlyphs" rotate="-1 -2 -1 1" transform="rotate(1.6 140 171.1)">MADE</text>
<text x="226" y="171.8" font-size="31.9" textLength="30" lengthAdjust="spacingAndGlyphs" rotate="2 3" transform="rotate(-0.4 226 171.8)">UP</text>
<text x="266" y="172.3" font-size="31.3" textLength="30" lengthAdjust="spacingAndGlyphs" rotate="0 -5" transform="rotate(0.5 266 172.3)">OF</text>
<text x="308" y="172.9" font-size="29.3" textLength="44" lengthAdjust="spacingAndGlyphs" rotate="-3 2 3" transform="rotate(1.9 308 172.9)">ALL</text>
<text x="362" y="175.3" font-size="29.8" textLength="182" lengthAdjust="spacingAndGlyphs" rotate="0 2 -4 2 2 3 -5 4 -4 -2 0 3" transform="rotate(0.4 362 175.3)">COMBINATIONS</text>
<text x="36" y="203.7" font-size="30.3" textLength="30" lengthAdjust="spacingAndGlyphs" rotate="-2 -2" transform="rotate(0.9 36 203.7)">OF</text>
<text x="72" y="204.0" font-size="27.6" textLength="94" lengthAdjust="spacingAndGlyphs" rotate="1 4 -4 -5 4 0" transform="rotate(-0.0 72 204.0)">THINGS</text>
<text x="184" y="205.9" font-size="28.1" textLength="18" lengthAdjust="spacingAndGlyphs" rotate="2 -1" transform="rotate(1.0 184 205.9)">IN</text>
<text x="218" y="206.4" font-size="27.5" textLength="42" lengthAdjust="spacingAndGlyphs" rotate="-5 -1 3" transform="rotate(1.8 218 206.4)">ALL</text>
<text x="264" y="206.6" font-size="29.7" textLength="132" lengthAdjust="spacingAndGlyphs" rotate="1 2 -4 -1 -4 3 -2 -1 4" transform="rotate(1.9 264 206.6)">DIFFERENT</text>
<text x="414" y="209.9" font-size="30.5" textLength="98" lengthAdjust="spacingAndGlyphs" rotate="-1 2 -1 -2 -1 -4" transform="rotate(0.7 414 209.9)">LAYERS</text>
<text x="522" y="210.6" font-size="30.5" rotate="1" transform="rotate(1.9 522 210.6)">-</text>
<text x="38" y="238.0" font-size="28.4" textLength="48" lengthAdjust="spacingAndGlyphs" rotate="-3 2 3" transform="rotate(-0.1 38 238.0)">USE</text>
<text x="102" y="238.8" font-size="29.9" textLength="72" lengthAdjust="spacingAndGlyphs" rotate="1 1 2 -2" transform="rotate(1.6 102 238.8)">WHAT</text>
<text x="192" y="240.8" font-size="28.3" textLength="16" lengthAdjust="spacingAndGlyphs" rotate="2 1" transform="rotate(0.9 192 240.8)">IS</text>
<text x="228" y="240.7" font-size="30.4" textLength="146" lengthAdjust="spacingAndGlyphs" rotate="0 -5 0 -3 1 -1 2 1 2" transform="rotate(1.3 228 240.7)">AVAILABLE</text>
<text x="382" y="243.3" font-size="29.4" rotate="2" transform="rotate(1.5 382 243.3)">&amp;</text>
<text x="420" y="243.9" font-size="30.0" textLength="52" lengthAdjust="spacingAndGlyphs" rotate="1 4 4" transform="rotate(1.8 420 243.9)">YOU</text>
<text x="42" y="261.0" font-size="24.9" textLength="118" lengthAdjust="spacingAndGlyphs" rotate="3 3 -1 1 1 2 -3 2" transform="rotate(0.4 42 261.0)">ACTUALLY</text>
<text x="184" y="264.1" font-size="25.3" textLength="58" lengthAdjust="spacingAndGlyphs" rotate="1 2 1 1" transform="rotate(1.0 184 264.1)">HAVE</text>
<text x="252" y="264.7" font-size="23.9" textLength="32" lengthAdjust="spacingAndGlyphs" rotate="1 -3" transform="rotate(1.1 252 264.7)">ON</text>
<text x="286" y="266.4" font-size="25.2" textLength="74" lengthAdjust="spacingAndGlyphs" rotate="-1 -3 -5 -4" transform="rotate(0.1 286 266.4)">HAND</text>
<text x="368" y="267.5" font-size="23.9" textLength="30" lengthAdjust="spacingAndGlyphs" rotate="-5 -1" transform="rotate(0.5 368 267.5)">OR</text>
<text x="406" y="268.4" font-size="25.1" textLength="58" lengthAdjust="spacingAndGlyphs" rotate="-3 3 -5" transform="rotate(1.4 406 268.4)">CAN</text>
<text x="472" y="269.8" font-size="24.2" textLength="80" lengthAdjust="spacingAndGlyphs" rotate="-4 2 -2 -5 1 -4" transform="rotate(1.0 472 269.8)">EASILY</text>
<text x="558" y="271.9" font-size="24.4" textLength="58" lengthAdjust="spacingAndGlyphs" rotate="4 2 -1 2" transform="rotate(1.4 558 271.9)">GET.</text>
<text x="48" y="321.3" font-size="32.6" textLength="64" lengthAdjust="spacingAndGlyphs" rotate="0 0 4 4" transform="rotate(-0.4 48 321.3)">DEAD</text>
<text x="128" y="321.8" font-size="32.5" textLength="62" lengthAdjust="spacingAndGlyphs" rotate="-5 -4 0 1" transform="rotate(1.4 128 321.8)">WOOD</text>
<text x="200" y="325.3" font-size="41.2" rotate="-2" transform="rotate(1.4 200 325.3)">/</text>
<text x="213" y="322.1" font-size="32.1" textLength="115" lengthAdjust="spacingAndGlyphs" rotate="4 -2 4 3 0 -3 4 -1" transform="rotate(-0.1 213 322.1)">WINDFALL</text>
<text x="348" y="323.0" font-size="32.4" textLength="112" lengthAdjust="spacingAndGlyphs" rotate="-1 -2 -1 -4 1 -1 -2 2" transform="rotate(1.6 348 323.0)">BRANCHES</text>
<text x="50" y="356.6" font-size="30.0" textLength="106" lengthAdjust="spacingAndGlyphs" rotate="-3 3 2 -3 -3 -4" transform="rotate(0.9 50 356.6)">MATTER</text>
<text x="166" y="358.6" font-size="31.0" textLength="62" lengthAdjust="spacingAndGlyphs" rotate="-1 1 0 2" transform="rotate(1.1 166 358.6)">THAT</text>
<text x="242" y="358.1" font-size="32.6" textLength="16" lengthAdjust="spacingAndGlyphs" rotate="0 -2" transform="rotate(0.4 242 358.1)">IS</text>
<text x="276" y="358.9" font-size="31.8" textLength="42" lengthAdjust="spacingAndGlyphs" rotate="-2 2 0" transform="rotate(0.7 276 358.9)">NOT</text>
<text x="340" y="359.3" font-size="30.8" textLength="124" lengthAdjust="spacingAndGlyphs" rotate="3 3 0 -5 2 -1 0 1 1 -1" transform="rotate(0.7 340 359.3)">SUPPORTING</text>
<text x="50" y="390.8" font-size="32.7" textLength="50" lengthAdjust="spacingAndGlyphs" rotate="3 -3 -2 2" transform="rotate(0.8 50 390.8)">LIFE</text>
<text x="114" y="390.4" font-size="34.3" textLength="146" lengthAdjust="spacingAndGlyphs" rotate="-1 -2 2 3 -4 -1 0 -1 -2" transform="rotate(1.6 114 390.4)">ELSEWHERE</text>
<text x="46" y="498.2" font-size="37.6" textLength="169" lengthAdjust="spacingAndGlyphs" rotate="-4 -3 2 2 1 -5 2 4 4" transform="rotate(1.5 46 498.2)">WOODCHIPS</text>
<text x="234" y="501.9" font-size="35.4" textLength="28" lengthAdjust="spacingAndGlyphs" rotate="-3 1" transform="rotate(1.6 234 501.9)">OR</text>
<text x="282" y="503.1" font-size="38.1" textLength="67" lengthAdjust="spacingAndGlyphs" rotate="-2 3 -4" transform="rotate(-0.1 282 503.1)">HAY</text>
<text x="51" y="555.2" font-size="36.9" textLength="93" lengthAdjust="spacingAndGlyphs" rotate="1 -5 -4 -2 -4 -4" transform="rotate(0.3 51 555.2)">RIPPED</text>
<text x="162" y="557.3" font-size="38.2" textLength="30" lengthAdjust="spacingAndGlyphs" rotate="-4 -1" transform="rotate(2.0 162 557.3)">UP</text>
<text x="209" y="557.6" font-size="37.6" textLength="153" lengthAdjust="spacingAndGlyphs" rotate="3 -2 -4 1 -4 1 0 3 0 1" transform="rotate(1.1 209 557.6)">CARDBOARD/</text>
<text x="52" y="596.5" font-size="36.0" textLength="94" lengthAdjust="spacingAndGlyphs" rotate="2 0 -4 -3 -2" transform="rotate(-0.6 52 596.5)">PAPER</text>
<text x="37" y="684.6" font-size="38.6" textLength="60" lengthAdjust="spacingAndGlyphs" rotate="1 -4 1" transform="rotate(0.5 37 684.6)">HAY</text>
<text x="106" y="683.0" font-size="38.3" textLength="128" lengthAdjust="spacingAndGlyphs" rotate="-3 3 -1 -2 2 -5 2 -5 -4 4" transform="rotate(0.2 106 683.0)">'BISCUITS'</text>
<text x="79" y="706.2" font-size="21.4" textLength="77" lengthAdjust="spacingAndGlyphs" rotate="4 1 2 -4 1 -2 -3 -2" transform="rotate(-0.9 79 706.2)">OPTIONAL</text>
<text x="50" y="750.2" font-size="32.5" textLength="112" lengthAdjust="spacingAndGlyphs" rotate="-4 2 1 2 -1 3" transform="rotate(-0.3 50 750.2)">MANURE</text>
<text x="180" y="750.0" font-size="33.4" textLength="92" lengthAdjust="spacingAndGlyphs" rotate="2 -1 -4 -5 -3 -5" transform="rotate(0.2 180 750.0)">SLURRY</text>
<text x="10" y="777.6" font-size="24.8" rotate="-5" transform="rotate(0.8 10 777.6)">-</text>
<text x="29" y="777.0" font-size="25.9" textLength="84" lengthAdjust="spacingAndGlyphs" rotate="-1 -1 -4 -4 -4 -2" transform="rotate(0.5 29 777.0)">MANURE</text>
<text x="121" y="780.2" font-size="30.9" rotate="-3" transform="rotate(-0.6 121 780.2)">/</text>
<text x="132" y="777.1" font-size="23.9" textLength="66" lengthAdjust="spacingAndGlyphs" rotate="-3 -1 -5 3 -2" transform="rotate(-0.3 132 777.1)">WATER</text>
<text x="201" y="781.2" font-size="30.9" rotate="-1" transform="rotate(0.6 201 781.2)">/</text>
<text x="212" y="778.3" font-size="23.8" textLength="107" lengthAdjust="spacingAndGlyphs" rotate="-2 1 2 -4 -3 -5 -3 -4 -1" transform="rotate(0.6 212 778.3)">CARDBOARD</text>
<text x="34" y="794.6" font-size="21.7" textLength="76" lengthAdjust="spacingAndGlyphs" rotate="-1 -2 2 1 -4 -3" transform="rotate(-0.5 34 794.6)">SOAKED</text>
<text x="129" y="794.2" font-size="23.1" textLength="36" lengthAdjust="spacingAndGlyphs" rotate="-1 4 -5" transform="rotate(0.4 129 794.2)">FOR</text>
<text x="176" y="793.4" font-size="22.7" textLength="74" lengthAdjust="spacingAndGlyphs" rotate="-5 0 4 0 -2" transform="rotate(-0.2 176 793.4)">WORMS</text>
<text x="50" y="844.1" font-size="35.5" textLength="134" lengthAdjust="spacingAndGlyphs" rotate="-1 3 -5 -3 -5 -1 -4" transform="rotate(1.9 50 844.1)">ORGANIC</text>
<text x="196" y="851.2" font-size="46.3" rotate="-5" transform="rotate(0.5 196 851.2)">/</text>
<text x="213" y="846.6" font-size="39.1" textLength="110" lengthAdjust="spacingAndGlyphs" rotate="0 -1 0 -4 -2 -4 0" transform="rotate(0.1 213 846.6)">KITCHEN</text>
<text x="340" y="850.6" font-size="37.6" textLength="84" lengthAdjust="spacingAndGlyphs" rotate="-3 -5 0 -1 0" transform="rotate(1.8 340 850.6)">WASTE</text>
<text x="51" y="927.7" font-size="39.1" textLength="63" lengthAdjust="spacingAndGlyphs" rotate="3 -2 -1 2" transform="rotate(0.7 51 927.7)">DEAD</text>
<text x="133" y="927.6" font-size="37.0" textLength="101" lengthAdjust="spacingAndGlyphs" rotate="-4 2 2 -2 -4 -4" transform="rotate(-0.3 133 927.6)">MATTER</text>
<text x="246" y="927.9" font-size="36.8" textLength="68" lengthAdjust="spacingAndGlyphs" rotate="0 -3 -4 1" transform="rotate(-0.0 246 927.9)">THAT</text>
<text x="334" y="927.7" font-size="37.3" textLength="49" lengthAdjust="spacingAndGlyphs" rotate="-2 -4 -1" transform="rotate(-0.4 334 927.7)">WAS</text>
<text x="396" y="928.5" font-size="39.7" textLength="44" lengthAdjust="spacingAndGlyphs" rotate="3 1 2" transform="rotate(0.3 396 928.5)">NOT</text>
<text x="47" y="970.2" font-size="37.0" textLength="113" lengthAdjust="spacingAndGlyphs" rotate="1 4 2 1 -3 2 -2" transform="rotate(0.9 47 970.2)">ALREADY</text>
<text x="182" y="969.5" font-size="35.5" textLength="146" lengthAdjust="spacingAndGlyphs" rotate="-3 1 -2 -4 2 0 -5 -5 -4 -2" transform="rotate(-0.6 182 969.5)">SUPPORTING</text>
<text x="347" y="971.6" font-size="39.1" textLength="58" lengthAdjust="spacingAndGlyphs" rotate="-3 -1 -2 -2" transform="rotate(0.4 347 971.6)">LIFE</text>
<text x="418" y="969.9" font-size="37.6" rotate="2" transform="rotate(0.9 418 969.9)">-</text>
<text x="44" y="1017.1" font-size="36.0" textLength="42" lengthAdjust="spacingAndGlyphs" rotate="1 -1 3" transform="rotate(-0.8 44 1017.1)">OLD</text>
<text x="100" y="1018.6" font-size="34.3" textLength="80" lengthAdjust="spacingAndGlyphs" rotate="3 -1 -1 -1 2" transform="rotate(-0.4 100 1018.6)">TREES</text>
<text x="202" y="1023.2" font-size="44.6" rotate="0" transform="rotate(1.1 202 1023.2)">/</text>
<text x="222" y="1017.2" font-size="37.1" textLength="138" lengthAdjust="spacingAndGlyphs" rotate="-5 4 -5 0 -1 3 -1 -3" transform="rotate(-0.2 222 1017.2)">WINDFALL</text>
<text x="378" y="1017.5" font-size="34.7" textLength="140" lengthAdjust="spacingAndGlyphs" rotate="-2 2 -3 -2 -3 4 3 3 1" transform="rotate(0.1 378 1017.5)">BRANCHES/</text>
<text x="40" y="1062.8" font-size="35.8" textLength="84" lengthAdjust="spacingAndGlyphs" rotate="-1 -5 -3 -4 1 3" transform="rotate(0.8 40 1062.8)">STICKS</text>
<text x="746" y="1062.8" font-size="66.9" textLength="115" lengthAdjust="spacingAndGlyphs" rotate="1 3 1 2 -2" transform="rotate(-0.5 746 1062.8)">ABOVE</text>
<text x="894" y="1061.9" font-size="64.9" textLength="161" lengthAdjust="spacingAndGlyphs" rotate="-3 -1 -2 -5 -2 -2" transform="rotate(0.1 894 1061.9)">GROUND</text>
<text x="1084" y="1063.4" font-size="66.2" textLength="202" lengthAdjust="spacingAndGlyphs" rotate="4 2 3 1 1 0 2 -2 0" transform="rotate(-0.3 1084 1063.4)">FERTILITY</text>
<text x="1313" y="1063.9" font-size="65.0" textLength="156" lengthAdjust="spacingAndGlyphs" rotate="-4 -4 -2 0 2 1" transform="rotate(-0.6 1313 1063.9)">SYSTEM</text>
</g>
</svg>
</body></html>
